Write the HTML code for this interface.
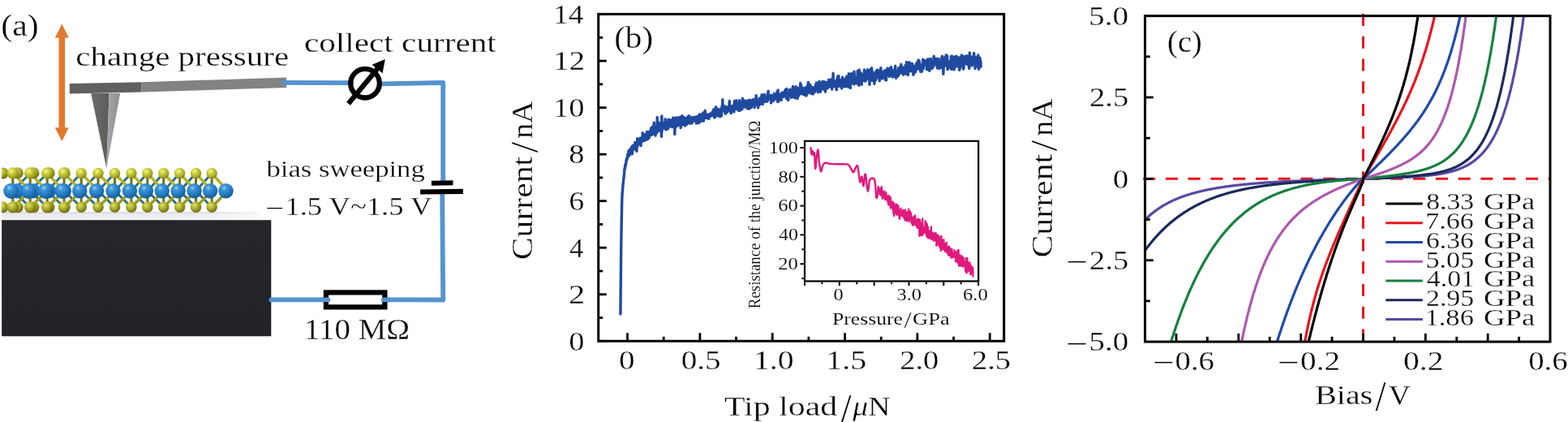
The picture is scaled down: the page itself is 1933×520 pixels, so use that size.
<!DOCTYPE html>
<html><head><meta charset="utf-8"><title>Figure</title>
<style>
html,body{margin:0;padding:0;background:#fff;overflow:hidden;}
svg{display:block;font-family:"Liberation Serif", "DejaVu Serif", serif;}
text{stroke:#fff;stroke-width:0.3px;}
</style></head>
<body>
<svg width="1933" height="520" viewBox="0 0 1933 520">
<rect width="1933" height="520" fill="#fff"/>
<defs>
<radialGradient id="gy" cx="0.38" cy="0.32" r="0.75">
 <stop offset="0" stop-color="#f4f59a"/><stop offset="0.35" stop-color="#cfd03c"/><stop offset="0.8" stop-color="#9a9a1e"/><stop offset="1" stop-color="#6e6e12"/></radialGradient>
<radialGradient id="gy2" cx="0.38" cy="0.32" r="0.75">
 <stop offset="0" stop-color="#dede6a"/><stop offset="0.4" stop-color="#b4b52e"/><stop offset="1" stop-color="#5e5e10"/></radialGradient>
<radialGradient id="gb" cx="0.38" cy="0.3" r="0.75">
 <stop offset="0" stop-color="#a0d0f4"/><stop offset="0.22" stop-color="#3f98d8"/><stop offset="0.65" stop-color="#2176bd"/><stop offset="1" stop-color="#125890"/></radialGradient>
<linearGradient id="gnd" x1="0" y1="0" x2="0" y2="1">
 <stop offset="0" stop-color="#d4d6dc"/><stop offset="0.3" stop-color="#eaebee"/><stop offset="1" stop-color="#f2f2f3"/></linearGradient>
<linearGradient id="gndh" x1="0" y1="0" x2="1" y2="0">
 <stop offset="0" stop-color="#fff" stop-opacity="0"/><stop offset="0.75" stop-color="#fff" stop-opacity="0.1"/><stop offset="1" stop-color="#fff" stop-opacity="0.8"/></linearGradient>
<linearGradient id="blk" x1="0" y1="0" x2="0" y2="1">
 <stop offset="0" stop-color="#25262a"/><stop offset="1" stop-color="#222326"/></linearGradient>
<linearGradient id="tipL" x1="0" y1="0" x2="1" y2="0">
 <stop offset="0" stop-color="#6c6c6c"/><stop offset="1" stop-color="#5a5d58"/></linearGradient>
<linearGradient id="tipR" x1="0" y1="0" x2="1" y2="0">
 <stop offset="0" stop-color="#a9a9a9"/><stop offset="1" stop-color="#8c8c8c"/></linearGradient>
</defs>
<text x="1.26" y="43.80" font-size="38.1" textLength="46.48" lengthAdjust="spacingAndGlyphs" fill="#000" >(a)</text>
<rect x="72.5" y="44" width="7.6" height="116" fill="#e3782f"/>
<polygon points="76.3,29.6 84.8,46.6 67.8,46.6" fill="#e3782f"/>
<polygon points="76.3,174 84.7,157.2 67.8,157.2" fill="#e3782f"/>
<polygon points="0,261 317,261 331,271.5 0,271.5" fill="url(#gnd)"/>
<polygon points="0,261 317,261 331,271.5 0,271.5" fill="url(#gndh)"/>
<rect x="2.1" y="271.2" width="332.2" height="143.1" fill="url(#blk)"/>
<g><line x1="37.2" y1="213.5" x2="15.8" y2="235.3" stroke="#236f84" stroke-width="2.8"/><line x1="37.2" y1="255.3" x2="15.8" y2="235.3" stroke="#236f84" stroke-width="2.8"/><line x1="58.2" y1="213.5" x2="37.2" y2="235.3" stroke="#236f84" stroke-width="2.8"/><line x1="58.2" y1="255.3" x2="37.2" y2="235.3" stroke="#236f84" stroke-width="2.8"/><line x1="79.0" y1="213.5" x2="58.2" y2="235.3" stroke="#236f84" stroke-width="2.8"/><line x1="79.0" y1="255.3" x2="58.2" y2="235.3" stroke="#236f84" stroke-width="2.8"/><line x1="100.2" y1="213.5" x2="79.0" y2="235.3" stroke="#236f84" stroke-width="2.8"/><line x1="100.2" y1="255.3" x2="79.0" y2="235.3" stroke="#236f84" stroke-width="2.8"/><line x1="121.0" y1="213.5" x2="100.2" y2="235.3" stroke="#236f84" stroke-width="2.8"/><line x1="121.0" y1="255.3" x2="100.2" y2="235.3" stroke="#236f84" stroke-width="2.8"/><line x1="141.5" y1="213.5" x2="121.0" y2="235.3" stroke="#236f84" stroke-width="2.8"/><line x1="141.5" y1="255.3" x2="121.0" y2="235.3" stroke="#236f84" stroke-width="2.8"/><line x1="161.9" y1="213.5" x2="141.5" y2="235.3" stroke="#236f84" stroke-width="2.8"/><line x1="161.9" y1="255.3" x2="141.5" y2="235.3" stroke="#236f84" stroke-width="2.8"/><line x1="181.8" y1="213.5" x2="161.9" y2="235.3" stroke="#236f84" stroke-width="2.8"/><line x1="181.8" y1="255.3" x2="161.9" y2="235.3" stroke="#236f84" stroke-width="2.8"/><line x1="201.7" y1="213.5" x2="181.8" y2="235.3" stroke="#236f84" stroke-width="2.8"/><line x1="201.7" y1="255.3" x2="181.8" y2="235.3" stroke="#236f84" stroke-width="2.8"/><line x1="221.6" y1="213.5" x2="201.7" y2="235.3" stroke="#236f84" stroke-width="2.8"/><line x1="221.6" y1="255.3" x2="201.7" y2="235.3" stroke="#236f84" stroke-width="2.8"/><line x1="241.5" y1="213.5" x2="221.6" y2="235.3" stroke="#236f84" stroke-width="2.8"/><line x1="241.5" y1="255.3" x2="221.6" y2="235.3" stroke="#236f84" stroke-width="2.8"/><line x1="261.1" y1="213.5" x2="241.5" y2="235.3" stroke="#236f84" stroke-width="2.8"/><line x1="261.1" y1="255.3" x2="241.5" y2="235.3" stroke="#236f84" stroke-width="2.8"/><line x1="15.8" y1="213.5" x2="37.2" y2="235.3" stroke="#b3b42c" stroke-width="3.6"/><line x1="15.8" y1="255.3" x2="37.2" y2="235.3" stroke="#9c9d22" stroke-width="3.6"/><line x1="15.8" y1="213.5" x2="15.8" y2="255.3" stroke="#6f7016" stroke-width="3"/><line x1="37.2" y1="213.5" x2="58.2" y2="235.3" stroke="#b3b42c" stroke-width="3.6"/><line x1="37.2" y1="255.3" x2="58.2" y2="235.3" stroke="#9c9d22" stroke-width="3.6"/><line x1="37.2" y1="213.5" x2="37.2" y2="255.3" stroke="#6f7016" stroke-width="3"/><line x1="58.2" y1="213.5" x2="79.0" y2="235.3" stroke="#b3b42c" stroke-width="3.6"/><line x1="58.2" y1="255.3" x2="79.0" y2="235.3" stroke="#9c9d22" stroke-width="3.6"/><line x1="58.2" y1="213.5" x2="58.2" y2="255.3" stroke="#6f7016" stroke-width="3"/><line x1="79.0" y1="213.5" x2="100.2" y2="235.3" stroke="#b3b42c" stroke-width="3.6"/><line x1="79.0" y1="255.3" x2="100.2" y2="235.3" stroke="#9c9d22" stroke-width="3.6"/><line x1="79.0" y1="213.5" x2="79.0" y2="255.3" stroke="#6f7016" stroke-width="3"/><line x1="100.2" y1="213.5" x2="121.0" y2="235.3" stroke="#b3b42c" stroke-width="3.6"/><line x1="100.2" y1="255.3" x2="121.0" y2="235.3" stroke="#9c9d22" stroke-width="3.6"/><line x1="100.2" y1="213.5" x2="100.2" y2="255.3" stroke="#6f7016" stroke-width="3"/><line x1="121.0" y1="213.5" x2="141.5" y2="235.3" stroke="#b3b42c" stroke-width="3.6"/><line x1="121.0" y1="255.3" x2="141.5" y2="235.3" stroke="#9c9d22" stroke-width="3.6"/><line x1="121.0" y1="213.5" x2="121.0" y2="255.3" stroke="#6f7016" stroke-width="3"/><line x1="141.5" y1="213.5" x2="161.9" y2="235.3" stroke="#b3b42c" stroke-width="3.6"/><line x1="141.5" y1="255.3" x2="161.9" y2="235.3" stroke="#9c9d22" stroke-width="3.6"/><line x1="141.5" y1="213.5" x2="141.5" y2="255.3" stroke="#6f7016" stroke-width="3"/><line x1="161.9" y1="213.5" x2="181.8" y2="235.3" stroke="#b3b42c" stroke-width="3.6"/><line x1="161.9" y1="255.3" x2="181.8" y2="235.3" stroke="#9c9d22" stroke-width="3.6"/><line x1="161.9" y1="213.5" x2="161.9" y2="255.3" stroke="#6f7016" stroke-width="3"/><line x1="181.8" y1="213.5" x2="201.7" y2="235.3" stroke="#b3b42c" stroke-width="3.6"/><line x1="181.8" y1="255.3" x2="201.7" y2="235.3" stroke="#9c9d22" stroke-width="3.6"/><line x1="181.8" y1="213.5" x2="181.8" y2="255.3" stroke="#6f7016" stroke-width="3"/><line x1="201.7" y1="213.5" x2="221.6" y2="235.3" stroke="#b3b42c" stroke-width="3.6"/><line x1="201.7" y1="255.3" x2="221.6" y2="235.3" stroke="#9c9d22" stroke-width="3.6"/><line x1="201.7" y1="213.5" x2="201.7" y2="255.3" stroke="#6f7016" stroke-width="3"/><line x1="221.6" y1="213.5" x2="241.5" y2="235.3" stroke="#b3b42c" stroke-width="3.6"/><line x1="221.6" y1="255.3" x2="241.5" y2="235.3" stroke="#9c9d22" stroke-width="3.6"/><line x1="221.6" y1="213.5" x2="221.6" y2="255.3" stroke="#6f7016" stroke-width="3"/><line x1="241.5" y1="213.5" x2="261.1" y2="235.3" stroke="#b3b42c" stroke-width="3.6"/><line x1="241.5" y1="255.3" x2="261.1" y2="235.3" stroke="#9c9d22" stroke-width="3.6"/><line x1="241.5" y1="213.5" x2="241.5" y2="255.3" stroke="#6f7016" stroke-width="3"/><line x1="261.1" y1="213.5" x2="280.5" y2="235.3" stroke="#b3b42c" stroke-width="3.6"/><line x1="261.1" y1="255.3" x2="280.5" y2="235.3" stroke="#9c9d22" stroke-width="3.6"/><line x1="261.1" y1="213.5" x2="261.1" y2="255.3" stroke="#6f7016" stroke-width="3"/><circle cx="3.5" cy="213.5" r="6.9" fill="url(#gy2)"/><circle cx="3.5" cy="255.3" r="6.9" fill="url(#gy2)"/><circle cx="21.8" cy="213.2" r="6.9" fill="url(#gy2)"/><circle cx="21.8" cy="255.3" r="6.9" fill="url(#gy2)"/><circle cx="20.8" cy="235.3" r="9.2" fill="url(#gb)"/><circle cx="41.5" cy="213.2" r="6.9" fill="url(#gy2)"/><circle cx="41.5" cy="255.3" r="6.9" fill="url(#gy2)"/><circle cx="40.5" cy="235.3" r="9.2" fill="url(#gb)"/><circle cx="60.7" cy="213.2" r="6.9" fill="url(#gy2)"/><circle cx="60.7" cy="255.3" r="6.9" fill="url(#gy2)"/><circle cx="59.7" cy="235.3" r="9.2" fill="url(#gb)"/><circle cx="79.8" cy="213.2" r="6.9" fill="url(#gy2)"/><circle cx="79.8" cy="255.3" r="6.9" fill="url(#gy2)"/><circle cx="78.8" cy="235.3" r="9.2" fill="url(#gb)"/><circle cx="15.8" cy="213.5" r="7.2" fill="url(#gy)"/><circle cx="15.8" cy="255.3" r="7.2" fill="url(#gy2)"/><circle cx="37.2" cy="213.5" r="7.2" fill="url(#gy)"/><circle cx="37.2" cy="255.3" r="7.2" fill="url(#gy2)"/><circle cx="58.2" cy="213.5" r="7.2" fill="url(#gy)"/><circle cx="58.2" cy="255.3" r="7.2" fill="url(#gy2)"/><circle cx="79.0" cy="213.5" r="7.2" fill="url(#gy)"/><circle cx="79.0" cy="255.3" r="7.2" fill="url(#gy2)"/><circle cx="100.2" cy="213.5" r="6.7" fill="url(#gy)"/><circle cx="100.2" cy="255.3" r="6.7" fill="url(#gy2)"/><circle cx="121.0" cy="213.5" r="6.7" fill="url(#gy)"/><circle cx="121.0" cy="255.3" r="6.7" fill="url(#gy2)"/><circle cx="141.5" cy="213.5" r="6.7" fill="url(#gy)"/><circle cx="141.5" cy="255.3" r="6.7" fill="url(#gy2)"/><circle cx="161.9" cy="213.5" r="6.7" fill="url(#gy)"/><circle cx="161.9" cy="255.3" r="6.7" fill="url(#gy2)"/><circle cx="181.8" cy="213.5" r="6.7" fill="url(#gy)"/><circle cx="181.8" cy="255.3" r="6.7" fill="url(#gy2)"/><circle cx="201.7" cy="213.5" r="6.7" fill="url(#gy)"/><circle cx="201.7" cy="255.3" r="6.7" fill="url(#gy2)"/><circle cx="221.6" cy="213.5" r="6.7" fill="url(#gy)"/><circle cx="221.6" cy="255.3" r="6.7" fill="url(#gy2)"/><circle cx="241.5" cy="213.5" r="6.7" fill="url(#gy)"/><circle cx="241.5" cy="255.3" r="6.7" fill="url(#gy2)"/><circle cx="261.1" cy="213.5" r="6.7" fill="url(#gy)"/><circle cx="261.1" cy="255.3" r="6.7" fill="url(#gy2)"/><circle cx="13.8" cy="235.3" r="9.6" fill="url(#gb)"/><circle cx="35.2" cy="235.3" r="9.6" fill="url(#gb)"/><circle cx="56.2" cy="235.3" r="9.6" fill="url(#gb)"/><circle cx="77.0" cy="235.3" r="9.6" fill="url(#gb)"/><circle cx="98.2" cy="235.3" r="9.2" fill="url(#gb)"/><circle cx="119.0" cy="235.3" r="9.2" fill="url(#gb)"/><circle cx="139.5" cy="235.3" r="9.2" fill="url(#gb)"/><circle cx="159.9" cy="235.3" r="9.2" fill="url(#gb)"/><circle cx="179.8" cy="235.3" r="9.2" fill="url(#gb)"/><circle cx="199.7" cy="235.3" r="9.2" fill="url(#gb)"/><circle cx="219.6" cy="235.3" r="9.2" fill="url(#gb)"/><circle cx="239.5" cy="235.3" r="9.2" fill="url(#gb)"/><circle cx="259.1" cy="235.3" r="9.2" fill="url(#gb)"/><circle cx="278.5" cy="235.3" r="9.2" fill="url(#gb)"/></g>
<rect x="0" y="200" width="2" height="70" fill="#fff"/>
<polygon points="112.2,115 134.5,115 131.3,207.5" fill="url(#tipL)"/>
<polygon points="134.5,115 148.1,115 131.3,207.5" fill="url(#tipR)"/>
<polygon points="85.8,103.1 174.2,101.3 174.2,113.6 85.8,115.4" fill="#5f6060"/>
<polygon points="174.2,101.3 353.1,95.4 353.1,107.9 174.2,113.6" fill="#838383"/>
<polyline points="350.0,101.8 433.0,102.2" fill="none" stroke="#5593cf" stroke-width="5.8" stroke-linejoin="round" stroke-linecap="round" stroke-linecap="butt"/>
<polyline points="468.0,103.4 546.2,101.9 546.2,223.0" fill="none" stroke="#5593cf" stroke-width="5.8" stroke-linejoin="round" stroke-linecap="round" stroke-linecap="butt" stroke-linejoin="miter"/>
<polyline points="545.2,236.0 546.2,369.5 473.0,369.4" fill="none" stroke="#5593cf" stroke-width="5.8" stroke-linejoin="round" stroke-linecap="round" stroke-linecap="butt" stroke-linejoin="miter"/>
<polyline points="404.0,369.3 334.3,369.4" fill="none" stroke="#5593cf" stroke-width="5.8" stroke-linejoin="round" stroke-linecap="round" stroke-linecap="butt"/>
<rect x="401.9" y="360.4" width="72.5" height="18" fill="#fff" stroke="#000" stroke-width="6.2"/>
<polyline points="396.0,369.3 404.5,369.3" fill="none" stroke="#5593cf" stroke-width="5.8" stroke-linejoin="round" stroke-linecap="round" stroke-linecap="butt"/>
<polyline points="472.8,369.3 480.0,369.3" fill="none" stroke="#5593cf" stroke-width="5.8" stroke-linejoin="round" stroke-linecap="round" stroke-linecap="butt"/>
<circle cx="450" cy="102.7" r="17.8" fill="none" stroke="#000" stroke-width="6.3"/>
<line x1="429.50" y1="127.80" x2="465.50" y2="84.50" stroke="#000" stroke-width="6.2" />
<polygon points="474.8,72.9 458.6,79.8 471.6,90.2" fill="#000"/>
<polygon points="531.9,222.8 558.5,222.2 558.5,228.2 531.9,228.8" fill="#000"/>
<polygon points="518.1,233.4 571,232.7 571,239 518.1,239.5" fill="#000"/>
<text x="93.34" y="81.00" font-size="33.5" textLength="262.78" lengthAdjust="spacingAndGlyphs" fill="#000" >change pressure</text>
<text x="374.93" y="63.90" font-size="33.6" textLength="236.91" lengthAdjust="spacingAndGlyphs" fill="#000" >collect current</text>
<text x="328.50" y="218.00" font-size="29.3" textLength="195.26" lengthAdjust="spacingAndGlyphs" fill="#000" >bias sweeping</text>
<text x="327.13" y="266.80" font-size="31" textLength="23.39" lengthAdjust="spacingAndGlyphs" fill="#000" >−</text>
<text x="351.41" y="264.60" font-size="31" textLength="181.00" lengthAdjust="spacingAndGlyphs" fill="#000" >1.5 V~1.5 V</text>
<text x="375.12" y="418.20" font-size="35.3" textLength="129.97" lengthAdjust="spacingAndGlyphs" fill="#000" >110 MΩ</text>
<polyline points="764.9,386.9 765.1,365.1 765.3,344.1 765.5,325.8 765.7,307.4 765.9,292.8 766.1,280.8 766.3,268.5 766.5,259.1 766.7,250.3 766.9,242.6 767.1,239.3 767.3,236.5 767.5,233.9 767.8,231.0 768.0,227.4 768.2,225.8 768.4,224.2 768.6,222.5 768.8,221.1 769.0,219.1 769.2,216.5 769.4,214.3 769.6,212.2 769.8,209.1 770.0,207.7 770.2,208.5 770.4,207.8 770.6,204.4 770.8,203.0 771.0,204.1 771.2,204.3 771.4,202.9 771.6,202.7 771.8,199.0 772.0,198.2 772.2,199.2 772.4,195.8 772.6,195.9 772.8,196.7 773.0,194.9 773.2,193.8 773.4,195.3 773.6,194.7 773.8,190.1 774.0,192.5 774.2,193.0 774.4,189.8 774.6,192.1 774.8,188.5 775.0,185.6 775.2,191.0 775.4,192.0 775.6,188.4 775.8,188.5 776.0,188.0 776.2,187.4 776.4,187.1 776.6,183.9 776.8,186.2 777.0,188.2 777.2,187.6 777.4,187.5 777.6,188.7 777.9,189.9 778.1,187.6 778.3,184.3 778.5,181.2 778.7,185.6 778.9,189.5 779.1,185.0 779.3,187.4 779.5,189.6 779.7,185.2 779.9,181.1 780.1,179.1 780.3,182.4 780.5,184.5 780.7,184.1 780.9,179.5 781.1,179.6 781.3,183.6 781.5,181.5 781.7,180.8 781.9,181.9 782.1,184.0 782.3,183.3 782.5,181.4 782.7,178.3 782.9,175.4 783.1,178.0 783.3,177.7 783.5,178.2 783.7,177.0 783.9,175.9 784.1,176.8 784.3,179.7 784.5,180.0 784.7,180.8 784.9,186.4 785.1,182.8 785.3,179.8 785.5,178.4 785.7,170.6 785.9,172.8 786.1,179.5 786.3,176.8 786.5,173.9 786.7,174.6 786.9,176.1 787.1,173.7 787.3,171.7 787.5,175.7 787.8,177.0 788.0,174.2 788.2,176.3 788.4,175.6 788.6,174.9 788.8,172.9 789.0,170.1 789.2,172.1 789.4,173.8 789.6,174.0 789.8,177.3 790.0,179.6 790.2,173.7 790.4,176.0 790.6,174.7 790.8,173.6 791.0,173.7 791.2,171.3 791.4,171.1 791.6,168.6 791.8,174.1 792.0,171.2 792.2,163.8 792.4,166.9 792.6,170.9 792.8,171.0 793.0,172.5 793.2,169.3 793.4,168.1 793.6,170.8 793.8,171.2 794.0,172.5 794.2,173.5 794.4,168.8 794.6,165.9 794.8,166.4 795.0,165.9 795.2,169.8 795.4,170.4 795.6,170.0 795.8,169.0 796.0,168.4 796.2,169.0 796.4,171.3 796.6,172.4 796.8,164.8 797.0,164.4 797.2,170.8 797.4,168.2 797.7,162.1 797.9,166.3 798.1,170.0 798.3,167.9 798.5,171.5 798.7,168.1 798.9,163.7 799.1,165.1 799.3,166.7 799.5,165.6 799.7,165.0 799.9,166.2 800.1,167.5 800.3,169.9 800.5,163.8 800.7,161.9 800.9,164.3 801.1,163.0 801.3,164.6 801.5,165.6 801.7,162.8 801.9,162.1 802.1,163.9 802.3,162.9 802.5,159.5 802.7,157.7 802.9,159.5 803.1,162.4 803.3,166.5 803.5,162.6 803.7,156.8 803.9,159.3 804.1,160.1 804.3,157.7 804.5,156.8 804.7,156.3 804.9,159.3 805.1,157.7 805.3,159.5 805.5,160.9 805.7,156.5 805.9,156.3 806.1,152.7 806.3,151.1 806.5,158.3 806.7,165.8 806.9,160.9 807.1,159.1 807.3,160.9 807.5,156.3 807.8,160.1 808.0,167.1 808.2,162.4 808.4,157.1 808.6,158.2 808.8,158.2 809.0,159.6 809.2,163.3 809.4,161.6 809.6,160.2 809.8,163.7 810.0,160.1 810.2,144.5 810.4,156.3 810.6,158.5 810.8,161.1 811.0,161.0 811.2,161.5 811.4,158.5 811.6,158.2 811.8,157.8 812.0,155.0 812.2,150.9 812.4,155.0 812.6,157.7 812.8,154.5 813.0,156.6 813.2,159.9 813.4,160.9 813.6,155.5 813.8,154.5 814.0,156.1 814.2,156.5 814.4,153.8 814.6,153.1 814.8,161.2 815.0,162.8 815.2,162.1 815.4,168.3 815.6,164.7 815.8,142.9 816.0,152.1 816.2,158.1 816.4,160.4 816.6,154.8 816.8,152.0 817.0,154.6 817.2,155.1 817.4,155.0 817.7,152.9 817.9,151.6 818.1,153.0 818.3,156.8 818.5,156.0 818.7,155.1 818.9,153.7 819.1,155.0 819.3,158.0 819.5,154.9 819.7,157.7 819.9,153.4 820.1,146.6 820.3,151.9 820.5,153.5 820.7,151.4 820.9,159.6 821.1,159.8 821.3,153.6 821.5,153.9 821.7,156.4 821.9,157.2 822.1,154.9 822.3,151.3 822.5,150.0 822.7,152.9 822.9,149.9 823.1,151.2 823.3,155.8 823.5,158.9 823.7,154.1 823.9,147.2 824.1,148.8 824.3,149.4 824.5,151.4 824.7,152.4 824.9,153.2 825.1,154.2 825.3,153.4 825.5,149.2 825.7,147.9 825.9,151.7 826.1,154.4 826.3,155.7 826.5,150.4 826.7,147.6 826.9,151.3 827.1,153.3 827.3,156.1 827.5,155.4 827.8,150.5 828.0,151.2 828.2,153.9 828.4,153.4 828.6,152.5 828.8,155.8 829.0,156.6 829.2,154.8 829.4,152.0 829.6,151.8 829.8,145.0 830.0,146.9 830.2,149.0 830.4,154.0 830.6,152.8 830.8,151.3 831.0,154.1 831.2,152.9 831.4,145.7 831.6,147.4 831.8,165.4 832.0,154.4 832.2,153.1 832.4,153.6 832.6,156.9 832.8,150.9 833.0,150.3 833.2,150.8 833.4,145.0 833.6,146.9 833.8,149.1 834.0,145.1 834.2,146.8 834.4,152.7 834.6,155.4 834.8,153.9 835.0,147.2 835.2,145.0 835.4,150.6 835.6,154.8 835.8,153.7 836.0,151.0 836.2,150.2 836.4,150.4 836.6,149.2 836.8,150.3 837.0,151.0 837.2,149.8 837.4,149.9 837.7,149.1 837.9,144.6 838.1,144.3 838.3,148.5 838.5,153.7 838.7,152.9 838.9,145.8 839.1,157.5 839.3,151.0 839.5,146.1 839.7,148.4 839.9,153.9 840.1,154.4 840.3,152.0 840.5,149.6 840.7,142.8 840.9,143.8 841.1,150.7 841.3,153.8 841.5,152.1 841.7,149.8 841.9,152.3 842.1,151.5 842.3,151.5 842.5,149.2 842.7,144.1 842.9,144.2 843.1,147.6 843.3,148.9 843.5,148.0 843.7,150.0 843.9,150.5 844.1,152.5 844.3,154.9 844.5,150.2 844.7,147.3 844.9,148.6 845.1,145.9 845.3,150.2 845.5,154.1 845.7,149.8 845.9,147.2 846.1,148.3 846.3,146.9 846.5,145.5 846.7,150.5 846.9,153.0 847.1,148.5 847.3,145.3 847.5,151.3 847.8,149.3 848.0,143.7 848.2,143.7 848.4,145.8 848.6,149.4 848.8,151.0 849.0,144.7 849.2,142.6 849.4,144.6 849.6,145.6 849.8,148.7 850.0,150.9 850.2,152.1 850.4,146.2 850.6,148.1 850.8,147.8 851.0,144.3 851.2,148.9 851.4,150.7 851.6,149.4 851.8,148.4 852.0,148.5 852.2,150.1 852.4,149.6 852.6,150.0 852.8,152.1 853.0,149.9 853.2,145.2 853.4,148.3 853.6,150.2 853.8,148.2 854.0,150.3 854.2,147.0 854.4,146.0 854.6,144.6 854.8,145.1 855.0,147.5 855.2,146.2 855.4,148.6 855.6,146.8 855.8,145.5 856.0,145.5 856.2,145.2 856.4,148.7 856.6,148.8 856.8,146.4 857.0,144.1 857.2,146.1 857.4,148.1 857.7,149.8 857.9,148.3 858.1,146.9 858.3,152.0 858.5,149.8 858.7,143.7 858.9,146.7 859.1,151.3 859.3,149.6 859.5,149.6 859.7,147.2 859.9,146.5 860.1,148.8 860.3,145.8 860.5,145.9 860.7,146.1 860.9,146.5 861.1,149.9 861.3,151.6 861.5,145.1 861.7,141.9 861.9,145.2 862.1,144.6 862.3,144.7 862.5,144.5 862.7,140.8 862.9,143.0 863.1,150.0 863.3,149.9 863.5,149.4 863.7,145.7 863.9,141.2 864.1,144.7 864.3,149.2 864.5,147.9 864.7,142.1 864.9,147.1 865.1,148.8 865.3,145.1 865.5,144.0 865.7,144.0 865.9,146.6 866.1,147.5 866.3,148.8 866.5,142.8 866.7,139.0 866.9,142.6 867.1,146.1 867.3,149.1 867.5,148.1 867.8,144.1 868.0,143.4 868.2,143.5 868.4,145.6 868.6,145.5 868.8,143.2 869.0,140.3 869.2,136.3 869.4,139.2 869.6,144.6 869.8,144.4 870.0,144.0 870.2,145.3 870.4,144.1 870.6,144.7 870.8,143.2 871.0,141.2 871.2,141.9 871.4,142.0 871.6,144.0 871.8,145.5 872.0,144.4 872.2,143.5 872.4,142.5 872.6,141.3 872.8,144.5 873.0,144.3 873.2,144.2 873.4,145.6 873.6,143.3 873.8,146.3 874.0,145.5 874.2,140.8 874.4,141.2 874.6,142.4 874.8,142.7 875.0,143.8 875.2,143.5 875.4,142.6 875.6,141.8 875.8,143.1 876.0,142.7 876.2,139.9 876.4,140.6 876.6,141.7 876.8,140.2 877.0,142.7 877.2,142.8 877.4,138.8 877.7,139.1 877.9,138.7 878.1,140.6 878.3,141.9 878.5,139.2 878.7,137.7 878.9,138.5 879.1,142.5 879.3,141.7 879.5,136.1 879.7,135.0 879.9,136.9 880.1,142.2 880.3,140.7 880.5,137.7 880.7,144.9 880.9,143.7 881.1,141.5 881.3,144.9 881.5,143.1 881.7,137.6 881.9,137.0 882.1,139.0 882.3,134.5 882.5,131.7 882.7,135.5 882.9,139.3 883.1,141.7 883.3,142.6 883.5,139.0 883.7,136.6 883.9,137.2 884.1,135.9 884.3,137.7 884.5,139.8 884.7,136.6 884.9,135.2 885.1,134.4 885.3,134.7 885.5,137.6 885.7,137.6 885.9,139.0 886.1,143.1 886.3,139.8 886.5,136.4 886.7,136.9 886.9,140.3 887.1,141.6 887.3,139.2 887.6,140.2 887.8,143.7 888.0,142.5 888.2,135.8 888.4,134.2 888.6,137.3 888.8,138.1 889.0,135.1 889.2,140.9 889.4,142.7 889.6,135.6 889.8,133.9 890.0,131.4 890.2,130.3 890.4,133.2 890.6,134.9 890.8,122.8 891.0,135.6 891.2,129.9 891.4,134.1 891.6,129.8 891.8,132.0 892.0,136.2 892.2,135.4 892.4,132.4 892.6,132.8 892.8,132.5 893.0,134.4 893.2,137.8 893.4,136.2 893.6,134.0 893.8,131.3 894.0,136.1 894.2,140.2 894.4,136.3 894.6,135.6 894.8,139.5 895.0,135.9 895.2,131.5 895.4,132.6 895.6,134.6 895.8,133.4 896.0,132.9 896.2,132.6 896.4,134.0 896.6,138.1 896.8,135.7 897.0,135.3 897.2,134.2 897.4,132.1 897.7,135.4 897.9,135.8 898.1,134.5 898.3,132.6 898.5,133.2 898.7,136.0 898.9,132.0 899.1,126.2 899.3,124.5 899.5,129.1 899.7,132.8 899.9,129.6 900.1,130.3 900.3,135.6 900.5,135.1 900.7,138.4 900.9,133.9 901.1,138.4 901.3,139.6 901.5,134.6 901.7,133.1 901.9,134.8 902.1,132.7 902.3,131.0 902.5,132.1 902.7,132.3 902.9,133.5 903.1,135.3 903.3,135.5 903.5,132.2 903.7,130.1 903.9,134.0 904.1,134.7 904.3,133.5 904.5,131.2 904.7,134.1 904.9,137.8 905.1,135.1 905.3,127.4 905.5,124.5 905.7,130.1 905.9,130.6 906.1,125.9 906.3,127.9 906.5,133.0 906.7,129.9 906.9,134.2 907.1,129.1 907.3,131.2 907.6,128.4 907.8,123.6 908.0,126.5 908.2,128.7 908.4,134.2 908.6,134.2 908.8,130.2 909.0,130.6 909.2,128.7 909.4,130.3 909.6,135.4 909.8,133.8 910.0,131.7 910.2,133.2 910.4,132.8 910.6,132.8 910.8,136.4 911.0,133.0 911.2,127.4 911.4,127.6 911.6,123.8 911.8,126.1 912.0,134.2 912.2,136.2 912.4,134.8 912.6,133.9 912.8,131.1 913.0,134.3 913.2,133.7 913.4,132.6 913.6,132.6 913.8,129.6 914.0,130.8 914.2,130.7 914.4,131.1 914.6,132.3 914.8,134.7 915.0,133.4 915.2,125.7 915.4,121.3 915.6,122.4 915.8,125.1 916.0,129.4 916.2,127.7 916.4,126.3 916.6,129.5 916.8,130.0 917.0,129.6 917.2,129.9 917.4,130.2 917.7,131.6 917.9,132.1 918.1,124.8 918.3,124.1 918.5,129.5 918.7,128.1 918.9,126.0 919.1,129.6 919.3,131.5 919.5,127.0 919.7,125.9 919.9,127.6 920.1,124.8 920.3,126.5 920.5,129.6 920.7,129.2 920.9,126.1 921.1,129.2 921.3,133.8 921.5,130.7 921.7,127.7 921.9,125.2 922.1,123.6 922.3,128.3 922.5,129.6 922.7,126.8 922.9,129.8 923.1,128.0 923.3,128.5 923.5,134.1 923.7,126.5 923.9,131.6 924.1,132.1 924.3,128.0 924.5,125.8 924.7,123.1 924.9,124.2 925.1,131.0 925.3,132.2 925.5,130.8 925.7,131.7 925.9,128.7 926.1,127.4 926.3,132.6 926.5,129.7 926.7,125.5 926.9,126.2 927.1,125.7 927.3,125.0 927.6,125.1 927.8,123.8 928.0,122.9 928.2,124.7 928.4,124.6 928.6,128.6 928.8,129.9 929.0,127.2 929.2,126.3 929.4,128.7 929.6,125.5 929.8,122.2 930.0,128.4 930.2,132.4 930.4,130.3 930.6,126.7 930.8,127.6 931.0,127.1 931.2,126.9 931.4,125.9 931.6,126.0 931.8,127.2 932.0,123.4 932.2,117.6 932.4,122.0 932.6,128.6 932.8,128.2 933.0,125.4 933.2,126.0 933.4,128.8 933.6,126.3 933.8,127.3 934.0,129.3 934.2,128.1 934.4,130.6 934.6,132.7 934.8,128.9 935.0,125.4 935.2,124.8 935.4,129.0 935.6,129.6 935.8,123.8 936.0,121.5 936.2,123.4 936.4,126.6 936.6,124.9 936.8,124.2 937.0,128.1 937.2,128.6 937.4,122.7 937.7,120.4 937.9,121.0 938.1,122.5 938.3,123.0 938.5,123.2 938.7,125.6 938.9,118.7 939.1,116.6 939.3,123.1 939.5,125.0 939.7,123.1 939.9,120.2 940.1,121.9 940.3,128.4 940.5,127.9 940.7,124.0 940.9,123.1 941.1,120.1 941.3,119.6 941.5,120.7 941.7,123.8 941.9,123.6 942.1,116.5 942.3,116.6 942.5,120.7 942.7,122.0 942.9,118.5 943.1,120.9 943.3,125.1 943.5,121.9 943.7,120.0 943.9,121.9 944.1,122.8 944.3,122.4 944.5,122.8 944.7,122.4 944.9,125.2 945.1,124.9 945.3,120.3 945.5,122.4 945.7,124.8 945.9,121.2 946.1,123.0 946.3,115.2 946.5,123.9 946.7,121.7 946.9,114.2 947.1,112.1 947.3,117.7 947.6,120.5 947.8,119.7 948.0,121.1 948.2,117.9 948.4,121.0 948.6,122.1 948.8,119.2 949.0,118.3 949.2,117.7 949.4,122.3 949.6,122.1 949.8,118.9 950.0,119.4 950.2,119.9 950.4,121.1 950.6,126.9 950.8,123.7 951.0,117.3 951.2,118.9 951.4,120.3 951.6,118.2 951.8,119.4 952.0,123.2 952.2,122.6 952.4,118.3 952.6,120.9 952.8,120.9 953.0,119.1 953.2,124.2 953.4,119.9 953.6,117.6 953.8,123.3 954.0,123.9 954.2,118.8 954.4,115.3 954.6,118.3 954.8,120.0 955.0,117.4 955.2,119.7 955.4,120.4 955.6,119.0 955.8,121.0 956.0,121.9 956.2,120.5 956.4,119.3 956.6,120.7 956.8,121.7 957.0,117.9 957.2,116.4 957.5,116.8 957.7,114.6 957.9,115.2 958.1,112.7 958.3,115.9 958.5,119.1 958.7,125.4 958.9,115.5 959.1,110.9 959.3,119.5 959.5,125.4 959.7,119.5 959.9,115.5 960.1,115.3 960.3,117.1 960.5,117.7 960.7,116.1 960.9,117.2 961.1,116.3 961.3,121.2 961.5,122.1 961.7,119.2 961.9,118.5 962.1,116.6 962.3,120.7 962.5,119.3 962.7,119.3 962.9,122.2 963.1,123.6 963.3,121.6 963.5,116.8 963.7,114.4 963.9,115.8 964.1,115.7 964.3,115.3 964.5,117.8 964.7,116.5 964.9,113.9 965.1,115.9 965.3,118.8 965.5,118.4 965.7,117.6 965.9,119.2 966.1,117.0 966.3,115.8 966.5,117.1 966.7,118.0 966.9,118.2 967.1,115.4 967.3,117.1 967.6,113.3 967.8,111.5 968.0,112.0 968.2,110.6 968.4,116.1 968.6,119.1 968.8,116.6 969.0,115.5 969.2,116.4 969.4,117.1 969.6,121.3 969.8,113.3 970.0,109.5 970.2,120.6 970.4,117.1 970.6,119.6 970.8,118.4 971.0,116.1 971.2,118.8 971.4,123.4 971.6,122.5 971.8,123.1 972.0,122.8 972.2,114.5 972.4,114.6 972.6,116.7 972.8,117.4 973.0,118.2 973.2,115.7 973.4,116.5 973.6,114.4 973.8,110.2 974.0,111.0 974.2,114.7 974.4,117.3 974.6,116.2 974.8,114.5 975.0,113.9 975.2,113.4 975.4,111.3 975.6,115.7 975.8,120.3 976.0,113.7 976.2,113.8 976.4,117.5 976.6,117.3 976.8,118.6 977.0,117.7 977.2,108.9 977.5,106.5 977.7,114.6 977.9,119.2 978.1,117.5 978.3,113.1 978.5,114.0 978.7,117.9 978.9,113.9 979.1,110.3 979.3,113.1 979.5,117.7 979.7,120.3 979.9,119.3 980.1,120.8 980.3,117.4 980.5,113.7 980.7,114.3 980.9,108.5 981.1,106.8 981.3,113.8 981.5,114.4 981.7,109.0 981.9,112.7 982.1,117.5 982.3,116.0 982.5,117.5 982.7,113.8 982.9,115.6 983.1,121.5 983.3,108.3 983.5,114.4 983.7,113.4 983.9,112.2 984.1,113.0 984.3,111.0 984.5,115.4 984.7,118.0 984.9,114.6 985.1,114.3 985.3,112.1 985.5,114.4 985.7,116.4 985.9,112.4 986.1,110.0 986.3,113.4 986.5,109.4 986.7,102.5 986.9,110.5 987.1,115.1 987.3,105.9 987.6,104.7 987.8,110.0 988.0,112.2 988.2,114.0 988.4,113.9 988.6,113.9 988.8,111.6 989.0,111.2 989.2,113.9 989.4,115.8 989.6,114.8 989.8,114.0 990.0,114.3 990.2,109.8 990.4,108.4 990.6,109.6 990.8,109.6 991.0,116.9 991.2,111.7 991.4,112.5 991.6,110.4 991.8,112.1 992.0,110.7 992.2,108.1 992.4,112.9 992.6,114.1 992.8,113.9 993.0,112.3 993.2,112.4 993.4,110.0 993.6,110.1 993.8,118.0 994.0,117.9 994.2,117.2 994.4,115.6 994.6,108.3 994.8,106.7 995.0,112.2 995.2,115.5 995.4,108.2 995.6,105.6 995.8,109.7 996.0,107.9 996.2,102.2 996.4,101.5 996.6,106.9 996.8,109.1 997.0,107.9 997.2,110.1 997.5,114.0 997.7,112.4 997.9,112.1 998.1,112.3 998.3,109.8 998.5,104.1 998.7,106.3 998.9,112.0 999.1,110.4 999.3,109.0 999.5,106.1 999.7,108.3 999.9,112.6 1000.1,115.2 1000.3,115.4 1000.5,110.3 1000.7,108.0 1000.9,111.6 1001.1,112.5 1001.3,110.0 1001.5,107.9 1001.7,109.3 1001.9,111.0 1002.1,113.9 1002.3,115.9 1002.5,107.8 1002.7,110.2 1002.9,114.8 1003.1,109.0 1003.3,109.1 1003.5,111.5 1003.7,110.7 1003.9,108.7 1004.1,108.7 1004.3,113.1 1004.5,113.2 1004.7,110.8 1004.9,111.7 1005.1,109.1 1005.3,106.2 1005.5,104.6 1005.7,107.2 1005.9,107.1 1006.1,103.1 1006.3,102.6 1006.5,102.0 1006.7,105.0 1006.9,108.7 1007.1,106.3 1007.3,109.1 1007.6,110.5 1007.8,108.5 1008.0,109.8 1008.2,112.6 1008.4,113.8 1008.6,109.7 1008.8,105.4 1009.0,103.0 1009.2,105.3 1009.4,108.0 1009.6,109.7 1009.8,100.1 1010.0,106.9 1010.2,106.3 1010.4,101.6 1010.6,103.0 1010.8,110.7 1011.0,112.6 1011.2,112.5 1011.4,113.2 1011.6,106.6 1011.8,103.2 1012.0,109.9 1012.2,108.8 1012.4,102.2 1012.6,104.5 1012.8,109.1 1013.0,109.0 1013.2,106.7 1013.4,104.3 1013.6,102.1 1013.8,100.7 1014.0,100.7 1014.2,100.3 1014.4,101.5 1014.6,108.3 1014.8,110.1 1015.0,105.7 1015.2,106.3 1015.4,104.8 1015.6,104.7 1015.8,109.0 1016.0,104.7 1016.2,100.8 1016.4,103.7 1016.6,103.1 1016.8,101.0 1017.0,102.4 1017.2,110.7 1017.5,113.1 1017.7,108.3 1017.9,108.9 1018.1,107.3 1018.3,102.1 1018.5,103.7 1018.7,109.2 1018.9,103.2 1019.1,101.5 1019.3,109.2 1019.5,107.5 1019.7,103.5 1019.9,105.7 1020.1,104.8 1020.3,104.3 1020.5,108.3 1020.7,106.7 1020.9,102.6 1021.1,104.5 1021.3,105.5 1021.5,104.2 1021.7,98.2 1021.9,99.6 1022.1,103.0 1022.3,101.4 1022.5,104.9 1022.7,103.0 1022.9,100.5 1023.1,99.2 1023.3,100.5 1023.5,104.9 1023.7,107.0 1023.9,104.3 1024.1,101.5 1024.3,99.4 1024.5,99.7 1024.7,100.5 1024.9,97.8 1025.1,99.9 1025.3,107.0 1025.5,100.9 1025.7,110.1 1025.9,103.4 1026.1,101.9 1026.3,102.7 1026.5,99.3 1026.7,98.1 1026.9,97.0 1027.1,90.2 1027.4,104.2 1027.6,103.7 1027.8,102.7 1028.0,104.2 1028.2,104.6 1028.4,99.4 1028.6,103.4 1028.8,106.6 1029.0,104.6 1029.2,104.8 1029.4,100.5 1029.6,101.1 1029.8,101.2 1030.0,104.8 1030.2,104.0 1030.4,101.6 1030.6,102.7 1030.8,100.8 1031.0,108.4 1031.2,110.7 1031.4,103.8 1031.6,98.2 1031.8,98.0 1032.0,101.1 1032.2,105.2 1032.4,102.3 1032.6,94.5 1032.8,97.8 1033.0,102.7 1033.2,106.6 1033.4,103.9 1033.6,93.4 1033.8,93.8 1034.0,97.2 1034.2,97.6 1034.4,103.0 1034.6,101.0 1034.8,101.6 1035.0,105.3 1035.2,101.6 1035.4,98.9 1035.6,98.5 1035.8,99.6 1036.0,102.5 1036.2,106.5 1036.4,104.4 1036.6,103.0 1036.8,106.3 1037.0,107.6 1037.2,105.5 1037.5,106.9 1037.7,108.9 1037.9,108.4 1038.1,104.6 1038.3,99.6 1038.5,95.2 1038.7,99.7 1038.9,106.2 1039.1,100.3 1039.3,99.1 1039.5,102.1 1039.7,97.4 1039.9,97.4 1040.1,104.3 1040.3,106.6 1040.5,103.0 1040.7,99.0 1040.9,103.1 1041.1,106.2 1041.3,101.5 1041.5,97.6 1041.7,100.5 1041.9,100.3 1042.1,97.3 1042.3,103.1 1042.5,105.2 1042.7,99.8 1042.9,100.4 1043.1,106.6 1043.3,105.9 1043.5,98.8 1043.7,94.2 1043.9,101.3 1044.1,98.7 1044.3,96.1 1044.5,100.1 1044.7,94.3 1044.9,94.2 1045.1,96.8 1045.3,102.0 1045.5,100.8 1045.7,99.6 1045.9,107.3 1046.1,98.6 1046.3,90.6 1046.5,93.0 1046.7,97.0 1046.9,97.8 1047.1,91.6 1047.4,91.3 1047.6,95.3 1047.8,102.0 1048.0,102.3 1048.2,104.8 1048.4,108.5 1048.6,102.8 1048.8,101.0 1049.0,101.6 1049.2,99.4 1049.4,94.1 1049.6,90.6 1049.8,95.4 1050.0,95.6 1050.2,97.4 1050.4,101.2 1050.6,96.9 1050.8,99.1 1051.0,102.1 1051.2,90.6 1051.4,101.2 1051.6,93.8 1051.8,95.9 1052.0,99.4 1052.2,99.7 1052.4,103.1 1052.6,103.9 1052.8,97.4 1053.0,88.3 1053.2,90.7 1053.4,98.4 1053.6,97.8 1053.8,96.8 1054.0,96.5 1054.2,94.9 1054.4,96.1 1054.6,95.3 1054.8,97.4 1055.0,99.9 1055.2,102.7 1055.4,102.8 1055.6,102.0 1055.8,101.2 1056.0,100.0 1056.2,99.4 1056.4,95.8 1056.6,99.6 1056.8,102.7 1057.0,101.5 1057.2,87.4 1057.5,90.8 1057.7,90.5 1057.9,95.6 1058.1,94.0 1058.3,96.9 1058.5,96.8 1058.7,94.6 1058.9,105.4 1059.1,97.0 1059.3,85.9 1059.5,95.2 1059.7,98.7 1059.9,96.6 1060.1,96.7 1060.3,99.9 1060.5,101.8 1060.7,96.9 1060.9,94.5 1061.1,92.6 1061.3,93.0 1061.5,90.0 1061.7,92.0 1061.9,97.2 1062.1,100.2 1062.3,104.1 1062.5,95.8 1062.7,94.9 1062.9,96.9 1063.1,94.6 1063.3,98.6 1063.5,99.3 1063.7,97.9 1063.9,98.2 1064.1,95.0 1064.3,92.0 1064.5,95.4 1064.7,99.3 1064.9,97.1 1065.1,95.0 1065.3,93.0 1065.5,85.9 1065.7,86.4 1065.9,93.2 1066.1,95.8 1066.3,97.8 1066.5,99.7 1066.7,100.0 1066.9,98.7 1067.1,97.1 1067.4,94.2 1067.6,94.1 1067.8,96.4 1068.0,98.5 1068.2,93.7 1068.4,89.3 1068.6,88.8 1068.8,88.1 1069.0,88.8 1069.2,91.4 1069.4,93.4 1069.6,85.7 1069.8,90.7 1070.0,94.6 1070.2,87.0 1070.4,88.9 1070.6,91.3 1070.8,89.0 1071.0,92.7 1071.2,94.9 1071.4,95.4 1071.6,98.2 1071.8,97.5 1072.0,104.2 1072.2,94.0 1072.4,92.4 1072.6,96.5 1072.8,92.4 1073.0,85.5 1073.2,88.8 1073.4,92.8 1073.6,94.9 1073.8,92.5 1074.0,91.1 1074.2,97.0 1074.4,96.1 1074.6,83.8 1074.8,90.7 1075.0,95.7 1075.2,99.4 1075.4,92.7 1075.6,90.0 1075.8,92.8 1076.0,96.0 1076.2,88.9 1076.4,89.8 1076.6,94.8 1076.8,93.9 1077.0,93.9 1077.2,90.1 1077.5,91.3 1077.7,93.0 1077.9,103.3 1078.1,94.4 1078.3,91.3 1078.5,100.0 1078.7,99.7 1078.9,95.6 1079.1,96.7 1079.3,89.7 1079.5,91.4 1079.7,98.4 1079.9,91.5 1080.1,88.2 1080.3,87.9 1080.5,87.3 1080.7,93.8 1080.9,94.9 1081.1,89.1 1081.3,86.3 1081.5,89.6 1081.7,92.0 1081.9,92.3 1082.1,93.9 1082.3,88.3 1082.5,86.7 1082.7,95.0 1082.9,96.3 1083.1,91.2 1083.3,88.1 1083.5,90.4 1083.7,93.9 1083.9,93.4 1084.1,96.1 1084.3,99.7 1084.5,92.9 1084.7,90.7 1084.9,91.8 1085.1,87.1 1085.3,86.3 1085.5,89.5 1085.7,85.4 1085.9,83.6 1086.1,90.4 1086.3,90.2 1086.5,88.0 1086.7,92.4 1086.9,93.2 1087.1,91.3 1087.4,96.9 1087.6,96.8 1087.8,92.2 1088.0,92.9 1088.2,96.6 1088.4,96.3 1088.6,91.8 1088.8,90.5 1089.0,93.5 1089.2,92.0 1089.4,92.2 1089.6,94.5 1089.8,87.5 1090.0,88.8 1090.2,93.8 1090.4,88.8 1090.6,88.5 1090.8,92.2 1091.0,90.5 1091.2,86.7 1091.4,93.4 1091.6,98.5 1091.8,95.2 1092.0,95.9 1092.2,95.4 1092.4,94.7 1092.6,98.8 1092.8,91.5 1093.0,92.0 1093.2,88.4 1093.4,90.7 1093.6,91.4 1093.8,84.8 1094.0,84.2 1094.2,90.5 1094.4,91.5 1094.6,92.3 1094.8,91.3 1095.0,86.3 1095.2,89.3 1095.4,92.2 1095.6,86.8 1095.8,87.6 1096.0,90.1 1096.2,91.5 1096.4,94.3 1096.6,92.8 1096.8,84.6 1097.0,84.2 1097.2,91.6 1097.5,91.9 1097.7,90.9 1097.9,87.5 1098.1,86.5 1098.3,82.7 1098.5,82.6 1098.7,84.2 1098.9,84.0 1099.1,86.2 1099.3,90.9 1099.5,92.8 1099.7,89.0 1099.9,89.3 1100.1,95.0 1100.3,91.9 1100.5,87.0 1100.7,90.5 1100.9,90.1 1101.1,89.5 1101.3,87.7 1101.5,90.5 1101.7,94.1 1101.9,89.8 1102.1,86.8 1102.3,88.6 1102.5,90.5 1102.7,91.7 1102.9,90.3 1103.1,84.7 1103.3,87.4 1103.5,86.4 1103.7,81.1 1103.9,86.5 1104.1,86.7 1104.3,89.4 1104.5,96.3 1104.7,95.8 1104.9,92.1 1105.1,89.4 1105.3,89.6 1105.5,88.4 1105.7,92.9 1105.9,91.7 1106.1,89.7 1106.3,92.9 1106.5,90.0 1106.7,91.4 1106.9,94.0 1107.1,93.5 1107.4,89.7 1107.6,85.2 1107.8,83.6 1108.0,88.0 1108.2,91.7 1108.4,91.4 1108.6,87.9 1108.8,91.0 1109.0,88.8 1109.2,84.4 1109.4,90.0 1109.6,87.7 1109.8,82.6 1110.0,82.5 1110.2,82.4 1110.4,82.9 1110.6,82.4 1110.8,79.3 1111.0,82.9 1111.2,82.3 1111.4,81.6 1111.6,85.3 1111.8,88.3 1112.0,89.3 1112.2,84.5 1112.4,87.3 1112.6,87.6 1112.8,82.9 1113.0,83.9 1113.2,91.1 1113.4,92.1 1113.6,84.0 1113.8,85.8 1114.0,87.4 1114.2,91.9 1114.4,90.2 1114.6,85.3 1114.8,84.7 1115.0,88.0 1115.2,88.5 1115.4,83.9 1115.6,83.5 1115.8,85.4 1116.0,89.4 1116.2,80.4 1116.4,81.0 1116.6,89.3 1116.8,87.7 1117.0,88.5 1117.3,84.3 1117.5,76.5 1117.7,81.8 1117.9,91.6 1118.1,86.2 1118.3,78.1 1118.5,79.1 1118.7,78.9 1118.9,83.6 1119.1,87.4 1119.3,88.8 1119.5,92.3 1119.7,85.5 1119.9,83.4 1120.1,79.6 1120.3,77.5 1120.5,85.7 1120.7,83.6 1120.9,76.6 1121.1,77.5 1121.3,86.0 1121.5,86.3 1121.7,78.9 1121.9,81.3 1122.1,87.4 1122.3,83.1 1122.5,80.4 1122.7,86.4 1122.9,87.9 1123.1,86.8 1123.3,84.8 1123.5,82.3 1123.7,79.8 1123.9,78.1 1124.1,85.8 1124.3,86.6 1124.5,79.5 1124.7,79.4 1124.9,78.9 1125.1,81.8 1125.3,87.4 1125.5,83.1 1125.7,83.4 1125.9,92.2 1126.1,86.2 1126.3,82.0 1126.5,85.8 1126.7,87.7 1126.9,90.6 1127.1,89.9 1127.4,87.1 1127.6,82.6 1127.8,88.2 1128.0,87.0 1128.2,83.8 1128.4,89.0 1128.6,83.6 1128.8,80.6 1129.0,87.0 1129.2,81.4 1129.4,79.4 1129.6,84.0 1129.8,80.9 1130.0,77.5 1130.2,79.3 1130.4,80.4 1130.6,81.2 1130.8,80.9 1131.0,80.9 1131.2,85.1 1131.4,77.4 1131.6,75.4 1131.8,80.5 1132.0,74.9 1132.2,74.1 1132.4,82.9 1132.6,81.8 1132.8,82.8 1133.0,81.7 1133.2,74.7 1133.4,79.6 1133.6,84.9 1133.8,82.6 1134.0,80.7 1134.2,84.0 1134.4,82.4 1134.6,85.4 1134.8,88.3 1135.0,83.5 1135.2,83.0 1135.4,80.9 1135.6,83.6 1135.8,82.8 1136.0,79.7 1136.2,83.2 1136.4,86.7 1136.6,88.2 1136.8,83.1 1137.0,82.5 1137.3,83.3 1137.5,77.4 1137.7,74.6 1137.9,73.1 1138.1,76.9 1138.3,84.6 1138.5,80.8 1138.7,76.7 1138.9,76.3 1139.1,77.2 1139.3,77.0 1139.5,74.5 1139.7,75.9 1139.9,76.8 1140.1,77.7 1140.3,78.5 1140.5,79.0 1140.7,76.8 1140.9,78.9 1141.1,76.7 1141.3,75.5 1141.5,77.6 1141.7,77.6 1141.9,81.2 1142.1,74.9 1142.3,75.1 1142.5,84.7 1142.7,85.9 1142.9,83.1 1143.1,74.7 1143.3,73.1 1143.5,76.6 1143.7,80.2 1143.9,81.8 1144.1,76.9 1144.3,72.7 1144.5,76.6 1144.7,80.1 1144.9,77.2 1145.1,81.9 1145.3,82.8 1145.5,80.6 1145.7,87.3 1145.9,84.8 1146.1,76.3 1146.3,79.4 1146.5,84.9 1146.7,79.2 1146.9,74.5 1147.1,75.8 1147.4,72.4 1147.6,76.9 1147.8,78.7 1148.0,77.8 1148.2,80.4 1148.4,79.9 1148.6,79.7 1148.8,84.6 1149.0,75.7 1149.2,79.4 1149.4,80.6 1149.6,79.1 1149.8,80.9 1150.0,83.4 1150.2,80.9 1150.4,81.0 1150.6,81.2 1150.8,81.3 1151.0,75.0 1151.2,69.3 1151.4,73.9 1151.6,77.9 1151.8,72.7 1152.0,71.6 1152.2,78.3 1152.4,78.3 1152.6,77.2 1152.8,73.9 1153.0,74.8 1153.2,72.7 1153.4,75.3 1153.6,79.4 1153.8,79.7 1154.0,76.4 1154.2,74.4 1154.4,79.9 1154.6,76.2 1154.8,72.3 1155.0,78.3 1155.2,83.0 1155.4,83.8 1155.6,82.3 1155.8,78.5 1156.0,79.9 1156.2,81.6 1156.4,81.7 1156.6,81.8 1156.8,79.1 1157.0,72.4 1157.3,79.7 1157.5,84.5 1157.7,80.0 1157.9,78.1 1158.1,79.7 1158.3,81.6 1158.5,81.8 1158.7,79.3 1158.9,75.9 1159.1,78.4 1159.3,77.6 1159.5,77.8 1159.7,83.5 1159.9,81.0 1160.1,75.5 1160.3,77.7 1160.5,75.6 1160.7,71.5 1160.9,77.6 1161.1,83.6 1161.3,75.7 1161.5,69.1 1161.7,75.9 1161.9,83.6 1162.1,83.3 1162.3,81.2 1162.5,84.0 1162.7,82.4 1162.9,91.3 1163.1,85.2 1163.3,78.6 1163.5,77.0 1163.7,79.9 1163.9,76.0 1164.1,73.4 1164.3,76.2 1164.5,78.5 1164.7,79.9 1164.9,74.8 1165.1,70.4 1165.3,78.9 1165.5,80.8 1165.7,75.3 1165.9,73.9 1166.1,70.5 1166.3,67.8 1166.5,74.9 1166.7,79.2 1166.9,81.4 1167.1,80.4 1167.4,76.1 1167.6,68.8 1167.8,68.9 1168.0,83.3 1168.2,85.5 1168.4,78.9 1168.6,80.7 1168.8,83.6 1169.0,80.9 1169.2,77.3 1169.4,76.7 1169.6,80.4 1169.8,77.5 1170.0,76.4 1170.2,80.3 1170.4,82.8 1170.6,83.6 1170.8,77.5 1171.0,80.0 1171.2,82.2 1171.4,75.2 1171.6,76.1 1171.8,77.5 1172.0,79.7 1172.2,76.5 1172.4,69.8 1172.6,73.0 1172.8,81.6 1173.0,85.4 1173.2,77.2 1173.4,68.9 1173.6,71.0 1173.8,72.3 1174.0,75.0 1174.2,79.3 1174.4,77.5 1174.6,75.7 1174.8,80.2 1175.0,78.7 1175.2,70.1 1175.4,76.4 1175.6,84.4 1175.8,79.9 1176.0,77.8 1176.2,85.9 1176.4,81.5 1176.6,73.9 1176.8,77.8 1177.0,71.9 1177.3,70.0 1177.5,78.6 1177.7,78.7 1177.9,79.6 1178.1,82.2 1178.3,77.9 1178.5,77.2 1178.7,79.7 1178.9,73.0 1179.1,69.1 1179.3,71.7 1179.5,72.7 1179.7,73.6 1179.9,70.8 1180.1,72.3 1180.3,71.1 1180.5,73.9 1180.7,80.2 1180.9,81.5 1181.1,81.8 1181.3,76.0 1181.5,70.6 1181.7,74.2 1181.9,78.5 1182.1,77.6 1182.3,79.8 1182.5,82.3 1182.7,86.4 1182.9,81.5 1183.1,81.4 1183.3,76.1 1183.5,78.4 1183.7,81.5 1183.9,83.7 1184.1,75.0 1184.3,74.8 1184.5,75.7 1184.7,69.9 1184.9,75.7 1185.1,81.0 1185.3,76.7 1185.5,68.0 1185.7,73.9 1185.9,80.1 1186.1,74.0 1186.3,72.1 1186.5,69.2 1186.7,71.9 1186.9,76.4 1187.2,78.4 1187.4,73.7 1187.6,72.1 1187.8,85.1 1188.0,83.3 1188.2,77.0 1188.4,70.8 1188.6,71.4 1188.8,77.2 1189.0,74.4 1189.2,69.5 1189.4,71.5 1189.6,73.2 1189.8,71.4 1190.0,75.4 1190.2,76.8 1190.4,75.8 1190.6,78.8 1190.8,75.2 1191.0,76.6 1191.2,76.7 1191.4,69.6 1191.6,73.4 1191.8,78.6 1192.0,68.6 1192.2,75.2 1192.4,72.3 1192.6,72.8 1192.8,72.1 1193.0,74.6 1193.2,76.9 1193.4,80.0 1193.6,78.4 1193.8,73.1 1194.0,76.7 1194.2,73.6 1194.4,70.3 1194.6,82.4 1194.8,84.4 1195.0,80.2 1195.2,77.1 1195.4,65.0 1195.6,69.9 1195.8,77.2 1196.0,76.4 1196.2,75.6 1196.4,72.8 1196.6,70.0 1196.8,74.9 1197.0,74.1 1197.3,73.9 1197.5,77.9 1197.7,71.5 1197.9,70.1 1198.1,76.5 1198.3,80.9 1198.5,79.4 1198.7,77.4 1198.9,72.5 1199.1,76.3 1199.3,78.3 1199.5,72.5 1199.7,72.2 1199.9,72.7 1200.1,69.7 1200.3,69.7 1200.5,71.7 1200.7,65.4 1200.9,68.6 1201.1,76.1 1201.3,77.7 1201.5,72.6 1201.7,77.4 1201.9,79.6 1202.1,84.5 1202.3,82.7 1202.5,79.0 1202.7,76.3 1202.9,78.8 1203.1,75.9 1203.3,70.5 1203.5,75.7 1203.7,78.7 1203.9,80.3 1204.1,81.6 1204.3,80.9 1204.5,77.4 1204.7,76.2 1204.9,80.6 1205.1,80.9 1205.3,79.3 1205.5,78.0 1205.7,69.5 1205.9,68.0 1206.1,74.7 1206.3,81.7 1206.5,85.0 1206.7,85.2 1206.9,78.6 1207.2,75.8 1207.4,77.8 1207.6,77.4 1207.8,77.3 1208.0,71.1 1208.2,73.4 1208.4,78.8 1208.6,79.2 1208.8,75.4 1209.0,76.1 1209.2,82.3" fill="none" stroke="#1f4aa0" stroke-width="3.4" stroke-linejoin="round" stroke-linecap="round" />
<rect x="992.0" y="173.8" width="214.2" height="172.7" fill="#fff" stroke="#000" stroke-width="2.2"/>
<polyline points="999.5,182.3 999.7,184.8 999.9,186.9 1000.1,188.5 1000.3,189.6 1000.5,190.1 1000.8,189.8 1001.0,188.9 1001.2,187.6 1001.4,186.4 1001.6,185.9 1001.8,186.3 1002.0,187.5 1002.2,189.0 1002.4,190.3 1002.6,191.1 1002.8,191.1 1003.0,190.5 1003.3,189.6 1003.5,188.7 1003.7,188.1 1003.9,188.2 1004.1,190.2 1004.3,193.8 1004.5,198.1 1004.7,202.5 1004.9,206.0 1005.1,208.0 1005.3,207.9 1005.5,206.8 1005.8,204.9 1006.0,202.6 1006.2,200.0 1006.4,197.4 1006.6,195.0 1006.8,193.0 1007.0,191.5 1007.2,190.0 1007.4,188.5 1007.6,187.2 1007.8,186.0 1008.0,185.1 1008.3,184.5 1008.5,184.5 1008.7,185.4 1008.9,187.2 1009.1,189.6 1009.3,192.4 1009.5,195.3 1009.7,198.0 1009.9,200.3 1010.1,201.9 1010.3,203.3 1010.6,204.6 1010.8,205.9 1011.0,207.2 1011.2,208.3 1011.4,209.3 1011.6,210.2 1011.8,210.8 1012.0,211.2 1012.2,211.3 1012.4,211.1 1012.6,210.6 1012.8,209.9 1013.1,209.0 1013.3,208.0 1013.5,206.9 1013.7,206.0 1013.9,205.1 1014.1,204.4 1014.3,203.9 1014.5,203.6 1014.7,203.2 1014.9,202.9 1015.1,202.6 1015.3,202.3 1015.6,202.1 1015.8,201.8 1016.0,201.6 1016.2,201.4 1016.4,201.2 1016.6,201.0 1016.8,200.9 1017.0,200.8 1017.2,200.7 1017.4,200.7 1017.6,200.7 1017.8,200.7 1018.1,200.7 1018.3,200.7 1018.5,200.8 1018.7,200.8 1018.9,200.8 1019.1,200.9 1019.3,200.9 1019.5,201.0 1019.7,201.0 1019.9,201.1 1020.1,201.1 1020.4,201.2 1020.6,201.3 1020.8,201.3 1021.0,201.4 1021.2,201.4 1021.4,201.5 1021.6,201.6 1021.8,201.6 1022.0,201.7 1022.2,201.7 1022.4,201.8 1022.6,201.8 1022.9,201.9 1023.1,201.9 1023.3,201.9 1023.5,202.0 1023.7,202.0 1023.9,202.0 1024.1,202.0 1024.3,202.0 1024.5,202.0 1024.7,202.0 1024.9,202.0 1025.1,202.0 1025.4,202.1 1025.6,202.1 1025.8,202.1 1026.0,202.1 1026.2,202.1 1026.4,202.1 1026.6,202.1 1026.8,202.1 1027.0,202.1 1027.2,202.1 1027.4,202.1 1027.7,202.1 1027.9,202.1 1028.1,202.1 1028.3,202.1 1028.5,202.1 1028.7,202.1 1028.9,202.1 1029.1,202.1 1029.3,202.1 1029.5,202.1 1029.7,202.1 1029.9,202.2 1030.2,202.2 1030.4,202.2 1030.6,202.2 1030.8,202.2 1031.0,202.2 1031.2,202.2 1031.4,202.2 1031.6,202.2 1031.8,202.2 1032.0,202.2 1032.2,202.2 1032.4,202.2 1032.7,202.2 1032.9,202.2 1033.1,202.2 1033.3,202.2 1033.5,202.2 1033.7,202.2 1033.9,202.2 1034.1,202.2 1034.3,202.2 1034.5,202.2 1034.7,202.2 1034.9,202.2 1035.2,202.3 1035.4,202.3 1035.6,202.3 1035.8,202.3 1036.0,202.3 1036.2,202.3 1036.4,202.3 1036.6,202.3 1036.8,202.3 1037.0,202.3 1037.2,202.3 1037.5,202.3 1037.7,202.3 1037.9,202.3 1038.1,202.3 1038.3,202.3 1038.5,202.3 1038.7,202.3 1038.9,202.3 1039.1,202.3 1039.3,202.3 1039.5,202.3 1039.7,202.3 1040.0,202.3 1040.2,202.3 1040.4,202.3 1040.6,202.3 1040.8,202.3 1041.0,202.3 1041.2,202.4 1041.4,202.4 1041.6,202.4 1041.8,202.4 1042.0,202.4 1042.2,202.4 1042.5,202.4 1042.7,202.4 1042.9,202.4 1043.1,202.4 1043.3,202.4 1043.5,202.4 1043.7,202.4 1043.9,202.4 1044.1,202.5 1044.3,202.5 1044.5,202.5 1044.7,202.5 1045.0,202.5 1045.2,202.5 1045.4,202.6 1045.6,202.7 1045.8,202.9 1046.0,203.0 1046.2,203.3 1046.4,203.5 1046.6,203.8 1046.8,204.1 1047.0,204.4 1047.3,204.7 1047.5,205.1 1047.7,205.4 1047.9,205.8 1048.1,206.1 1048.3,206.5 1048.5,206.8 1048.7,207.2 1048.9,207.5 1049.1,207.8 1049.3,208.2 1049.5,208.5 1049.8,208.9 1050.0,209.3 1050.2,209.7 1050.4,210.1 1050.6,210.6 1050.8,211.0 1051.0,211.3 1051.2,211.7 1051.4,211.9 1051.6,212.1 1051.8,212.3 1052.0,212.3 1052.3,212.2 1052.5,212.0 1052.7,211.6 1052.9,211.2 1053.1,210.7 1053.3,210.2 1053.5,209.6 1053.7,209.1 1053.9,208.5 1054.1,208.0 1054.3,207.5 1054.5,207.1 1054.8,206.7 1055.0,206.3 1055.2,205.9 1055.4,205.5 1055.6,205.1 1055.8,204.7 1056.0,204.4 1056.2,204.2 1056.4,204.0 1056.6,203.9 1056.8,204.0 1057.1,204.4 1057.3,205.1 1057.5,206.1 1057.7,207.2 1057.9,208.5 1058.1,209.8 1058.3,211.2 1058.5,212.6 1058.7,213.9 1058.9,215.2 1059.1,216.9 1059.3,218.8 1059.6,220.6 1059.8,222.3 1060.0,223.7 1060.2,224.5 1060.4,224.6 1060.6,224.2 1060.8,223.6 1061.0,222.7 1061.2,221.7 1061.4,220.7 1061.6,219.7 1061.8,218.8 1062.1,218.1 1062.3,217.7 1062.5,217.6 1062.7,218.2 1062.9,219.2 1063.1,220.6 1063.3,222.3 1063.5,224.0 1063.7,225.7 1063.9,227.2 1064.1,228.4 1064.4,229.1 1064.6,229.3 1064.8,228.6 1065.0,227.4 1065.2,225.6 1065.4,223.5 1065.6,221.3 1065.8,219.1 1066.0,217.2 1066.2,215.6 1066.4,214.7 1066.6,214.4 1066.9,214.7 1067.1,215.5 1067.3,216.5 1067.5,217.9 1067.7,219.5 1067.9,221.3 1068.1,223.2 1068.3,225.1 1068.5,227.1 1068.7,228.9 1068.9,230.7 1069.1,232.3 1069.4,233.6 1069.6,234.6 1069.8,235.3 1070.0,235.6 1070.2,235.3 1070.4,234.4 1070.6,233.0 1070.8,231.3 1071.0,229.4 1071.2,227.5 1071.4,225.6 1071.6,224.0 1071.9,222.7 1072.1,222.0 1072.3,221.6 1072.5,221.3 1072.7,221.1 1072.9,220.8 1073.1,220.6 1073.3,220.4 1073.5,220.2 1073.7,220.0 1073.9,219.9 1074.2,219.8 1074.4,219.7 1074.6,219.7 1074.8,219.7 1075.0,219.7 1075.2,219.7 1075.4,219.7 1075.6,219.7 1075.8,219.7 1076.0,219.7 1076.2,219.7 1076.4,219.7 1076.7,219.7 1076.9,219.7 1077.1,219.8 1077.3,220.0 1077.5,220.3 1077.7,220.7 1077.9,221.2 1078.1,221.8 1078.3,222.4 1078.5,223.0 1078.7,224.2 1078.9,226.2 1079.2,228.7 1079.4,231.6 1079.6,234.6 1079.8,237.5 1080.0,240.1 1080.2,242.2 1080.4,243.5 1080.6,244.0 1080.8,243.9 1081.0,243.5 1081.2,243.0 1081.4,242.1 1081.7,241.0 1081.9,239.6 1082.1,237.8 1082.3,235.7 1082.5,233.2 1082.7,230.3" fill="none" stroke="#e0197d" stroke-width="2.4" stroke-linejoin="round" stroke-linecap="round" />
<polyline points="1082.7,232.1 1082.9,235.7 1083.0,235.6 1083.2,231.2 1083.4,232.0 1083.5,231.6 1083.7,234.7 1083.9,233.2 1084.0,235.6 1084.2,234.3 1084.4,238.2 1084.5,239.7 1084.7,236.2 1084.9,234.2 1085.0,233.7 1085.2,236.2 1085.4,237.4 1085.5,234.7 1085.7,235.1 1085.9,237.6 1086.0,240.6 1086.2,231.8 1086.4,237.4 1086.5,234.6 1086.7,231.1 1086.9,230.0 1087.0,235.7 1087.2,233.8 1087.4,233.1 1087.5,237.8 1087.7,244.9 1087.9,237.3 1088.1,236.0 1088.2,239.6 1088.4,240.8 1088.6,237.9 1088.7,240.7 1088.9,242.4 1089.1,238.8 1089.2,237.1 1089.4,240.9 1089.6,240.7 1089.7,243.6 1089.9,242.7 1090.1,238.5 1090.2,238.1 1090.4,235.5 1090.6,241.5 1090.7,243.0 1090.9,239.1 1091.1,246.1 1091.2,244.5 1091.4,237.7 1091.6,243.5 1091.7,245.5 1091.9,238.3 1092.1,244.7 1092.2,244.9 1092.4,237.3 1092.6,244.4 1092.7,242.6 1092.9,246.2 1093.1,242.4 1093.2,244.0 1093.4,245.3 1093.6,241.4 1093.7,246.6 1093.9,244.4 1094.1,246.6 1094.2,243.3 1094.4,249.0 1094.6,247.5 1094.7,245.0 1094.9,248.0 1095.1,250.4 1095.2,252.4 1095.4,240.9 1095.6,249.6 1095.7,248.4 1095.9,246.6 1096.1,243.6 1096.2,251.7 1096.4,243.0 1096.6,249.7 1096.7,252.5 1096.9,242.3 1097.1,252.9 1097.2,243.8 1097.4,249.7 1097.6,254.6 1097.8,256.7 1097.9,243.1 1098.1,247.8 1098.3,252.7 1098.4,256.3 1098.6,252.2 1098.8,248.2 1098.9,252.3 1099.1,251.4 1099.3,251.0 1099.4,249.3 1099.6,253.8 1099.8,253.7 1099.9,252.5 1100.1,252.2 1100.3,248.5 1100.4,251.8 1100.6,258.5 1100.8,253.4 1100.9,248.9 1101.1,259.8 1101.3,257.0 1101.4,263.2 1101.6,255.7 1101.8,254.0 1101.9,250.5 1102.1,261.3 1102.3,266.3 1102.4,253.7 1102.6,254.6 1102.8,259.6 1102.9,254.5 1103.1,256.9 1103.3,256.8 1103.4,259.2 1103.6,262.9 1103.8,259.0 1103.9,262.6 1104.1,257.6 1104.3,260.5 1104.4,251.2 1104.6,253.9 1104.8,262.5 1104.9,257.3 1105.1,261.9 1105.3,261.8 1105.4,264.9 1105.6,263.0 1105.8,263.9 1105.9,259.6 1106.1,252.3 1106.3,263.8 1106.4,258.5 1106.6,256.1 1106.8,258.4 1106.9,260.2 1107.1,261.6 1107.3,259.4 1107.5,253.5 1107.6,256.3 1107.8,261.9 1108.0,265.2 1108.1,263.4 1108.3,258.8 1108.5,258.6 1108.6,269.1 1108.8,259.4 1109.0,268.6 1109.1,269.8 1109.3,258.6 1109.5,263.3 1109.6,263.7 1109.8,264.1 1110.0,264.2 1110.1,262.9 1110.3,262.9 1110.5,256.6 1110.6,261.8 1110.8,259.6 1111.0,263.1 1111.1,260.9 1111.3,265.1 1111.5,266.0 1111.6,264.1 1111.8,264.2 1112.0,263.4 1112.1,261.5 1112.3,262.6 1112.5,261.4 1112.6,264.9 1112.8,263.6 1113.0,265.8 1113.1,258.6 1113.3,267.1 1113.5,260.9 1113.6,261.1 1113.8,263.2 1114.0,261.9 1114.1,265.2 1114.3,262.0 1114.5,260.1 1114.6,261.0 1114.8,269.4 1115.0,264.6 1115.1,260.0 1115.3,264.6 1115.5,258.7 1115.6,271.6 1115.8,258.9 1116.0,266.7 1116.1,267.0 1116.3,259.4 1116.5,266.2 1116.6,269.0 1116.8,267.0 1117.0,266.3 1117.2,269.0 1117.3,266.0 1117.5,266.8 1117.7,272.0 1117.8,268.0 1118.0,262.1 1118.2,268.8 1118.3,263.9 1118.5,261.7 1118.7,267.4 1118.8,272.5 1119.0,269.8 1119.2,264.2 1119.3,268.9 1119.5,264.6 1119.7,265.9 1119.8,266.8 1120.0,257.6 1120.2,267.3 1120.3,262.7 1120.5,264.1 1120.7,261.1 1120.8,261.1 1121.0,263.3 1121.2,270.2 1121.3,273.5 1121.5,267.1 1121.7,271.4 1121.8,266.3 1122.0,260.0 1122.2,268.0 1122.3,269.2 1122.5,266.0 1122.7,269.0 1122.8,270.2 1123.0,264.8 1123.2,262.6 1123.3,267.6 1123.5,267.7 1123.7,267.3 1123.8,272.6 1124.0,275.6 1124.2,267.5 1124.3,272.0 1124.5,273.0 1124.7,272.3 1124.8,273.7 1125.0,268.4 1125.2,272.9 1125.3,277.9 1125.5,273.4 1125.7,273.2 1125.8,272.9 1126.0,275.6 1126.2,272.3 1126.3,268.9 1126.5,277.1 1126.7,266.5 1126.9,273.4 1127.0,271.5 1127.2,267.1 1127.4,276.6 1127.5,273.4 1127.7,267.7 1127.9,274.7 1128.0,270.8 1128.2,265.3 1128.4,270.1 1128.5,273.9 1128.7,275.5 1128.9,273.8 1129.0,273.5 1129.2,275.3 1129.4,272.8 1129.5,278.3 1129.7,274.5 1129.9,275.2 1130.0,276.3 1130.2,270.3 1130.4,271.8 1130.5,280.6 1130.7,276.1 1130.9,273.9 1131.0,276.4 1131.2,273.4 1131.4,276.5 1131.5,273.0 1131.7,276.7 1131.9,269.7 1132.0,281.1 1132.2,274.1 1132.4,270.1 1132.5,275.5 1132.7,275.1 1132.9,277.2 1133.0,272.3 1133.2,278.4 1133.4,291.0 1133.5,272.2 1133.7,278.6 1133.9,276.2 1134.0,278.3 1134.2,270.7 1134.4,273.4 1134.5,279.8 1134.7,278.0 1134.9,284.6 1135.0,275.7 1135.2,279.2 1135.4,289.9 1135.5,275.8 1135.7,275.4 1135.9,278.9 1136.0,279.0 1136.2,282.6 1136.4,280.0 1136.6,276.7 1136.7,280.6 1136.9,290.1 1137.1,285.0 1137.2,269.4 1137.4,279.8 1137.6,277.1 1137.7,283.0 1137.9,280.0 1138.1,288.3 1138.2,284.6 1138.4,284.6 1138.6,282.0 1138.7,281.2 1138.9,282.9 1139.1,286.7 1139.2,283.9 1139.4,280.6 1139.6,287.0 1139.7,283.0 1139.9,282.1 1140.1,279.4 1140.2,280.4 1140.4,280.3 1140.6,272.1 1140.7,287.0 1140.9,285.4 1141.1,282.5 1141.2,287.5 1141.4,285.3 1141.6,285.1 1141.7,274.2 1141.9,283.0 1142.1,286.1 1142.2,290.4 1142.4,291.5 1142.6,290.0 1142.7,280.0 1142.9,276.1 1143.1,287.0 1143.2,285.0 1143.4,288.8 1143.6,284.7 1143.7,286.2 1143.9,279.6 1144.1,293.6 1144.2,284.0 1144.4,287.2 1144.6,287.7 1144.7,285.6 1144.9,287.4 1145.1,286.3 1145.2,289.4 1145.4,288.5 1145.6,284.6 1145.7,284.5 1145.9,293.7 1146.1,286.7 1146.3,291.0 1146.4,288.8 1146.6,285.2 1146.8,284.6 1146.9,288.2 1147.1,288.8 1147.3,290.3 1147.4,283.1 1147.6,285.9 1147.8,287.9 1147.9,294.7 1148.1,279.4 1148.3,290.4 1148.4,286.7 1148.6,290.6 1148.8,287.2 1148.9,290.6 1149.1,295.4 1149.3,290.8 1149.4,291.3 1149.6,291.2 1149.8,286.9 1149.9,292.1 1150.1,289.3 1150.3,287.1 1150.4,290.3 1150.6,289.7 1150.8,293.7 1150.9,290.8 1151.1,289.0 1151.3,297.0 1151.4,295.3 1151.6,296.6 1151.8,294.1 1151.9,291.5 1152.1,290.5 1152.3,291.2 1152.4,296.1 1152.6,287.5 1152.8,287.0 1152.9,292.8 1153.1,287.6 1153.3,293.9 1153.4,288.7 1153.6,288.7 1153.8,294.2 1153.9,293.6 1154.1,287.6 1154.3,297.2 1154.4,302.9 1154.6,288.8 1154.8,301.9 1154.9,292.3 1155.1,293.2 1155.3,294.6 1155.4,289.8 1155.6,300.7 1155.8,297.7 1156.0,293.0 1156.1,290.7 1156.3,290.4 1156.5,295.1 1156.6,300.3 1156.8,290.1 1157.0,295.2 1157.1,297.7 1157.3,301.4 1157.5,302.7 1157.6,295.8 1157.8,294.9 1158.0,299.7 1158.1,296.7 1158.3,297.1 1158.5,302.7 1158.6,305.2 1158.8,299.8 1159.0,298.2 1159.1,301.4 1159.3,291.9 1159.5,299.4 1159.6,295.5 1159.8,309.2 1160.0,302.8 1160.1,300.7 1160.3,303.7 1160.5,290.6 1160.6,303.4 1160.8,307.2 1161.0,298.1 1161.1,303.8 1161.3,304.1 1161.5,295.4 1161.6,305.3 1161.8,307.1 1162.0,302.9 1162.1,301.9 1162.3,305.4 1162.5,296.4 1162.6,303.0 1162.8,306.9 1163.0,298.1 1163.1,307.0 1163.3,301.7 1163.5,295.3 1163.6,303.2 1163.8,300.0 1164.0,305.2 1164.1,299.5 1164.3,308.4 1164.5,301.6 1164.6,306.0 1164.8,302.5 1165.0,303.7 1165.1,309.8 1165.3,306.2 1165.5,303.9 1165.7,300.7 1165.8,310.4 1166.0,308.9 1166.2,304.9 1166.3,307.3 1166.5,302.4 1166.7,302.7 1166.8,298.5 1167.0,308.4 1167.2,308.3 1167.3,304.4 1167.5,310.4 1167.7,310.7 1167.8,308.5 1168.0,312.1 1168.2,307.0 1168.3,307.9 1168.5,310.4 1168.7,308.5 1168.8,311.9 1169.0,303.9 1169.2,314.6 1169.3,306.0 1169.5,308.6 1169.7,303.9 1169.8,311.9 1170.0,314.6 1170.2,314.0 1170.3,313.2 1170.5,303.9 1170.7,307.0 1170.8,308.4 1171.0,306.7 1171.2,314.9 1171.3,311.4 1171.5,310.7 1171.7,312.8 1171.8,307.3 1172.0,307.5 1172.2,307.8 1172.3,317.6 1172.5,312.9 1172.7,313.9 1172.8,316.0 1173.0,306.5 1173.2,309.8 1173.3,312.7 1173.5,306.9 1173.7,310.3 1173.8,316.5 1174.0,317.0 1174.2,317.0 1174.3,313.1 1174.5,312.2 1174.7,317.4 1174.8,311.8 1175.0,314.7 1175.2,312.9 1175.4,312.2 1175.5,311.4 1175.7,313.9 1175.9,316.4 1176.0,316.0 1176.2,314.9 1176.4,316.6 1176.5,308.2 1176.7,311.2 1176.9,315.4 1177.0,311.2 1177.2,309.7 1177.4,310.4 1177.5,311.6 1177.7,314.7 1177.9,311.5 1178.0,316.6 1178.2,322.5 1178.4,315.3 1178.5,321.1 1178.7,317.3 1178.9,311.8 1179.0,315.4 1179.2,312.6 1179.4,319.7 1179.5,312.2 1179.7,322.1 1179.9,319.3 1180.0,309.1 1180.2,320.4 1180.4,323.6 1180.5,314.4 1180.7,321.6 1180.9,310.7 1181.0,318.9 1181.2,311.4 1181.4,320.1 1181.5,311.2 1181.7,308.0 1181.9,320.1 1182.0,327.7 1182.2,316.4 1182.4,322.2 1182.5,319.5 1182.7,317.9 1182.9,321.7 1183.0,325.9 1183.2,314.6 1183.4,321.9 1183.5,321.2 1183.7,314.3 1183.9,326.4 1184.0,327.9 1184.2,316.5 1184.4,327.3 1184.5,320.8 1184.7,320.0 1184.9,326.8 1185.1,321.8 1185.2,322.3 1185.4,327.2 1185.6,326.4 1185.7,325.0 1185.9,316.0 1186.1,315.4 1186.2,326.3 1186.4,318.2 1186.6,322.6 1186.7,317.9 1186.9,321.6 1187.1,317.4 1187.2,329.1 1187.4,318.7 1187.6,322.5 1187.7,322.4 1187.9,328.1 1188.1,317.8 1188.2,323.5 1188.4,322.9 1188.6,326.1 1188.7,326.0 1188.9,322.4 1189.1,325.4 1189.2,327.8 1189.4,326.6 1189.6,324.5 1189.7,322.5 1189.9,325.2 1190.1,326.9 1190.2,334.6 1190.4,323.8 1190.6,327.2 1190.7,331.9 1190.9,318.0 1191.1,319.5 1191.2,321.9 1191.4,326.3 1191.6,336.6 1191.7,328.6 1191.9,332.1 1192.1,326.5 1192.2,317.8 1192.4,318.5 1192.6,332.0 1192.7,328.8 1192.9,323.1 1193.1,332.9 1193.2,322.4 1193.4,333.3 1193.6,334.7 1193.7,326.0 1193.9,324.8 1194.1,332.8 1194.2,325.2 1194.4,333.2 1194.6,325.1 1194.8,333.3 1194.9,330.6 1195.1,328.7 1195.3,327.0 1195.4,331.7 1195.6,323.3 1195.8,330.0 1195.9,329.6 1196.1,334.1 1196.3,326.5 1196.4,338.3 1196.6,330.2 1196.8,326.9 1196.9,336.9 1197.1,338.0 1197.3,330.6 1197.4,327.8 1197.6,331.4 1197.8,328.5 1197.9,330.0 1198.1,337.5 1198.3,332.8 1198.4,331.8 1198.6,332.5 1198.8,330.9 1198.9,334.5 1199.1,334.6 1199.3,329.6 1199.4,331.4 1199.6,340.7" fill="none" stroke="#e0197d" stroke-width="2.2" stroke-linejoin="round" stroke-linecap="round" />
<line x1="990.90" y1="343.10" x2="988.30" y2="343.10" stroke="#000" stroke-width="2.0" />
<line x1="990.90" y1="325.20" x2="986.40" y2="325.20" stroke="#000" stroke-width="2.0" />
<line x1="990.90" y1="307.30" x2="988.30" y2="307.30" stroke="#000" stroke-width="2.0" />
<line x1="990.90" y1="289.40" x2="986.40" y2="289.40" stroke="#000" stroke-width="2.0" />
<line x1="990.90" y1="271.50" x2="988.30" y2="271.50" stroke="#000" stroke-width="2.0" />
<line x1="990.90" y1="253.60" x2="986.40" y2="253.60" stroke="#000" stroke-width="2.0" />
<line x1="990.90" y1="235.70" x2="988.30" y2="235.70" stroke="#000" stroke-width="2.0" />
<line x1="990.90" y1="217.80" x2="986.40" y2="217.80" stroke="#000" stroke-width="2.0" />
<line x1="990.90" y1="199.90" x2="988.30" y2="199.90" stroke="#000" stroke-width="2.0" />
<line x1="990.90" y1="182.00" x2="986.40" y2="182.00" stroke="#000" stroke-width="2.0" />
<line x1="991.96" y1="347.60" x2="991.96" y2="352.10" stroke="#000" stroke-width="2.0" />
<line x1="1013.38" y1="347.60" x2="1013.38" y2="350.20" stroke="#000" stroke-width="2.0" />
<line x1="1034.80" y1="347.60" x2="1034.80" y2="352.10" stroke="#000" stroke-width="2.0" />
<line x1="1056.22" y1="347.60" x2="1056.22" y2="350.20" stroke="#000" stroke-width="2.0" />
<line x1="1077.64" y1="347.60" x2="1077.64" y2="352.10" stroke="#000" stroke-width="2.0" />
<line x1="1099.06" y1="347.60" x2="1099.06" y2="350.20" stroke="#000" stroke-width="2.0" />
<line x1="1120.48" y1="347.60" x2="1120.48" y2="352.10" stroke="#000" stroke-width="2.0" />
<line x1="1141.90" y1="347.60" x2="1141.90" y2="350.20" stroke="#000" stroke-width="2.0" />
<line x1="1163.32" y1="347.60" x2="1163.32" y2="352.10" stroke="#000" stroke-width="2.0" />
<line x1="1184.74" y1="347.60" x2="1184.74" y2="350.20" stroke="#000" stroke-width="2.0" />
<line x1="1206.16" y1="347.60" x2="1206.16" y2="352.10" stroke="#000" stroke-width="2.0" />
<text x="947.68" y="188.81" font-size="20.8" textLength="36.24" lengthAdjust="spacingAndGlyphs" fill="#000"  style="stroke-width:0.15px">100</text>
<text x="959.47" y="224.61" font-size="20.8" textLength="24.46" lengthAdjust="spacingAndGlyphs" fill="#000"  style="stroke-width:0.15px">80</text>
<text x="959.34" y="260.41" font-size="20.8" textLength="24.59" lengthAdjust="spacingAndGlyphs" fill="#000"  style="stroke-width:0.15px">60</text>
<text x="959.93" y="296.21" font-size="20.8" textLength="23.98" lengthAdjust="spacingAndGlyphs" fill="#000"  style="stroke-width:0.15px">40</text>
<text x="959.32" y="332.01" font-size="20.8" textLength="24.62" lengthAdjust="spacingAndGlyphs" fill="#000"  style="stroke-width:0.15px">20</text>
<text x="1027.57" y="369.60" font-size="20.8" textLength="12.15" lengthAdjust="spacingAndGlyphs" fill="#000"  style="stroke-width:0.15px">0</text>
<text x="1105.53" y="369.60" font-size="20.8" textLength="30.60" lengthAdjust="spacingAndGlyphs" fill="#000"  style="stroke-width:0.15px">3.0</text>
<text x="1186.93" y="369.60" font-size="20.8" textLength="31.01" lengthAdjust="spacingAndGlyphs" fill="#000"  style="stroke-width:0.15px">6.0</text>
<text x="1025.96" y="399.80" font-size="20.5" textLength="87.03" lengthAdjust="spacingAndGlyphs" fill="#000"  style="stroke-width:0.15px">Pressure</text>
<text x="1114.40" y="403.91" font-size="29.3" textLength="9.20" lengthAdjust="spacingAndGlyphs" fill="#000" >/</text>
<text x="1124.91" y="399.80" font-size="20.5" textLength="45.86" lengthAdjust="spacingAndGlyphs" fill="#000"  style="stroke-width:0.15px">GPa</text>
<text transform="translate(936.50,379.60) rotate(-90)" style="stroke-width:0.15px" x="-0.54" y="0" font-size="22" textLength="231.32" lengthAdjust="spacingAndGlyphs" fill="#000">Resistance of the junction/MΩ</text>
<rect x="737.7" y="17.4" width="500.0" height="402.9" fill="none" stroke="#000" stroke-width="3.0"/>
<line x1="773.50" y1="420.30" x2="773.50" y2="410.30" stroke="#000" stroke-width="2.8" />
<line x1="818.17" y1="420.30" x2="818.17" y2="414.80" stroke="#000" stroke-width="2.8" />
<line x1="862.85" y1="420.30" x2="862.85" y2="410.30" stroke="#000" stroke-width="2.8" />
<line x1="907.52" y1="420.30" x2="907.52" y2="414.80" stroke="#000" stroke-width="2.8" />
<line x1="952.20" y1="420.30" x2="952.20" y2="410.30" stroke="#000" stroke-width="2.8" />
<line x1="996.88" y1="420.30" x2="996.88" y2="414.80" stroke="#000" stroke-width="2.8" />
<line x1="1041.55" y1="420.30" x2="1041.55" y2="410.30" stroke="#000" stroke-width="2.8" />
<line x1="1086.22" y1="420.30" x2="1086.22" y2="414.80" stroke="#000" stroke-width="2.8" />
<line x1="1130.90" y1="420.30" x2="1130.90" y2="410.30" stroke="#000" stroke-width="2.8" />
<line x1="1175.58" y1="420.30" x2="1175.58" y2="414.80" stroke="#000" stroke-width="2.8" />
<line x1="1220.25" y1="420.30" x2="1220.25" y2="410.30" stroke="#000" stroke-width="2.8" />
<line x1="737.70" y1="420.30" x2="747.70" y2="420.30" stroke="#000" stroke-width="2.8" />
<line x1="737.70" y1="391.53" x2="743.20" y2="391.53" stroke="#000" stroke-width="2.8" />
<line x1="737.70" y1="362.76" x2="747.70" y2="362.76" stroke="#000" stroke-width="2.8" />
<line x1="737.70" y1="333.99" x2="743.20" y2="333.99" stroke="#000" stroke-width="2.8" />
<line x1="737.70" y1="305.22" x2="747.70" y2="305.22" stroke="#000" stroke-width="2.8" />
<line x1="737.70" y1="276.45" x2="743.20" y2="276.45" stroke="#000" stroke-width="2.8" />
<line x1="737.70" y1="247.68" x2="747.70" y2="247.68" stroke="#000" stroke-width="2.8" />
<line x1="737.70" y1="218.91" x2="743.20" y2="218.91" stroke="#000" stroke-width="2.8" />
<line x1="737.70" y1="190.14" x2="747.70" y2="190.14" stroke="#000" stroke-width="2.8" />
<line x1="737.70" y1="161.37" x2="743.20" y2="161.37" stroke="#000" stroke-width="2.8" />
<line x1="737.70" y1="132.60" x2="747.70" y2="132.60" stroke="#000" stroke-width="2.8" />
<line x1="737.70" y1="103.83" x2="743.20" y2="103.83" stroke="#000" stroke-width="2.8" />
<line x1="737.70" y1="75.06" x2="747.70" y2="75.06" stroke="#000" stroke-width="2.8" />
<line x1="737.70" y1="46.29" x2="743.20" y2="46.29" stroke="#000" stroke-width="2.8" />
<line x1="737.70" y1="17.52" x2="747.70" y2="17.52" stroke="#000" stroke-width="2.8" />
<text x="701.34" y="431.60" font-size="34.5" textLength="19.11" lengthAdjust="spacingAndGlyphs" fill="#000" >0</text>
<text x="701.02" y="374.06" font-size="34.5" textLength="20.21" lengthAdjust="spacingAndGlyphs" fill="#000" >2</text>
<text x="702.12" y="316.52" font-size="34.5" textLength="17.43" lengthAdjust="spacingAndGlyphs" fill="#000" >4</text>
<text x="701.17" y="258.98" font-size="34.5" textLength="18.96" lengthAdjust="spacingAndGlyphs" fill="#000" >6</text>
<text x="701.34" y="201.44" font-size="34.5" textLength="19.11" lengthAdjust="spacingAndGlyphs" fill="#000" >8</text>
<text x="682.02" y="143.90" font-size="34.5" textLength="38.44" lengthAdjust="spacingAndGlyphs" fill="#000" >10</text>
<text x="681.95" y="86.36" font-size="34.5" textLength="39.21" lengthAdjust="spacingAndGlyphs" fill="#000" >12</text>
<text x="682.11" y="28.82" font-size="34.5" textLength="37.48" lengthAdjust="spacingAndGlyphs" fill="#000" >14</text>
<text x="763.02" y="455.30" font-size="34.5" textLength="19.47" lengthAdjust="spacingAndGlyphs" fill="#000" >0</text>
<text x="839.71" y="455.30" font-size="34.5" textLength="48.92" lengthAdjust="spacingAndGlyphs" fill="#000" >0.5</text>
<text x="928.91" y="455.30" font-size="34.5" textLength="49.60" lengthAdjust="spacingAndGlyphs" fill="#000" >1.0</text>
<text x="1018.19" y="455.30" font-size="34.5" textLength="49.98" lengthAdjust="spacingAndGlyphs" fill="#000" >1.5</text>
<text x="1109.21" y="455.30" font-size="34.5" textLength="48.05" lengthAdjust="spacingAndGlyphs" fill="#000" >2.0</text>
<text x="1198.01" y="455.30" font-size="34.5" textLength="48.09" lengthAdjust="spacingAndGlyphs" fill="#000" >2.5</text>
<text x="892.95" y="511.90" font-size="34" textLength="139.25" lengthAdjust="spacingAndGlyphs" fill="#000" >Tip load</text>
<text x="1036.50" y="520.02" font-size="49.63" textLength="13.10" lengthAdjust="spacingAndGlyphs" fill="#000" >/</text>
<text x="1051.33" y="511.9" font-size="34" textLength="46.11" lengthAdjust="spacingAndGlyphs" fill="#000"><tspan font-style="italic">μ</tspan>N</text>
<text transform="translate(655.50,318.50) rotate(-90)" x="-1.71" y="0" font-size="36" textLength="127.35" lengthAdjust="spacingAndGlyphs" fill="#000">Current</text>
<text transform="translate(663.02,188.30) rotate(-90)" x="0.00" y="0" font-size="48.88" textLength="13.50" lengthAdjust="spacingAndGlyphs" fill="#000">/</text>
<text transform="translate(655.50,170.00) rotate(-90)" x="-0.87" y="0" font-size="36" textLength="46.35" lengthAdjust="spacingAndGlyphs" fill="#000">nA</text>
<text x="757.19" y="59.20" font-size="36.9" textLength="47.91" lengthAdjust="spacingAndGlyphs" fill="#000" >(b)</text>
<clipPath id="cclip"><rect x="1411.6" y="19.6" width="499.4" height="401.5"/></clipPath>
<line x1="1409.20" y1="220.35" x2="1911.00" y2="220.35" stroke="#e8141c" stroke-width="3.0" stroke-dasharray="15 12.75"/>
<line x1="1680.50" y1="17.00" x2="1680.50" y2="421.10" stroke="#e8141c" stroke-width="3.0" stroke-dasharray="15 12.75"/>
<g clip-path="url(#cclip)"><polyline points="1392.4,296.1 1392.8,295.4 1393.2,294.8 1393.5,294.2 1393.9,293.6 1394.3,292.9 1394.7,292.3 1395.1,291.7 1395.5,291.1 1395.9,290.4 1396.4,289.7 1396.9,289.0 1397.4,288.3 1397.9,287.6 1398.3,286.9 1398.8,286.2 1399.3,285.5 1399.8,284.9 1400.3,284.2 1400.7,283.6 1401.2,282.9 1401.7,282.3 1402.2,281.7 1402.7,281.1 1403.1,280.4 1403.6,279.8 1404.1,279.3 1404.6,278.7 1405.1,278.1 1405.5,277.5 1406.0,277.0 1406.5,276.4 1407.0,275.9 1407.5,275.3 1408.0,274.8 1408.4,274.2 1408.9,273.7 1409.5,273.1 1410.1,272.5 1410.6,271.9 1411.2,271.3 1411.8,270.7 1412.4,270.1 1412.9,269.6 1413.5,269.0 1414.1,268.5 1414.7,267.9 1415.3,267.4 1415.8,266.8 1416.4,266.3 1417.0,265.8 1417.6,265.3 1418.1,264.8 1418.7,264.3 1419.3,263.8 1419.9,263.3 1420.4,262.9 1421.0,262.4 1421.6,261.9 1422.2,261.5 1422.7,261.0 1423.3,260.6 1423.9,260.2 1424.5,259.7 1425.1,259.3 1425.6,258.9 1426.2,258.5 1426.9,258.0 1427.5,257.5 1428.2,257.1 1428.9,256.6 1429.6,256.2 1430.2,255.7 1430.9,255.3 1431.6,254.9 1432.3,254.5 1432.9,254.0 1433.6,253.6 1434.3,253.2 1434.9,252.8 1435.6,252.4 1436.3,252.1 1437.0,251.7 1437.6,251.3 1438.3,250.9 1439.0,250.6 1439.7,250.2 1440.3,249.9 1441.0,249.5 1441.7,249.2 1442.3,248.8 1443.0,248.5 1443.7,248.2 1444.4,247.9 1445.0,247.5 1445.7,247.2 1446.4,246.9 1447.1,246.6 1447.7,246.3 1448.4,246.0 1449.1,245.7 1449.7,245.4 1450.4,245.2 1451.1,244.9 1451.8,244.6 1452.4,244.3 1453.1,244.1 1453.8,243.8 1454.4,243.5 1455.1,243.3 1455.8,243.0 1456.5,242.8 1457.1,242.5 1457.8,242.3 1458.5,242.0 1459.2,241.8 1459.8,241.6 1460.5,241.3 1461.2,241.1 1461.8,240.9 1462.5,240.6 1463.2,240.4 1464.0,240.2 1464.7,239.9 1465.5,239.7 1466.3,239.5 1467.0,239.2 1467.8,239.0 1468.6,238.8 1469.3,238.5 1470.1,238.3 1470.9,238.1 1471.6,237.9 1472.4,237.7 1473.2,237.5 1474.0,237.3 1474.7,237.1 1475.5,236.9 1476.3,236.7 1477.0,236.5 1477.8,236.3 1478.6,236.1 1479.3,235.9 1480.1,235.7 1480.9,235.5 1481.6,235.4 1482.4,235.2 1483.2,235.0 1483.9,234.8 1484.7,234.7 1485.5,234.5 1486.2,234.3 1487.0,234.2 1487.8,234.0 1488.6,233.8 1489.3,233.7 1490.1,233.5 1490.9,233.4 1491.6,233.2 1492.4,233.1 1493.2,232.9 1493.9,232.8 1494.7,232.7 1495.5,232.5 1496.2,232.4 1497.0,232.2 1497.8,232.1 1498.5,232.0 1499.3,231.8 1500.1,231.7 1500.8,231.6 1501.6,231.4 1502.4,231.3 1503.2,231.2 1503.9,231.1 1504.7,231.0 1505.5,230.8 1506.2,230.7 1507.0,230.6 1507.8,230.5 1508.5,230.4 1509.3,230.3 1510.1,230.1 1510.8,230.0 1511.6,229.9 1512.4,229.8 1513.1,229.7 1513.9,229.6 1514.7,229.5 1515.5,229.4 1516.2,229.3 1517.0,229.2 1517.8,229.1 1518.5,229.0 1519.3,228.9 1520.1,228.8 1520.8,228.7 1521.6,228.6 1522.4,228.5 1523.1,228.4 1523.9,228.4 1524.7,228.3 1525.4,228.2 1526.2,228.1 1527.0,228.0 1527.7,227.9 1528.5,227.8 1529.3,227.8 1530.1,227.7 1530.8,227.6 1531.6,227.5 1532.4,227.4 1533.1,227.4 1533.9,227.3 1534.7,227.2 1535.4,227.1 1536.2,227.1 1537.0,227.0 1537.7,226.9 1538.5,226.8 1539.3,226.8 1540.0,226.7 1540.8,226.6 1541.6,226.6 1542.4,226.5 1543.1,226.4 1543.9,226.4 1544.7,226.3 1545.4,226.2 1546.2,226.2 1547.0,226.1 1547.7,226.0 1548.5,226.0 1549.3,225.9 1550.0,225.8 1550.8,225.8 1551.6,225.7 1552.3,225.7 1553.1,225.6 1553.9,225.5 1554.6,225.5 1555.4,225.4 1556.2,225.4 1557.0,225.3 1557.7,225.3 1558.5,225.2 1559.3,225.2 1560.0,225.1 1560.8,225.0 1561.6,225.0 1562.3,224.9 1563.1,224.9 1563.9,224.8 1564.6,224.8 1565.4,224.7 1566.2,224.7 1566.9,224.6 1567.7,224.6 1568.5,224.5 1569.3,224.5 1570.0,224.4 1570.8,224.4 1571.6,224.4 1572.3,224.3 1573.1,224.3 1573.9,224.2 1574.6,224.2 1575.4,224.1 1576.2,224.1 1576.9,224.0 1577.7,224.0 1578.5,224.0 1579.2,223.9 1580.0,223.9 1580.8,223.8 1581.5,223.8 1582.3,223.8 1583.1,223.7 1583.9,223.7 1584.6,223.6 1585.4,223.6 1586.2,223.6 1586.9,223.5 1587.7,223.5 1588.5,223.4 1589.2,223.4 1590.0,223.4 1590.8,223.3 1591.5,223.3 1592.3,223.3 1593.1,223.2 1593.8,223.2 1594.6,223.2 1595.4,223.1 1596.2,223.1 1596.9,223.1 1597.7,223.0 1598.5,223.0 1599.2,223.0 1600.0,222.9 1600.8,222.9 1601.5,222.9 1602.3,222.8 1603.1,222.8 1603.8,222.8 1604.6,222.7 1605.4,222.7 1606.1,222.7 1606.9,222.6 1607.7,222.6 1608.4,222.6 1609.2,222.5 1610.0,222.5 1610.8,222.5 1611.5,222.5 1612.3,222.4 1613.1,222.4 1613.8,222.4 1614.6,222.3 1615.4,222.3 1616.1,222.3 1616.9,222.3 1617.7,222.2 1618.4,222.2 1619.2,222.2 1620.0,222.1 1620.7,222.1 1621.5,222.1 1622.3,222.1 1623.1,222.0 1623.8,222.0 1624.6,222.0 1625.4,222.0 1626.1,221.9 1626.9,221.9 1627.7,221.9 1628.4,221.9 1629.2,221.8 1630.0,221.8 1630.7,221.8 1631.5,221.8 1632.3,221.7 1633.0,221.7 1633.8,221.7 1634.6,221.7 1635.3,221.6 1636.1,221.6 1636.9,221.6 1637.7,221.6 1638.4,221.5 1639.2,221.5 1640.0,221.5 1640.7,221.5 1641.5,221.5 1642.3,221.4 1643.0,221.4 1643.8,221.4 1644.6,221.4 1645.3,221.3 1646.1,221.3 1646.9,221.3 1647.6,221.3 1648.4,221.2 1649.2,221.2 1649.9,221.2 1650.7,221.2 1651.5,221.2 1652.3,221.1 1653.0,221.1 1653.8,221.1 1654.6,221.1 1655.3,221.0 1656.1,221.0 1656.9,221.0 1657.6,221.0 1658.4,221.0 1659.2,220.9 1659.9,220.9 1660.7,220.9 1661.5,220.9 1662.2,220.9 1663.0,220.8 1663.8,220.8 1664.6,220.8 1665.3,220.8 1666.1,220.7 1666.9,220.7 1667.6,220.7 1668.4,220.7 1669.2,220.7 1669.9,220.6 1670.7,220.6 1671.5,220.6 1672.2,220.6 1673.0,220.6 1673.8,220.5 1674.5,220.5 1675.3,220.5 1676.1,220.5 1676.8,220.5 1677.6,220.4 1678.4,220.4 1679.2,220.4 1679.9,220.4 1680.7,220.3 1681.5,220.3 1682.2,220.3 1683.0,220.3 1683.8,220.3 1684.5,220.2 1685.3,220.2 1686.1,220.2 1686.8,220.2 1687.6,220.1 1688.4,220.1 1689.1,220.1 1689.9,220.1 1690.7,220.0 1691.5,220.0 1692.2,220.0 1693.0,220.0 1693.8,220.0 1694.5,219.9 1695.3,219.9 1696.1,219.9 1696.8,219.9 1697.6,219.8 1698.4,219.8 1699.1,219.8 1699.9,219.8 1700.7,219.7 1701.4,219.7 1702.2,219.7 1703.0,219.7 1703.7,219.6 1704.5,219.6 1705.3,219.6 1706.1,219.5 1706.8,219.5 1707.6,219.5 1708.4,219.5 1709.1,219.4 1709.9,219.4 1710.7,219.4 1711.4,219.4 1712.2,219.3 1713.0,219.3 1713.7,219.3 1714.5,219.2 1715.3,219.2 1716.0,219.2 1716.8,219.1 1717.6,219.1 1718.4,219.1 1719.1,219.1 1719.9,219.0 1720.7,219.0 1721.4,219.0 1722.2,218.9 1723.0,218.9 1723.7,218.9 1724.5,218.8 1725.3,218.8 1726.0,218.7 1726.8,218.7 1727.6,218.7 1728.3,218.6 1729.1,218.6 1729.9,218.6 1730.6,218.5 1731.4,218.5 1732.2,218.4 1733.0,218.4 1733.7,218.4 1734.5,218.3 1735.3,218.3 1736.0,218.2 1736.8,218.2 1737.6,218.1 1738.3,218.1 1739.1,218.1 1739.9,218.0 1740.6,218.0 1741.4,217.9 1742.2,217.9 1742.9,217.8 1743.7,217.8 1744.5,217.7 1745.3,217.6 1746.0,217.6 1746.8,217.5 1747.6,217.5 1748.3,217.4 1749.1,217.4 1749.9,217.3 1750.6,217.2 1751.4,217.2 1752.2,217.1 1752.9,217.1 1753.7,217.0 1754.5,216.9 1755.2,216.8 1756.0,216.8 1756.8,216.7 1757.5,216.6 1758.3,216.6 1759.1,216.5 1759.9,216.4 1760.6,216.3 1761.4,216.2 1762.2,216.1 1762.9,216.1 1763.7,216.0 1764.5,215.9 1765.2,215.8 1766.0,215.7 1766.8,215.6 1767.5,215.5 1768.3,215.4 1769.1,215.3 1769.8,215.2 1770.6,215.1 1771.4,214.9 1772.2,214.8 1772.9,214.7 1773.7,214.6 1774.5,214.5 1775.2,214.3 1776.0,214.2 1776.8,214.1 1777.5,213.9 1778.3,213.8 1779.1,213.6 1779.8,213.5 1780.6,213.3 1781.4,213.2 1782.1,213.0 1782.9,212.9 1783.7,212.7 1784.4,212.5 1785.2,212.3 1786.0,212.2 1786.8,212.0 1787.5,211.8 1788.3,211.6 1789.1,211.4 1789.8,211.2 1790.6,210.9 1791.4,210.7 1792.1,210.5 1792.9,210.3 1793.7,210.0 1794.4,209.8 1795.1,209.6 1795.8,209.3 1796.5,209.1 1797.1,208.9 1797.8,208.6 1798.5,208.4 1799.1,208.1 1799.8,207.8 1800.5,207.6 1801.2,207.3 1801.8,207.0 1802.5,206.7 1803.2,206.4 1803.9,206.1 1804.5,205.8 1805.2,205.5 1805.9,205.2 1806.5,204.8 1807.2,204.5 1807.9,204.2 1808.6,203.8 1809.2,203.4 1809.9,203.0 1810.6,202.7 1811.3,202.3 1811.9,201.9 1812.6,201.4 1813.3,201.0 1813.9,200.6 1814.6,200.1 1815.3,199.7 1816.0,199.2 1816.5,198.8 1817.1,198.4 1817.7,197.9 1818.3,197.5 1818.8,197.0 1819.4,196.6 1820.0,196.1 1820.6,195.6 1821.1,195.1 1821.7,194.6 1822.3,194.1 1822.9,193.6 1823.5,193.1 1824.0,192.5 1824.6,192.0 1825.2,191.4 1825.8,190.8 1826.3,190.2 1826.9,189.6 1827.5,189.0 1828.0,188.4 1828.4,187.9 1828.9,187.4 1829.4,186.8 1829.9,186.2 1830.4,185.7 1830.8,185.1 1831.3,184.5 1831.8,183.9 1832.3,183.2 1832.8,182.6 1833.3,182.0 1833.7,181.3 1834.2,180.6 1834.7,180.0 1835.2,179.3 1835.7,178.6 1836.1,177.8 1836.6,177.1 1837.0,176.5 1837.4,175.9 1837.8,175.3 1838.2,174.7 1838.5,174.0 1838.9,173.4 1839.3,172.8 1839.7,172.1 1840.1,171.4 1840.5,170.8 1840.8,170.1 1841.2,169.4 1841.6,168.7 1842.0,167.9 1842.4,167.2 1842.8,166.5 1843.1,165.7 1843.5,165.0 1843.9,164.2 1844.3,163.4 1844.7,162.6 1845.1,161.8 1845.5,161.0 1845.8,160.2 1846.2,159.3 1846.6,158.5 1846.9,157.8 1847.2,157.1 1847.5,156.5 1847.8,155.8 1848.0,155.1 1848.3,154.4 1848.6,153.8 1848.9,153.1 1849.2,152.3 1849.5,151.6 1849.8,150.9 1850.1,150.2 1850.4,149.4 1850.6,148.7 1850.9,147.9 1851.2,147.2 1851.5,146.4 1851.8,145.6 1852.1,144.8 1852.4,144.0 1852.7,143.2 1852.9,142.4 1853.2,141.6 1853.5,140.7 1853.8,139.9 1854.1,139.0 1854.4,138.2 1854.7,137.3 1855.0,136.4 1855.3,135.5 1855.5,134.6 1855.8,133.7 1856.1,132.8 1856.4,131.9 1856.7,130.9 1857.0,130.0 1857.3,129.0 1857.6,128.0 1857.8,127.0 1858.1,126.0 1858.4,125.0 1858.7,124.0 1858.9,123.3 1859.1,122.6 1859.3,121.9 1859.5,121.2 1859.7,120.5 1859.9,119.8 1860.1,119.1 1860.2,118.4 1860.4,117.7 1860.6,116.9 1860.8,116.2 1861.0,115.5 1861.2,114.7 1861.4,114.0 1861.6,113.2 1861.8,112.4 1862.0,111.7 1862.2,110.9 1862.4,110.1 1862.6,109.3 1862.7,108.5 1862.9,107.7 1863.1,106.9 1863.3,106.1 1863.5,105.3 1863.7,104.5 1863.9,103.7 1864.1,102.8 1864.3,102.0 1864.5,101.1 1864.7,100.3 1864.9,99.4 1865.0,98.6 1865.2,97.7 1865.4,96.8 1865.6,95.9 1865.8,95.0 1866.0,94.1 1866.2,93.2 1866.4,92.3 1866.6,91.4 1866.8,90.5 1867.0,89.6 1867.2,88.6 1867.4,87.7 1867.5,86.7 1867.7,85.8 1867.9,84.8 1868.1,83.8 1868.3,82.8 1868.5,81.9 1868.7,80.9 1868.9,79.9 1869.1,78.9 1869.3,77.8 1869.5,76.8 1869.7,75.8 1869.9,74.7 1870.0,73.7 1870.2,72.6 1870.4,71.6 1870.6,70.5 1870.8,69.4 1871.0,68.4 1871.2,67.3 1871.4,66.2 1871.6,65.1 1871.8,63.9 1872.0,62.8 1872.2,61.7 1872.4,60.5 1872.5,59.4 1872.7,58.2 1872.9,57.1 1873.1,55.9 1873.3,54.7 1873.5,53.5 1873.7,52.3 1873.9,51.1 1874.1,49.9 1874.3,48.6 1874.5,47.4 1874.7,46.1 1874.8,44.9 1875.0,43.6 1875.2,42.3 1875.4,41.1 1875.6,39.8 1875.8,38.5 1876.0,37.2 1876.2,35.8 1876.4,34.5 1876.6,33.2 1876.8,31.8 1877.0,30.4 1877.2,29.1 1877.3,27.7 1877.5,26.3 1877.7,24.9 1877.8,24.2 1877.9,23.5 1878.0,22.8 1878.1,22.1 1878.2,21.3 1878.3,20.6 1878.4,19.9 1878.5,19.2 1878.6,18.4 1878.7,17.7 1878.8,17.0 1878.9,16.3 1879.0,15.5 1879.1,14.8 1879.2,14.0 1879.3,13.3 1879.4,12.5 1879.5,11.8 1879.6,11.0 1879.7,10.3 1879.7,9.5 1879.8,8.8 1879.9,8.0 1880.0,7.2 1880.1,6.5 1880.2,5.7 1880.3,4.9 1880.4,4.1 1880.5,3.4 1880.6,2.6 1880.7,1.8 1880.8,1.0 1880.9,0.2 1881.0,-0.6 1881.1,-1.4 1881.2,-2.2 1881.3,-3.0 1881.4,-3.8 1881.5,-4.6 1881.5,-4.6" fill="none" stroke="#5a47a3" stroke-width="3.2" stroke-linejoin="round"/><polyline points="1392.4,338.7 1392.8,338.0 1393.2,337.3 1393.5,336.6 1393.9,335.9 1394.3,335.3 1394.7,334.6 1395.1,333.9 1395.5,333.3 1395.8,332.6 1396.2,331.9 1396.6,331.3 1397.0,330.6 1397.4,330.0 1397.8,329.4 1398.2,328.7 1398.5,328.1 1398.9,327.5 1399.3,326.8 1399.7,326.2 1400.1,325.6 1400.5,325.0 1400.8,324.4 1401.2,323.7 1401.6,323.1 1402.0,322.5 1402.4,321.9 1402.8,321.3 1403.2,320.6 1403.7,319.9 1404.2,319.1 1404.7,318.4 1405.2,317.7 1405.6,317.0 1406.1,316.3 1406.6,315.6 1407.1,314.9 1407.6,314.2 1408.0,313.5 1408.5,312.8 1409.0,312.1 1409.5,311.4 1410.0,310.8 1410.4,310.1 1410.9,309.4 1411.4,308.8 1411.9,308.1 1412.4,307.5 1412.9,306.9 1413.3,306.2 1413.8,305.6 1414.3,305.0 1414.8,304.3 1415.3,303.7 1415.7,303.1 1416.2,302.5 1416.7,301.9 1417.2,301.3 1417.7,300.7 1418.1,300.1 1418.6,299.5 1419.1,298.9 1419.6,298.3 1420.1,297.7 1420.5,297.2 1421.0,296.6 1421.5,296.0 1422.0,295.5 1422.5,294.9 1422.9,294.4 1423.4,293.8 1423.9,293.3 1424.4,292.7 1424.9,292.2 1425.3,291.7 1425.8,291.1 1426.3,290.6 1426.8,290.1 1427.4,289.5 1427.9,288.8 1428.5,288.2 1429.1,287.6 1429.7,287.0 1430.2,286.4 1430.8,285.8 1431.4,285.3 1432.0,284.7 1432.5,284.1 1433.1,283.5 1433.7,283.0 1434.3,282.4 1434.9,281.9 1435.4,281.3 1436.0,280.8 1436.6,280.2 1437.2,279.7 1437.7,279.1 1438.3,278.6 1438.9,278.1 1439.5,277.6 1440.0,277.1 1440.6,276.6 1441.2,276.1 1441.8,275.6 1442.3,275.1 1442.9,274.6 1443.5,274.1 1444.1,273.6 1444.6,273.1 1445.2,272.6 1445.8,272.2 1446.4,271.7 1447.0,271.2 1447.5,270.8 1448.1,270.3 1448.7,269.9 1449.3,269.4 1449.8,269.0 1450.4,268.6 1451.0,268.1 1451.6,267.7 1452.1,267.3 1452.7,266.8 1453.3,266.4 1453.9,266.0 1454.4,265.6 1455.1,265.1 1455.8,264.6 1456.5,264.2 1457.1,263.7 1457.8,263.3 1458.5,262.8 1459.2,262.4 1459.8,261.9 1460.5,261.5 1461.2,261.0 1461.8,260.6 1462.5,260.2 1463.2,259.8 1463.9,259.4 1464.5,258.9 1465.2,258.5 1465.9,258.1 1466.6,257.7 1467.2,257.3 1467.9,256.9 1468.6,256.6 1469.2,256.2 1469.9,255.8 1470.6,255.4 1471.3,255.0 1471.9,254.7 1472.6,254.3 1473.3,254.0 1474.0,253.6 1474.6,253.3 1475.3,252.9 1476.0,252.6 1476.6,252.2 1477.3,251.9 1478.0,251.5 1478.7,251.2 1479.3,250.9 1480.0,250.6 1480.7,250.2 1481.3,249.9 1482.0,249.6 1482.7,249.3 1483.4,249.0 1484.0,248.7 1484.7,248.4 1485.4,248.1 1486.1,247.8 1486.7,247.5 1487.4,247.2 1488.1,246.9 1488.7,246.6 1489.4,246.4 1490.1,246.1 1490.8,245.8 1491.4,245.5 1492.1,245.3 1492.8,245.0 1493.5,244.7 1494.1,244.5 1494.8,244.2 1495.5,244.0 1496.1,243.7 1496.8,243.5 1497.5,243.2 1498.2,243.0 1498.8,242.7 1499.5,242.5 1500.2,242.3 1500.8,242.0 1501.5,241.8 1502.2,241.6 1502.9,241.3 1503.5,241.1 1504.2,240.9 1504.9,240.7 1505.7,240.4 1506.4,240.2 1507.2,239.9 1508.0,239.7 1508.7,239.5 1509.5,239.2 1510.3,239.0 1511.0,238.8 1511.8,238.6 1512.6,238.3 1513.3,238.1 1514.1,237.9 1514.9,237.7 1515.6,237.5 1516.4,237.3 1517.2,237.1 1518.0,236.9 1518.7,236.6 1519.5,236.4 1520.3,236.3 1521.0,236.1 1521.8,235.9 1522.6,235.7 1523.3,235.5 1524.1,235.3 1524.9,235.1 1525.6,234.9 1526.4,234.8 1527.2,234.6 1527.9,234.4 1528.7,234.2 1529.5,234.1 1530.2,233.9 1531.0,233.7 1531.8,233.6 1532.6,233.4 1533.3,233.2 1534.1,233.1 1534.9,232.9 1535.6,232.8 1536.4,232.6 1537.2,232.5 1537.9,232.3 1538.7,232.2 1539.5,232.0 1540.2,231.9 1541.0,231.7 1541.8,231.6 1542.5,231.5 1543.3,231.3 1544.1,231.2 1544.8,231.1 1545.6,230.9 1546.4,230.8 1547.2,230.7 1547.9,230.5 1548.7,230.4 1549.5,230.3 1550.2,230.2 1551.0,230.0 1551.8,229.9 1552.5,229.8 1553.3,229.7 1554.1,229.6 1554.8,229.4 1555.6,229.3 1556.4,229.2 1557.1,229.1 1557.9,229.0 1558.7,228.9 1559.5,228.8 1560.2,228.7 1561.0,228.6 1561.8,228.5 1562.5,228.4 1563.3,228.3 1564.1,228.2 1564.8,228.1 1565.6,228.0 1566.4,227.9 1567.1,227.8 1567.9,227.7 1568.7,227.6 1569.4,227.5 1570.2,227.4 1571.0,227.3 1571.7,227.2 1572.5,227.1 1573.3,227.1 1574.1,227.0 1574.8,226.9 1575.6,226.8 1576.4,226.7 1577.1,226.6 1577.9,226.6 1578.7,226.5 1579.4,226.4 1580.2,226.3 1581.0,226.2 1581.7,226.2 1582.5,226.1 1583.3,226.0 1584.0,225.9 1584.8,225.9 1585.6,225.8 1586.4,225.7 1587.1,225.6 1587.9,225.6 1588.7,225.5 1589.4,225.4 1590.2,225.4 1591.0,225.3 1591.7,225.2 1592.5,225.2 1593.3,225.1 1594.0,225.0 1594.8,225.0 1595.6,224.9 1596.3,224.8 1597.1,224.8 1597.9,224.7 1598.6,224.7 1599.4,224.6 1600.2,224.5 1601.0,224.5 1601.7,224.4 1602.5,224.4 1603.3,224.3 1604.0,224.2 1604.8,224.2 1605.6,224.1 1606.3,224.1 1607.1,224.0 1607.9,224.0 1608.6,223.9 1609.4,223.9 1610.2,223.8 1610.9,223.8 1611.7,223.7 1612.5,223.6 1613.3,223.6 1614.0,223.5 1614.8,223.5 1615.6,223.4 1616.3,223.4 1617.1,223.4 1617.9,223.3 1618.6,223.3 1619.4,223.2 1620.2,223.2 1620.9,223.1 1621.7,223.1 1622.5,223.0 1623.2,223.0 1624.0,222.9 1624.8,222.9 1625.5,222.8 1626.3,222.8 1627.1,222.8 1627.9,222.7 1628.6,222.7 1629.4,222.6 1630.2,222.6 1630.9,222.5 1631.7,222.5 1632.5,222.5 1633.2,222.4 1634.0,222.4 1634.8,222.3 1635.5,222.3 1636.3,222.3 1637.1,222.2 1637.8,222.2 1638.6,222.1 1639.4,222.1 1640.2,222.1 1640.9,222.0 1641.7,222.0 1642.5,222.0 1643.2,221.9 1644.0,221.9 1644.8,221.8 1645.5,221.8 1646.3,221.8 1647.1,221.7 1647.8,221.7 1648.6,221.7 1649.4,221.6 1650.1,221.6 1650.9,221.6 1651.7,221.5 1652.4,221.5 1653.2,221.5 1654.0,221.4 1654.8,221.4 1655.5,221.4 1656.3,221.3 1657.1,221.3 1657.8,221.3 1658.6,221.2 1659.4,221.2 1660.1,221.2 1660.9,221.1 1661.7,221.1 1662.4,221.1 1663.2,221.0 1664.0,221.0 1664.7,221.0 1665.5,220.9 1666.3,220.9 1667.1,220.9 1667.8,220.9 1668.6,220.8 1669.4,220.8 1670.1,220.8 1670.9,220.7 1671.7,220.7 1672.4,220.7 1673.2,220.6 1674.0,220.6 1674.7,220.6 1675.5,220.6 1676.3,220.5 1677.0,220.5 1677.8,220.5 1678.6,220.4 1679.3,220.4 1680.1,220.4 1680.9,220.3 1681.7,220.3 1682.4,220.3 1683.2,220.2 1684.0,220.2 1684.7,220.2 1685.5,220.1 1686.3,220.1 1687.0,220.1 1687.8,220.0 1688.6,220.0 1689.3,219.9 1690.1,219.9 1690.9,219.9 1691.6,219.8 1692.4,219.8 1693.2,219.8 1693.9,219.7 1694.7,219.7 1695.5,219.7 1696.3,219.6 1697.0,219.6 1697.8,219.6 1698.6,219.5 1699.3,219.5 1700.1,219.4 1700.9,219.4 1701.6,219.4 1702.4,219.3 1703.2,219.3 1703.9,219.2 1704.7,219.2 1705.5,219.2 1706.2,219.1 1707.0,219.1 1707.8,219.1 1708.6,219.0 1709.3,219.0 1710.1,218.9 1710.9,218.9 1711.6,218.8 1712.4,218.8 1713.2,218.8 1713.9,218.7 1714.7,218.7 1715.5,218.6 1716.2,218.6 1717.0,218.6 1717.8,218.5 1718.5,218.5 1719.3,218.4 1720.1,218.4 1720.8,218.3 1721.6,218.3 1722.4,218.2 1723.2,218.2 1723.9,218.1 1724.7,218.1 1725.5,218.0 1726.2,218.0 1727.0,217.9 1727.8,217.9 1728.5,217.8 1729.3,217.8 1730.1,217.7 1730.8,217.7 1731.6,217.6 1732.4,217.6 1733.1,217.5 1733.9,217.5 1734.7,217.4 1735.5,217.4 1736.2,217.3 1737.0,217.2 1737.8,217.2 1738.5,217.1 1739.3,217.0 1740.1,217.0 1740.8,216.9 1741.6,216.9 1742.4,216.8 1743.1,216.7 1743.9,216.7 1744.7,216.6 1745.4,216.5 1746.2,216.4 1747.0,216.4 1747.7,216.3 1748.5,216.2 1749.3,216.1 1750.1,216.0 1750.8,216.0 1751.6,215.9 1752.4,215.8 1753.1,215.7 1753.9,215.6 1754.7,215.5 1755.4,215.4 1756.2,215.3 1757.0,215.2 1757.7,215.1 1758.5,215.0 1759.3,214.9 1760.0,214.8 1760.8,214.7 1761.6,214.6 1762.4,214.5 1763.1,214.4 1763.9,214.3 1764.7,214.1 1765.4,214.0 1766.2,213.9 1767.0,213.8 1767.7,213.6 1768.5,213.5 1769.3,213.4 1770.0,213.2 1770.8,213.1 1771.6,212.9 1772.3,212.7 1773.1,212.6 1773.9,212.4 1774.6,212.3 1775.4,212.1 1776.2,211.9 1777.0,211.7 1777.7,211.5 1778.5,211.3 1779.3,211.1 1780.0,210.9 1780.8,210.7 1781.6,210.5 1782.3,210.3 1783.1,210.1 1783.9,209.8 1784.6,209.6 1785.4,209.3 1786.1,209.1 1786.8,208.9 1787.4,208.7 1788.1,208.4 1788.8,208.2 1789.4,207.9 1790.1,207.7 1790.8,207.4 1791.5,207.1 1792.1,206.8 1792.8,206.6 1793.5,206.3 1794.2,206.0 1794.8,205.7 1795.5,205.3 1796.2,205.0 1796.8,204.7 1797.5,204.3 1798.2,204.0 1798.9,203.6 1799.5,203.3 1800.2,202.9 1800.9,202.5 1801.5,202.1 1802.2,201.7 1802.9,201.2 1803.6,200.8 1804.2,200.4 1804.9,199.9 1805.6,199.4 1806.2,199.0 1806.7,198.6 1807.3,198.2 1807.9,197.7 1808.5,197.3 1809.0,196.8 1809.6,196.4 1810.2,195.9 1810.8,195.4 1811.3,194.9 1811.9,194.4 1812.5,193.8 1813.1,193.3 1813.7,192.7 1814.2,192.2 1814.8,191.6 1815.4,191.0 1816.0,190.4 1816.5,189.8 1817.0,189.2 1817.5,188.7 1818.0,188.2 1818.5,187.6 1818.9,187.0 1819.4,186.4 1819.9,185.9 1820.4,185.3 1820.9,184.6 1821.3,184.0 1821.8,183.4 1822.3,182.7 1822.8,182.0 1823.3,181.4 1823.7,180.7 1824.2,180.0 1824.7,179.2 1825.2,178.5 1825.6,177.9 1825.9,177.3 1826.3,176.7 1826.7,176.1 1827.1,175.4 1827.5,174.8 1827.9,174.1 1828.3,173.5 1828.6,172.8 1829.0,172.1 1829.4,171.4 1829.8,170.7 1830.2,170.0 1830.6,169.2 1830.9,168.5 1831.3,167.8 1831.7,167.0 1832.1,166.2 1832.5,165.4 1832.9,164.6 1833.3,163.8 1833.6,163.0 1834.0,162.1 1834.4,161.3 1834.7,160.6 1835.0,160.0 1835.3,159.3 1835.6,158.6 1835.8,157.9 1836.1,157.3 1836.4,156.6 1836.7,155.9 1837.0,155.1 1837.3,154.4 1837.6,153.7 1837.9,153.0 1838.2,152.2 1838.4,151.4 1838.7,150.7 1839.0,149.9 1839.3,149.1 1839.6,148.3 1839.9,147.5 1840.2,146.7 1840.5,145.9 1840.7,145.1 1841.0,144.2 1841.3,143.4 1841.6,142.5 1841.9,141.6 1842.2,140.8 1842.5,139.9 1842.8,139.0 1843.0,138.1 1843.3,137.1 1843.6,136.2 1843.9,135.3 1844.2,134.3 1844.5,133.3 1844.8,132.3 1845.1,131.4 1845.4,130.4 1845.6,129.3 1845.8,128.7 1846.0,128.0 1846.2,127.3 1846.4,126.6 1846.6,125.9 1846.8,125.2 1847.0,124.4 1847.2,123.7 1847.4,123.0 1847.6,122.3 1847.8,121.5 1847.9,120.8 1848.1,120.0 1848.3,119.3 1848.5,118.5 1848.7,117.7 1848.9,117.0 1849.1,116.2 1849.3,115.4 1849.5,114.6 1849.7,113.8 1849.9,113.0 1850.1,112.2 1850.3,111.4 1850.4,110.5 1850.6,109.7 1850.8,108.9 1851.0,108.0 1851.2,107.2 1851.4,106.3 1851.6,105.5 1851.8,104.6 1852.0,103.7 1852.2,102.8 1852.4,101.9 1852.6,101.0 1852.8,100.1 1852.9,99.2 1853.1,98.3 1853.3,97.4 1853.5,96.4 1853.7,95.5 1853.9,94.5 1854.1,93.6 1854.3,92.6 1854.5,91.6 1854.7,90.7 1854.9,89.7 1855.1,88.7 1855.3,87.7 1855.4,86.7 1855.6,85.7 1855.8,84.6 1856.0,83.6 1856.2,82.5 1856.4,81.5 1856.6,80.4 1856.8,79.4 1857.0,78.3 1857.2,77.2 1857.4,76.1 1857.6,75.0 1857.7,73.9 1857.9,72.8 1858.1,71.6 1858.3,70.5 1858.5,69.4 1858.7,68.2 1858.9,67.0 1859.1,65.9 1859.3,64.7 1859.5,63.5 1859.7,62.3 1859.9,61.1 1860.1,59.9 1860.2,58.6 1860.4,57.4 1860.6,56.1 1860.8,54.9 1861.0,53.6 1861.2,52.3 1861.4,51.0 1861.6,49.7 1861.8,48.4 1862.0,47.1 1862.2,45.8 1862.4,44.4 1862.6,43.1 1862.7,41.7 1862.9,40.3 1863.1,39.0 1863.3,37.6 1863.4,36.9 1863.5,36.2 1863.6,35.5 1863.7,34.7 1863.8,34.0 1863.9,33.3 1864.0,32.6 1864.1,31.9 1864.2,31.2 1864.3,30.4 1864.4,29.7 1864.5,29.0 1864.6,28.2 1864.7,27.5 1864.8,26.7 1864.9,26.0 1865.0,25.3 1865.0,24.5 1865.1,23.8 1865.2,23.0 1865.3,22.2 1865.4,21.5 1865.5,20.7 1865.6,19.9 1865.7,19.2 1865.8,18.4 1865.9,17.6 1866.0,16.8 1866.1,16.1 1866.2,15.3 1866.3,14.5 1866.4,13.7 1866.5,12.9 1866.6,12.1 1866.7,11.3 1866.8,10.5 1866.9,9.7 1867.0,8.9 1867.1,8.1 1867.2,7.2 1867.3,6.4 1867.4,5.6 1867.5,4.8 1867.5,3.9 1867.6,3.1 1867.7,2.3 1867.8,1.4 1867.9,0.6 1868.0,-0.3 1868.1,-1.1 1868.2,-2.0 1868.3,-2.8 1868.4,-3.7 1868.5,-4.6 1868.5,-4.6" fill="none" stroke="#1b2a5c" stroke-width="3.2" stroke-linejoin="round"/><polyline points="1436.5,445.2 1436.8,444.2 1437.1,443.2 1437.3,442.2 1437.6,441.2 1437.9,440.2 1438.2,439.2 1438.5,438.2 1438.8,437.2 1439.1,436.2 1439.4,435.2 1439.7,434.3 1439.9,433.3 1440.2,432.3 1440.5,431.4 1440.8,430.4 1441.1,429.4 1441.4,428.5 1441.7,427.5 1442.0,426.6 1442.2,425.7 1442.5,424.7 1442.8,423.8 1443.1,422.8 1443.4,421.9 1443.7,421.0 1444.0,420.1 1444.3,419.2 1444.6,418.3 1444.8,417.3 1445.1,416.4 1445.4,415.5 1445.7,414.6 1446.0,413.8 1446.3,412.9 1446.6,412.0 1446.9,411.1 1447.1,410.2 1447.4,409.3 1447.7,408.5 1448.0,407.6 1448.3,406.7 1448.6,405.9 1448.9,405.0 1449.2,404.2 1449.5,403.3 1449.7,402.5 1450.0,401.6 1450.3,400.8 1450.6,400.0 1450.9,399.1 1451.2,398.3 1451.5,397.5 1451.8,396.7 1452.0,395.8 1452.3,395.0 1452.6,394.2 1452.9,393.4 1453.2,392.6 1453.5,391.8 1453.8,391.0 1454.1,390.2 1454.4,389.4 1454.6,388.6 1454.9,387.8 1455.2,387.1 1455.5,386.3 1455.8,385.5 1456.1,384.7 1456.4,384.0 1456.7,383.2 1456.9,382.4 1457.2,381.7 1457.5,380.9 1457.8,380.2 1458.1,379.4 1458.4,378.7 1458.7,377.9 1459.0,377.2 1459.3,376.5 1459.5,375.7 1459.8,375.0 1460.1,374.3 1460.4,373.6 1460.7,372.8 1461.0,372.1 1461.3,371.4 1461.6,370.7 1461.8,370.0 1462.1,369.3 1462.4,368.6 1462.7,367.9 1463.0,367.2 1463.3,366.5 1463.6,365.8 1463.9,365.1 1464.2,364.4 1464.4,363.7 1464.7,363.0 1465.0,362.4 1465.3,361.7 1465.6,361.0 1465.9,360.4 1466.2,359.7 1466.5,359.0 1466.7,358.4 1467.0,357.7 1467.3,357.1 1467.6,356.4 1467.9,355.8 1468.2,355.1 1468.6,354.3 1469.0,353.4 1469.3,352.6 1469.7,351.7 1470.1,350.9 1470.5,350.0 1470.9,349.2 1471.3,348.4 1471.6,347.6 1472.0,346.8 1472.4,346.0 1472.8,345.2 1473.2,344.4 1473.6,343.6 1474.0,342.8 1474.3,342.0 1474.7,341.2 1475.1,340.4 1475.5,339.6 1475.9,338.9 1476.3,338.1 1476.6,337.4 1477.0,336.6 1477.4,335.8 1477.8,335.1 1478.2,334.4 1478.6,333.6 1478.9,332.9 1479.3,332.2 1479.7,331.4 1480.1,330.7 1480.5,330.0 1480.9,329.3 1481.3,328.6 1481.6,327.9 1482.0,327.2 1482.4,326.5 1482.8,325.8 1483.2,325.1 1483.6,324.4 1483.9,323.7 1484.3,323.0 1484.7,322.4 1485.1,321.7 1485.5,321.0 1485.9,320.4 1486.2,319.7 1486.6,319.1 1487.0,318.4 1487.4,317.8 1487.8,317.1 1488.2,316.5 1488.6,315.9 1488.9,315.2 1489.3,314.6 1489.7,314.0 1490.1,313.4 1490.5,312.7 1490.9,312.1 1491.2,311.5 1491.6,310.9 1492.0,310.3 1492.4,309.7 1492.8,309.1 1493.3,308.4 1493.7,307.6 1494.2,306.9 1494.7,306.2 1495.2,305.5 1495.7,304.8 1496.1,304.1 1496.6,303.4 1497.1,302.7 1497.6,302.0 1498.1,301.3 1498.5,300.6 1499.0,299.9 1499.5,299.3 1500.0,298.6 1500.5,297.9 1500.9,297.3 1501.4,296.6 1501.9,296.0 1502.4,295.3 1502.9,294.7 1503.3,294.1 1503.8,293.4 1504.3,292.8 1504.8,292.2 1505.3,291.6 1505.7,291.0 1506.2,290.4 1506.7,289.8 1507.2,289.2 1507.7,288.6 1508.2,288.0 1508.6,287.4 1509.1,286.8 1509.6,286.3 1510.1,285.7 1510.6,285.1 1511.0,284.6 1511.5,284.0 1512.0,283.5 1512.5,282.9 1513.0,282.4 1513.4,281.8 1513.9,281.3 1514.4,280.8 1514.9,280.2 1515.4,279.7 1515.8,279.2 1516.4,278.6 1517.0,278.0 1517.6,277.4 1518.1,276.8 1518.7,276.2 1519.3,275.6 1519.9,275.0 1520.4,274.4 1521.0,273.8 1521.6,273.3 1522.2,272.7 1522.8,272.2 1523.3,271.6 1523.9,271.1 1524.5,270.5 1525.1,270.0 1525.6,269.4 1526.2,268.9 1526.8,268.4 1527.4,267.9 1527.9,267.4 1528.5,266.9 1529.1,266.4 1529.7,265.9 1530.2,265.4 1530.8,264.9 1531.4,264.4 1532.0,263.9 1532.6,263.4 1533.1,263.0 1533.7,262.5 1534.3,262.0 1534.9,261.6 1535.4,261.1 1536.0,260.7 1536.6,260.2 1537.2,259.8 1537.7,259.3 1538.3,258.9 1538.9,258.5 1539.5,258.1 1540.0,257.6 1540.6,257.2 1541.2,256.8 1541.9,256.3 1542.5,255.9 1543.2,255.4 1543.9,254.9 1544.6,254.5 1545.2,254.0 1545.9,253.6 1546.6,253.1 1547.3,252.7 1547.9,252.3 1548.6,251.8 1549.3,251.4 1549.9,251.0 1550.6,250.6 1551.3,250.2 1552.0,249.8 1552.6,249.4 1553.3,249.0 1554.0,248.6 1554.6,248.2 1555.3,247.8 1556.0,247.5 1556.7,247.1 1557.3,246.7 1558.0,246.4 1558.7,246.0 1559.4,245.7 1560.0,245.3 1560.7,245.0 1561.4,244.6 1562.0,244.3 1562.7,243.9 1563.4,243.6 1564.1,243.3 1564.7,243.0 1565.4,242.6 1566.1,242.3 1566.8,242.0 1567.4,241.7 1568.1,241.4 1568.8,241.1 1569.4,240.8 1570.1,240.5 1570.8,240.2 1571.5,239.9 1572.1,239.7 1572.8,239.4 1573.5,239.1 1574.2,238.8 1574.8,238.6 1575.5,238.3 1576.2,238.0 1576.8,237.8 1577.5,237.5 1578.2,237.3 1578.9,237.0 1579.5,236.8 1580.2,236.5 1580.9,236.3 1581.5,236.0 1582.2,235.8 1582.9,235.6 1583.6,235.3 1584.2,235.1 1584.9,234.9 1585.6,234.7 1586.3,234.4 1587.0,234.2 1587.8,233.9 1588.6,233.7 1589.3,233.5 1590.1,233.2 1590.9,233.0 1591.6,232.8 1592.4,232.5 1593.2,232.3 1593.9,232.1 1594.7,231.9 1595.5,231.7 1596.2,231.5 1597.0,231.3 1597.8,231.1 1598.6,230.9 1599.3,230.7 1600.1,230.5 1600.9,230.3 1601.6,230.1 1602.4,229.9 1603.2,229.7 1603.9,229.5 1604.7,229.4 1605.5,229.2 1606.2,229.0 1607.0,228.8 1607.8,228.7 1608.5,228.5 1609.3,228.3 1610.1,228.2 1610.8,228.0 1611.6,227.9 1612.4,227.7 1613.2,227.6 1613.9,227.4 1614.7,227.3 1615.5,227.1 1616.2,227.0 1617.0,226.9 1617.8,226.7 1618.5,226.6 1619.3,226.4 1620.1,226.3 1620.8,226.2 1621.6,226.1 1622.4,225.9 1623.1,225.8 1623.9,225.7 1624.7,225.6 1625.5,225.4 1626.2,225.3 1627.0,225.2 1627.8,225.1 1628.5,225.0 1629.3,224.9 1630.1,224.8 1630.8,224.7 1631.6,224.6 1632.4,224.5 1633.1,224.4 1633.9,224.3 1634.7,224.2 1635.4,224.1 1636.2,224.0 1637.0,223.9 1637.7,223.8 1638.5,223.7 1639.3,223.6 1640.1,223.5 1640.8,223.4 1641.6,223.4 1642.4,223.3 1643.1,223.2 1643.9,223.1 1644.7,223.0 1645.4,223.0 1646.2,222.9 1647.0,222.8 1647.7,222.7 1648.5,222.7 1649.3,222.6 1650.0,222.5 1650.8,222.4 1651.6,222.4 1652.4,222.3 1653.1,222.2 1653.9,222.2 1654.7,222.1 1655.4,222.1 1656.2,222.0 1657.0,221.9 1657.7,221.9 1658.5,221.8 1659.3,221.8 1660.0,221.7 1660.8,221.6 1661.6,221.6 1662.3,221.5 1663.1,221.5 1663.9,221.4 1664.6,221.4 1665.4,221.3 1666.2,221.3 1667.0,221.2 1667.7,221.2 1668.5,221.1 1669.3,221.1 1670.0,221.0 1670.8,221.0 1671.6,220.9 1672.3,220.9 1673.1,220.9 1673.9,220.8 1674.6,220.8 1675.4,220.7 1676.2,220.7 1676.9,220.6 1677.7,220.6 1678.5,220.5 1679.3,220.5 1680.0,220.4 1680.8,220.3 1681.6,220.2 1682.3,220.2 1683.1,220.1 1683.9,220.0 1684.6,219.9 1685.4,219.8 1686.2,219.8 1686.9,219.7 1687.7,219.6 1688.5,219.5 1689.2,219.5 1690.0,219.4 1690.8,219.3 1691.5,219.2 1692.3,219.1 1693.1,219.1 1693.9,219.0 1694.6,218.9 1695.4,218.8 1696.2,218.7 1696.9,218.6 1697.7,218.6 1698.5,218.5 1699.2,218.4 1700.0,218.3 1700.8,218.2 1701.5,218.1 1702.3,218.1 1703.1,218.0 1703.8,217.9 1704.6,217.8 1705.4,217.7 1706.2,217.6 1706.9,217.5 1707.7,217.4 1708.5,217.3 1709.2,217.3 1710.0,217.2 1710.8,217.1 1711.5,217.0 1712.3,216.9 1713.1,216.8 1713.8,216.7 1714.6,216.6 1715.4,216.5 1716.1,216.4 1716.9,216.3 1717.7,216.2 1718.4,216.1 1719.2,216.0 1720.0,215.9 1720.8,215.8 1721.5,215.7 1722.3,215.6 1723.1,215.5 1723.8,215.4 1724.6,215.3 1725.4,215.1 1726.1,215.0 1726.9,214.9 1727.7,214.8 1728.4,214.7 1729.2,214.6 1730.0,214.4 1730.7,214.3 1731.5,214.2 1732.3,214.1 1733.1,213.9 1733.8,213.8 1734.6,213.7 1735.4,213.5 1736.1,213.4 1736.9,213.3 1737.7,213.1 1738.4,213.0 1739.2,212.8 1740.0,212.7 1740.7,212.5 1741.5,212.4 1742.3,212.2 1743.0,212.1 1743.8,211.9 1744.6,211.7 1745.3,211.6 1746.1,211.4 1746.9,211.2 1747.7,211.0 1748.4,210.9 1749.2,210.7 1750.0,210.5 1750.7,210.3 1751.5,210.1 1752.3,209.9 1753.0,209.7 1753.8,209.5 1754.6,209.3 1755.3,209.0 1756.1,208.8 1756.9,208.6 1757.6,208.3 1758.4,208.1 1759.2,207.8 1759.9,207.6 1760.5,207.4 1761.2,207.2 1761.9,206.9 1762.5,206.7 1763.2,206.4 1763.9,206.2 1764.6,205.9 1765.2,205.7 1765.9,205.4 1766.6,205.1 1767.3,204.8 1767.9,204.6 1768.6,204.3 1769.3,204.0 1769.9,203.7 1770.6,203.3 1771.3,203.0 1772.0,202.7 1772.6,202.4 1773.3,202.0 1774.0,201.7 1774.6,201.3 1775.3,200.9 1776.0,200.6 1776.7,200.2 1777.3,199.8 1778.0,199.4 1778.7,199.0 1779.4,198.5 1780.0,198.1 1780.7,197.7 1781.4,197.2 1782.0,196.7 1782.7,196.3 1783.3,195.8 1783.9,195.4 1784.4,195.0 1785.0,194.5 1785.6,194.1 1786.2,193.6 1786.8,193.1 1787.3,192.6 1787.9,192.2 1788.5,191.6 1789.1,191.1 1789.6,190.6 1790.2,190.1 1790.8,189.5 1791.4,188.9 1791.9,188.4 1792.5,187.8 1793.1,187.2 1793.7,186.6 1794.2,186.1 1794.6,185.5 1795.1,185.0 1795.6,184.4 1796.1,183.9 1796.6,183.3 1797.0,182.7 1797.5,182.1 1798.0,181.5 1798.5,180.9 1799.0,180.3 1799.4,179.7 1799.9,179.0 1800.4,178.4 1800.9,177.7 1801.4,177.0 1801.8,176.3 1802.3,175.6 1802.8,174.9 1803.3,174.2 1803.7,173.6 1804.0,173.0 1804.4,172.3 1804.8,171.7 1805.2,171.1 1805.6,170.5 1806.0,169.8 1806.4,169.1 1806.7,168.5 1807.1,167.8 1807.5,167.1 1807.9,166.4 1808.3,165.7 1808.7,165.0 1809.0,164.2 1809.4,163.5 1809.8,162.8 1810.2,162.0 1810.6,161.2 1811.0,160.4 1811.3,159.6 1811.7,158.8 1812.1,158.0 1812.5,157.2 1812.9,156.3 1813.3,155.5 1813.6,154.8 1813.8,154.1 1814.1,153.5 1814.4,152.8 1814.7,152.1 1815.0,151.4 1815.3,150.7 1815.6,150.0 1815.9,149.3 1816.2,148.6 1816.4,147.9 1816.7,147.1 1817.0,146.4 1817.3,145.6 1817.6,144.9 1817.9,144.1 1818.2,143.3 1818.5,142.6 1818.7,141.8 1819.0,141.0 1819.3,140.1 1819.6,139.3 1819.9,138.5 1820.2,137.7 1820.5,136.8 1820.8,135.9 1821.0,135.1 1821.3,134.2 1821.6,133.3 1821.9,132.4 1822.2,131.5 1822.5,130.6 1822.8,129.7 1823.1,128.7 1823.4,127.8 1823.6,126.8 1823.9,125.9 1824.2,124.9 1824.5,123.9 1824.8,122.9 1825.1,121.9 1825.3,121.2 1825.5,120.5 1825.7,119.8 1825.9,119.1 1826.0,118.4 1826.2,117.7 1826.4,117.0 1826.6,116.3 1826.8,115.6 1827.0,114.8 1827.2,114.1 1827.4,113.4 1827.6,112.6 1827.8,111.9 1828.0,111.1 1828.2,110.4 1828.4,109.6 1828.5,108.8 1828.7,108.0 1828.9,107.3 1829.1,106.5 1829.3,105.7 1829.5,104.9 1829.7,104.1 1829.9,103.3 1830.1,102.4 1830.3,101.6 1830.5,100.8 1830.7,99.9 1830.8,99.1 1831.0,98.2 1831.2,97.4 1831.4,96.5 1831.6,95.7 1831.8,94.8 1832.0,93.9 1832.2,93.0 1832.4,92.1 1832.6,91.2 1832.8,90.3 1833.0,89.4 1833.2,88.5 1833.3,87.6 1833.5,86.6 1833.7,85.7 1833.9,84.7 1834.1,83.8 1834.3,82.8 1834.5,81.9 1834.7,80.9 1834.9,79.9 1835.1,78.9 1835.3,77.9 1835.5,76.9 1835.7,75.9 1835.8,74.9 1836.0,73.8 1836.2,72.8 1836.4,71.8 1836.6,70.7 1836.8,69.7 1837.0,68.6 1837.2,67.5 1837.4,66.4 1837.6,65.4 1837.8,64.3 1838.0,63.1 1838.2,62.0 1838.3,60.9 1838.5,59.8 1838.7,58.6 1838.9,57.5 1839.1,56.3 1839.3,55.2 1839.5,54.0 1839.7,52.8 1839.9,51.6 1840.1,50.4 1840.3,49.2 1840.5,48.0 1840.6,46.8 1840.8,45.6 1841.0,44.3 1841.2,43.1 1841.4,41.8 1841.6,40.5 1841.8,39.3 1842.0,38.0 1842.2,36.7 1842.4,35.4 1842.6,34.0 1842.8,32.7 1843.0,31.4 1843.1,30.0 1843.3,28.7 1843.5,27.3 1843.7,25.9 1843.9,24.5 1844.1,23.2 1844.2,22.4 1844.3,21.7 1844.4,21.0 1844.5,20.3 1844.6,19.6 1844.7,18.9 1844.8,18.2 1844.9,17.5 1845.0,16.7 1845.1,16.0 1845.2,15.3 1845.3,14.6 1845.4,13.8 1845.5,13.1 1845.5,12.3 1845.6,11.6 1845.7,10.9 1845.8,10.1 1845.9,9.4 1846.0,8.6 1846.1,7.9 1846.2,7.1 1846.3,6.3 1846.4,5.6 1846.5,4.8 1846.6,4.0 1846.7,3.3 1846.8,2.5 1846.9,1.7 1847.0,0.9 1847.1,0.1 1847.2,-0.6 1847.3,-1.4 1847.4,-2.2 1847.5,-3.0 1847.6,-3.8 1847.7,-4.6 1847.7,-4.6" fill="none" stroke="#17803f" stroke-width="3.2" stroke-linejoin="round"/><polyline points="1526.0,445.4 1526.2,444.3 1526.4,443.3 1526.6,442.2 1526.8,441.2 1527.0,440.1 1527.2,439.1 1527.4,438.0 1527.6,437.0 1527.7,436.0 1527.9,434.9 1528.1,433.9 1528.3,432.9 1528.5,431.9 1528.7,430.9 1528.9,429.9 1529.1,428.9 1529.3,427.9 1529.5,427.0 1529.7,426.0 1529.9,425.0 1530.1,424.1 1530.2,423.1 1530.4,422.1 1530.6,421.2 1530.8,420.3 1531.0,419.3 1531.2,418.4 1531.4,417.5 1531.6,416.5 1531.8,415.6 1532.0,414.7 1532.2,413.8 1532.4,412.9 1532.6,412.0 1532.7,411.1 1532.9,410.2 1533.1,409.3 1533.3,408.4 1533.5,407.6 1533.7,406.7 1533.9,405.8 1534.1,405.0 1534.3,404.1 1534.5,403.3 1534.7,402.4 1534.9,401.6 1535.1,400.7 1535.2,399.9 1535.4,399.1 1535.6,398.3 1535.8,397.4 1536.0,396.6 1536.2,395.8 1536.4,395.0 1536.6,394.2 1536.8,393.4 1537.0,392.6 1537.2,391.8 1537.4,391.0 1537.5,390.2 1537.7,389.5 1537.9,388.7 1538.1,387.9 1538.3,387.2 1538.5,386.4 1538.7,385.6 1538.9,384.9 1539.1,384.1 1539.3,383.4 1539.5,382.7 1539.7,381.9 1539.9,381.2 1540.0,380.5 1540.2,379.7 1540.4,379.0 1540.6,378.3 1540.8,377.6 1541.0,376.9 1541.2,376.1 1541.4,375.4 1541.6,374.7 1541.8,374.0 1542.0,373.4 1542.2,372.7 1542.4,372.0 1542.5,371.3 1542.8,370.3 1543.1,369.3 1543.4,368.3 1543.7,367.3 1544.0,366.3 1544.3,365.3 1544.6,364.3 1544.8,363.4 1545.1,362.4 1545.4,361.5 1545.7,360.5 1546.0,359.6 1546.3,358.7 1546.6,357.8 1546.9,356.8 1547.2,355.9 1547.4,355.0 1547.7,354.1 1548.0,353.3 1548.3,352.4 1548.6,351.5 1548.9,350.6 1549.2,349.8 1549.5,348.9 1549.7,348.1 1550.0,347.3 1550.3,346.4 1550.6,345.6 1550.9,344.8 1551.2,344.0 1551.5,343.2 1551.8,342.3 1552.1,341.6 1552.3,340.8 1552.6,340.0 1552.9,339.2 1553.2,338.4 1553.5,337.7 1553.8,336.9 1554.1,336.1 1554.4,335.4 1554.6,334.7 1554.9,333.9 1555.2,333.2 1555.5,332.5 1555.8,331.7 1556.1,331.0 1556.4,330.3 1556.7,329.6 1557.0,328.9 1557.2,328.2 1557.5,327.5 1557.8,326.8 1558.1,326.1 1558.4,325.5 1558.7,324.8 1559.0,324.1 1559.3,323.5 1559.5,322.8 1559.8,322.2 1560.1,321.5 1560.5,320.7 1560.9,319.8 1561.3,319.0 1561.7,318.1 1562.0,317.3 1562.4,316.5 1562.8,315.7 1563.2,314.9 1563.6,314.1 1564.0,313.3 1564.4,312.5 1564.7,311.8 1565.1,311.0 1565.5,310.2 1565.9,309.5 1566.3,308.8 1566.7,308.0 1567.0,307.3 1567.4,306.6 1567.8,305.9 1568.2,305.2 1568.6,304.5 1569.0,303.8 1569.3,303.1 1569.7,302.4 1570.1,301.7 1570.5,301.0 1570.9,300.4 1571.3,299.7 1571.7,299.1 1572.0,298.4 1572.4,297.8 1572.8,297.1 1573.2,296.5 1573.6,295.9 1574.0,295.3 1574.3,294.7 1574.7,294.1 1575.1,293.5 1575.5,292.9 1576.0,292.1 1576.5,291.4 1576.9,290.7 1577.4,290.0 1577.9,289.3 1578.4,288.6 1578.9,287.9 1579.3,287.2 1579.8,286.5 1580.3,285.8 1580.8,285.2 1581.3,284.5 1581.7,283.9 1582.2,283.2 1582.7,282.6 1583.2,282.0 1583.7,281.4 1584.1,280.7 1584.6,280.1 1585.1,279.5 1585.6,278.9 1586.1,278.4 1586.5,277.8 1587.0,277.2 1587.5,276.6 1588.0,276.1 1588.5,275.5 1588.9,274.9 1589.4,274.4 1589.9,273.9 1590.4,273.3 1590.9,272.8 1591.3,272.3 1591.8,271.7 1592.4,271.1 1593.0,270.5 1593.6,269.9 1594.1,269.3 1594.7,268.7 1595.3,268.1 1595.9,267.5 1596.4,267.0 1597.0,266.4 1597.6,265.9 1598.2,265.3 1598.7,264.8 1599.3,264.2 1599.9,263.7 1600.5,263.2 1601.1,262.6 1601.6,262.1 1602.2,261.6 1602.8,261.1 1603.4,260.6 1603.9,260.1 1604.5,259.6 1605.1,259.1 1605.7,258.7 1606.2,258.2 1606.8,257.7 1607.4,257.2 1608.0,256.8 1608.5,256.3 1609.1,255.9 1609.7,255.4 1610.3,255.0 1610.8,254.5 1611.4,254.1 1612.0,253.7 1612.6,253.3 1613.2,252.8 1613.7,252.4 1614.3,252.0 1615.0,251.5 1615.7,251.1 1616.3,250.6 1617.0,250.1 1617.7,249.7 1618.3,249.2 1619.0,248.8 1619.7,248.3 1620.4,247.9 1621.0,247.5 1621.7,247.0 1622.4,246.6 1623.1,246.2 1623.7,245.8 1624.4,245.4 1625.1,245.0 1625.7,244.5 1626.4,244.1 1627.1,243.7 1627.8,243.4 1628.4,243.0 1629.1,242.6 1629.8,242.2 1630.4,241.8 1631.1,241.4 1631.8,241.1 1632.5,240.7 1633.1,240.3 1633.8,240.0 1634.5,239.6 1635.2,239.3 1635.8,238.9 1636.5,238.6 1637.2,238.2 1637.8,237.9 1638.5,237.5 1639.2,237.2 1639.9,236.8 1640.5,236.5 1641.2,236.2 1641.9,235.9 1642.6,235.5 1643.2,235.2 1643.9,234.9 1644.6,234.6 1645.2,234.3 1645.9,233.9 1646.6,233.6 1647.3,233.3 1647.9,233.0 1648.6,232.7 1649.3,232.4 1649.9,232.1 1650.6,231.8 1651.3,231.5 1652.0,231.2 1652.6,230.9 1653.3,230.6 1654.0,230.3 1654.7,230.1 1655.3,229.8 1656.0,229.5 1656.7,229.2 1657.3,228.9 1658.0,228.6 1658.7,228.4 1659.4,228.1 1660.0,227.8 1660.7,227.6 1661.4,227.3 1662.1,227.0 1662.7,226.8 1663.4,226.5 1664.1,226.2 1664.7,226.0 1665.4,225.7 1666.1,225.4 1666.8,225.2 1667.4,224.9 1668.1,224.7 1668.8,224.4 1669.5,224.2 1670.1,223.9 1670.8,223.7 1671.5,223.4 1672.1,223.2 1672.8,223.0 1673.5,222.7 1674.2,222.5 1674.8,222.2 1675.5,222.0 1676.2,221.8 1676.8,221.5 1677.5,221.3 1678.2,221.1 1678.9,220.9 1679.5,220.7 1680.3,220.4 1681.1,220.2 1681.8,219.9 1682.6,219.7 1683.4,219.5 1684.2,219.2 1684.9,219.0 1685.7,218.7 1686.5,218.5 1687.2,218.3 1688.0,218.0 1688.8,217.8 1689.5,217.5 1690.3,217.3 1691.1,217.0 1691.8,216.8 1692.6,216.5 1693.3,216.3 1693.9,216.1 1694.6,215.9 1695.3,215.7 1696.0,215.4 1696.6,215.2 1697.3,215.0 1698.0,214.8 1698.7,214.5 1699.3,214.3 1700.0,214.1 1700.7,213.8 1701.3,213.6 1702.0,213.4 1702.7,213.1 1703.4,212.9 1704.0,212.7 1704.7,212.4 1705.4,212.2 1706.1,211.9 1706.7,211.7 1707.4,211.5 1708.1,211.2 1708.7,211.0 1709.4,210.7 1710.1,210.5 1710.8,210.2 1711.4,210.0 1712.1,209.7 1712.8,209.4 1713.5,209.2 1714.1,208.9 1714.8,208.6 1715.5,208.4 1716.1,208.1 1716.8,207.8 1717.5,207.6 1718.2,207.3 1718.8,207.0 1719.5,206.7 1720.2,206.4 1720.8,206.1 1721.5,205.8 1722.2,205.6 1722.9,205.3 1723.5,204.9 1724.2,204.6 1724.9,204.3 1725.6,204.0 1726.2,203.7 1726.9,203.4 1727.6,203.1 1728.2,202.7 1728.9,202.4 1729.6,202.1 1730.3,201.7 1730.9,201.4 1731.6,201.0 1732.3,200.7 1733.0,200.3 1733.6,199.9 1734.3,199.6 1735.0,199.2 1735.6,198.8 1736.3,198.4 1737.0,198.0 1737.7,197.6 1738.3,197.2 1739.0,196.8 1739.7,196.4 1740.4,195.9 1741.0,195.5 1741.7,195.0 1742.4,194.6 1743.0,194.1 1743.7,193.7 1744.4,193.2 1745.0,192.8 1745.5,192.3 1746.1,191.9 1746.7,191.5 1747.3,191.0 1747.8,190.6 1748.4,190.1 1749.0,189.7 1749.6,189.2 1750.2,188.7 1750.7,188.2 1751.3,187.7 1751.9,187.2 1752.5,186.7 1753.0,186.1 1753.6,185.6 1754.2,185.1 1754.8,184.5 1755.3,183.9 1755.9,183.3 1756.5,182.8 1757.1,182.2 1757.6,181.5 1758.1,181.0 1758.6,180.5 1759.1,179.9 1759.6,179.4 1760.0,178.8 1760.5,178.3 1761.0,177.7 1761.5,177.1 1762.0,176.5 1762.4,175.9 1762.9,175.3 1763.4,174.7 1763.9,174.0 1764.4,173.4 1764.8,172.7 1765.3,172.1 1765.8,171.4 1766.3,170.7 1766.8,170.0 1767.3,169.3 1767.7,168.5 1768.1,167.9 1768.5,167.3 1768.9,166.7 1769.3,166.1 1769.7,165.5 1770.0,164.8 1770.4,164.2 1770.8,163.5 1771.2,162.9 1771.6,162.2 1772.0,161.5 1772.3,160.8 1772.7,160.1 1773.1,159.4 1773.5,158.6 1773.9,157.9 1774.3,157.2 1774.6,156.4 1775.0,155.6 1775.4,154.8 1775.8,154.0 1776.2,153.2 1776.6,152.4 1777.0,151.6 1777.3,150.7 1777.7,149.9 1778.0,149.2 1778.3,148.5 1778.6,147.9 1778.9,147.2 1779.2,146.5 1779.5,145.8 1779.7,145.1 1780.0,144.4 1780.3,143.7 1780.6,143.0 1780.9,142.2 1781.2,141.5 1781.5,140.7 1781.8,140.0 1782.0,139.2 1782.3,138.4 1782.6,137.6 1782.9,136.8 1783.2,136.0 1783.5,135.2 1783.8,134.4 1784.1,133.5 1784.4,132.7 1784.6,131.8 1784.9,131.0 1785.2,130.1 1785.5,129.2 1785.8,128.3 1786.1,127.4 1786.4,126.5 1786.7,125.5 1786.9,124.6 1787.2,123.6 1787.5,122.7 1787.8,121.7 1788.1,120.7 1788.4,119.7 1788.7,118.7 1788.9,118.0 1789.1,117.3 1789.3,116.6 1789.4,115.9 1789.6,115.2 1789.8,114.5 1790.0,113.8 1790.2,113.1 1790.4,112.3 1790.6,111.6 1790.8,110.9 1791.0,110.1 1791.2,109.4 1791.4,108.6 1791.6,107.9 1791.7,107.1 1791.9,106.3 1792.1,105.5 1792.3,104.7 1792.5,103.9 1792.7,103.1 1792.9,102.3 1793.1,101.5 1793.3,100.7 1793.5,99.9 1793.7,99.0 1793.9,98.2 1794.1,97.3 1794.2,96.5 1794.4,95.6 1794.6,94.7 1794.8,93.8 1795.0,93.0 1795.2,92.1 1795.4,91.2 1795.6,90.3 1795.8,89.3 1796.0,88.4 1796.2,87.5 1796.4,86.6 1796.6,85.6 1796.7,84.7 1796.9,83.7 1797.1,82.7 1797.3,81.7 1797.5,80.8 1797.7,79.8 1797.9,78.8 1798.1,77.7 1798.3,76.7 1798.5,75.7 1798.7,74.7 1798.9,73.6 1799.0,72.6 1799.2,71.5 1799.4,70.4 1799.6,69.3 1799.8,68.3 1800.0,67.2 1800.2,66.0 1800.4,64.9 1800.6,63.8 1800.8,62.7 1801.0,61.5 1801.2,60.4 1801.4,59.2 1801.5,58.0 1801.7,56.8 1801.9,55.6 1802.1,54.4 1802.3,53.2 1802.5,52.0 1802.7,50.8 1802.9,49.5 1803.1,48.3 1803.3,47.0 1803.5,45.7 1803.7,44.4 1803.9,43.1 1804.0,41.8 1804.2,40.5 1804.4,39.2 1804.6,37.8 1804.8,36.5 1805.0,35.1 1805.2,33.7 1805.4,32.3 1805.6,30.9 1805.7,30.2 1805.8,29.5 1805.9,28.8 1806.0,28.1 1806.1,27.4 1806.2,26.6 1806.3,25.9 1806.4,25.2 1806.4,24.5 1806.5,23.7 1806.6,23.0 1806.7,22.2 1806.8,21.5 1806.9,20.8 1807.0,20.0 1807.1,19.3 1807.2,18.5 1807.3,17.7 1807.4,17.0 1807.5,16.2 1807.6,15.4 1807.7,14.7 1807.8,13.9 1807.9,13.1 1808.0,12.3 1808.1,11.6 1808.2,10.8 1808.3,10.0 1808.4,9.2 1808.5,8.4 1808.6,7.6 1808.7,6.8 1808.8,6.0 1808.8,5.2 1808.9,4.3 1809.0,3.5 1809.1,2.7 1809.2,1.9 1809.3,1.1 1809.4,0.2 1809.5,-0.6 1809.6,-1.5 1809.7,-2.3 1809.8,-3.1 1809.9,-4.0 1810.0,-4.8 1810.0,-4.8" fill="none" stroke="#ad58ae" stroke-width="3.2" stroke-linejoin="round"/><polyline points="1567.0,445.5 1567.3,444.5 1567.6,443.5 1567.9,442.5 1568.2,441.5 1568.5,440.5 1568.8,439.5 1569.1,438.5 1569.3,437.6 1569.6,436.6 1569.9,435.6 1570.2,434.7 1570.5,433.7 1570.8,432.7 1571.1,431.8 1571.4,430.8 1571.7,429.9 1571.9,428.9 1572.2,428.0 1572.5,427.1 1572.8,426.1 1573.1,425.2 1573.4,424.3 1573.7,423.3 1574.0,422.4 1574.2,421.5 1574.5,420.6 1574.8,419.7 1575.1,418.7 1575.4,417.8 1575.7,416.9 1576.0,416.0 1576.3,415.1 1576.6,414.2 1576.8,413.4 1577.1,412.5 1577.4,411.6 1577.7,410.7 1578.0,409.8 1578.3,408.9 1578.6,408.1 1578.9,407.2 1579.1,406.3 1579.4,405.5 1579.7,404.6 1580.0,403.7 1580.3,402.9 1580.6,402.0 1580.9,401.2 1581.2,400.3 1581.5,399.5 1581.7,398.6 1582.0,397.8 1582.3,397.0 1582.6,396.1 1582.9,395.3 1583.2,394.5 1583.5,393.6 1583.8,392.8 1584.0,392.0 1584.3,391.2 1584.6,390.4 1584.9,389.6 1585.2,388.7 1585.5,387.9 1585.8,387.1 1586.1,386.3 1586.4,385.5 1586.6,384.7 1586.9,383.9 1587.2,383.2 1587.5,382.4 1587.8,381.6 1588.1,380.8 1588.4,380.0 1588.7,379.2 1588.9,378.5 1589.2,377.7 1589.5,376.9 1589.8,376.2 1590.1,375.4 1590.4,374.6 1590.7,373.9 1591.0,373.1 1591.3,372.3 1591.5,371.6 1591.8,370.8 1592.1,370.1 1592.4,369.3 1592.7,368.6 1593.0,367.9 1593.3,367.1 1593.6,366.4 1593.8,365.7 1594.1,364.9 1594.4,364.2 1594.7,363.5 1595.0,362.7 1595.3,362.0 1595.6,361.3 1595.9,360.6 1596.2,359.9 1596.4,359.1 1596.7,358.4 1597.0,357.7 1597.3,357.0 1597.6,356.3 1597.9,355.6 1598.2,354.9 1598.5,354.2 1598.7,353.5 1599.0,352.8 1599.3,352.1 1599.6,351.4 1599.9,350.7 1600.2,350.1 1600.5,349.4 1600.8,348.7 1601.1,348.0 1601.3,347.3 1601.6,346.7 1601.9,346.0 1602.2,345.3 1602.5,344.7 1602.8,344.0 1603.1,343.3 1603.4,342.7 1603.6,342.0 1603.9,341.3 1604.2,340.7 1604.5,340.0 1604.8,339.4 1605.1,338.7 1605.4,338.1 1605.7,337.4 1606.0,336.6 1606.4,335.7 1606.8,334.9 1607.2,334.0 1607.6,333.2 1608.0,332.3 1608.4,331.5 1608.7,330.6 1609.1,329.8 1609.5,329.0 1609.9,328.2 1610.3,327.3 1610.7,326.5 1611.0,325.7 1611.4,324.9 1611.8,324.1 1612.2,323.3 1612.6,322.5 1613.0,321.7 1613.3,320.9 1613.7,320.1 1614.1,319.3 1614.5,318.5 1614.9,317.7 1615.3,316.9 1615.7,316.2 1616.0,315.4 1616.4,314.6 1616.8,313.8 1617.2,313.1 1617.6,312.3 1618.0,311.5 1618.3,310.8 1618.7,310.0 1619.1,309.3 1619.5,308.5 1619.9,307.8 1620.3,307.0 1620.6,306.3 1621.0,305.6 1621.4,304.8 1621.8,304.1 1622.2,303.4 1622.6,302.6 1623.0,301.9 1623.3,301.2 1623.7,300.5 1624.1,299.8 1624.5,299.0 1624.9,298.3 1625.3,297.6 1625.6,296.9 1626.0,296.2 1626.4,295.5 1626.8,294.8 1627.2,294.1 1627.6,293.4 1627.9,292.8 1628.3,292.1 1628.7,291.4 1629.1,290.7 1629.5,290.0 1629.9,289.3 1630.3,288.7 1630.6,288.0 1631.0,287.3 1631.4,286.7 1631.8,286.0 1632.2,285.3 1632.6,284.7 1632.9,284.0 1633.3,283.4 1633.7,282.7 1634.1,282.1 1634.5,281.4 1634.9,280.8 1635.3,280.1 1635.6,279.5 1636.0,278.9 1636.4,278.2 1636.8,277.6 1637.2,277.0 1637.6,276.3 1637.9,275.7 1638.3,275.1 1638.7,274.5 1639.1,273.8 1639.5,273.2 1639.9,272.6 1640.2,272.0 1640.6,271.4 1641.0,270.8 1641.4,270.2 1641.8,269.6 1642.2,269.0 1642.6,268.4 1642.9,267.8 1643.3,267.2 1643.8,266.4 1644.3,265.7 1644.8,265.0 1645.2,264.2 1645.7,263.5 1646.2,262.8 1646.7,262.1 1647.2,261.4 1647.6,260.6 1648.1,259.9 1648.6,259.2 1649.1,258.5 1649.6,257.8 1650.0,257.1 1650.5,256.4 1651.0,255.8 1651.5,255.1 1652.0,254.4 1652.4,253.7 1652.9,253.0 1653.4,252.4 1653.9,251.7 1654.4,251.0 1654.8,250.4 1655.3,249.7 1655.8,249.0 1656.3,248.4 1656.8,247.7 1657.3,247.1 1657.7,246.4 1658.2,245.8 1658.7,245.2 1659.2,244.5 1659.7,243.9 1660.1,243.3 1660.6,242.6 1661.1,242.0 1661.6,241.4 1662.1,240.8 1662.5,240.2 1663.0,239.6 1663.5,239.0 1664.0,238.4 1664.5,237.8 1664.9,237.2 1665.4,236.6 1665.9,236.0 1666.4,235.4 1666.9,234.8 1667.3,234.3 1667.8,233.7 1668.3,233.1 1668.8,232.6 1669.3,232.0 1669.7,231.4 1670.2,230.9 1670.7,230.3 1671.2,229.8 1671.7,229.3 1672.1,228.7 1672.6,228.2 1673.1,227.7 1673.6,227.1 1674.2,226.5 1674.7,225.9 1675.3,225.3 1675.9,224.7 1676.5,224.1 1677.0,223.5 1677.6,223.0 1678.2,222.4 1678.8,221.9 1679.3,221.3 1679.9,220.8 1680.5,220.3 1681.1,219.8 1681.7,219.3 1682.2,218.7 1682.8,218.2 1683.4,217.7 1684.0,217.1 1684.5,216.6 1685.1,216.0 1685.7,215.5 1686.3,215.0 1686.8,214.4 1687.4,213.9 1688.0,213.3 1688.6,212.8 1689.1,212.3 1689.7,211.7 1690.3,211.2 1690.9,210.6 1691.5,210.1 1692.0,209.5 1692.6,209.0 1693.2,208.4 1693.8,207.9 1694.3,207.3 1694.9,206.8 1695.5,206.2 1696.1,205.7 1696.6,205.1 1697.2,204.6 1697.8,204.0 1698.4,203.4 1698.9,202.9 1699.5,202.3 1700.1,201.8 1700.7,201.2 1701.3,200.6 1701.8,200.1 1702.4,199.5 1703.0,199.0 1703.6,198.4 1704.1,197.8 1704.7,197.3 1705.3,196.7 1705.9,196.1 1706.4,195.6 1707.0,195.0 1707.6,194.4 1708.2,193.8 1708.7,193.3 1709.3,192.7 1709.9,192.1 1710.5,191.5 1711.1,190.9 1711.6,190.4 1712.2,189.8 1712.8,189.2 1713.4,188.6 1713.9,188.0 1714.5,187.4 1715.1,186.8 1715.7,186.2 1716.2,185.6 1716.8,185.0 1717.4,184.4 1718.0,183.8 1718.5,183.2 1719.1,182.6 1719.7,182.0 1720.3,181.4 1720.8,180.8 1721.4,180.2 1722.0,179.6 1722.6,178.9 1723.2,178.3 1723.6,177.8 1724.1,177.3 1724.6,176.8 1725.1,176.2 1725.6,175.7 1726.0,175.2 1726.5,174.7 1727.0,174.1 1727.5,173.6 1728.0,173.1 1728.4,172.5 1728.9,172.0 1729.4,171.4 1729.9,170.9 1730.4,170.3 1730.8,169.8 1731.3,169.2 1731.8,168.7 1732.3,168.1 1732.8,167.6 1733.2,167.0 1733.7,166.5 1734.2,165.9 1734.7,165.3 1735.2,164.8 1735.6,164.2 1736.1,163.6 1736.6,163.0 1737.1,162.5 1737.6,161.9 1738.0,161.3 1738.5,160.7 1739.0,160.1 1739.5,159.5 1740.0,158.9 1740.4,158.3 1740.9,157.7 1741.4,157.1 1741.9,156.5 1742.4,155.9 1742.8,155.3 1743.3,154.6 1743.8,154.0 1744.3,153.4 1744.8,152.8 1745.3,152.1 1745.7,151.5 1746.2,150.8 1746.7,150.2 1747.2,149.5 1747.7,148.9 1748.1,148.2 1748.6,147.6 1749.1,146.9 1749.6,146.2 1750.1,145.5 1750.5,144.9 1751.0,144.2 1751.5,143.5 1752.0,142.8 1752.5,142.1 1752.9,141.4 1753.4,140.7 1753.9,139.9 1754.4,139.2 1754.9,138.5 1755.3,137.8 1755.8,137.0 1756.2,136.4 1756.6,135.8 1757.0,135.2 1757.4,134.6 1757.7,134.0 1758.1,133.4 1758.5,132.8 1758.9,132.1 1759.3,131.5 1759.7,130.9 1760.0,130.2 1760.4,129.6 1760.8,128.9 1761.2,128.3 1761.6,127.6 1762.0,127.0 1762.4,126.3 1762.7,125.6 1763.1,125.0 1763.5,124.3 1763.9,123.6 1764.3,122.9 1764.7,122.2 1765.0,121.5 1765.4,120.8 1765.8,120.1 1766.2,119.4 1766.6,118.7 1767.0,117.9 1767.3,117.2 1767.7,116.4 1768.1,115.7 1768.5,114.9 1768.9,114.2 1769.3,113.4 1769.7,112.7 1770.0,111.9 1770.4,111.1 1770.8,110.3 1771.2,109.5 1771.6,108.7 1772.0,107.9 1772.3,107.1 1772.7,106.2 1773.1,105.4 1773.5,104.6 1773.9,103.7 1774.3,102.9 1774.6,102.2 1774.8,101.6 1775.1,100.9 1775.4,100.2 1775.7,99.6 1776.0,98.9 1776.3,98.2 1776.6,97.6 1776.9,96.9 1777.1,96.2 1777.4,95.5 1777.7,94.8 1778.0,94.1 1778.3,93.4 1778.6,92.7 1778.9,91.9 1779.2,91.2 1779.5,90.5 1779.7,89.8 1780.0,89.0 1780.3,88.3 1780.6,87.5 1780.9,86.8 1781.2,86.0 1781.5,85.2 1781.8,84.4 1782.0,83.7 1782.3,82.9 1782.6,82.1 1782.9,81.3 1783.2,80.5 1783.5,79.7 1783.8,78.9 1784.1,78.0 1784.4,77.2 1784.6,76.4 1784.9,75.5 1785.2,74.7 1785.5,73.8 1785.8,73.0 1786.1,72.1 1786.4,71.2 1786.7,70.3 1786.9,69.4 1787.2,68.5 1787.5,67.6 1787.8,66.7 1788.1,65.8 1788.4,64.9 1788.7,63.9 1789.0,63.0 1789.3,62.0 1789.5,61.1 1789.8,60.1 1790.1,59.1 1790.4,58.1 1790.7,57.1 1791.0,56.1 1791.3,55.1 1791.6,54.1 1791.7,53.4 1791.9,52.7 1792.1,52.1 1792.3,51.4 1792.5,50.7 1792.7,50.0 1792.9,49.2 1793.1,48.5 1793.3,47.8 1793.5,47.1 1793.7,46.4 1793.9,45.6 1794.1,44.9 1794.2,44.2 1794.4,43.4 1794.6,42.7 1794.8,41.9 1795.0,41.2 1795.2,40.4 1795.4,39.7 1795.6,38.9 1795.8,38.1 1796.0,37.4 1796.2,36.6 1796.4,35.8 1796.6,35.0 1796.7,34.2 1796.9,33.4 1797.1,32.6 1797.3,31.8 1797.5,31.0 1797.7,30.2 1797.9,29.3 1798.1,28.5 1798.3,27.7 1798.5,26.8 1798.7,26.0 1798.9,25.1 1799.0,24.3 1799.2,23.4 1799.4,22.6 1799.6,21.7 1799.8,20.8 1800.0,19.9 1800.2,19.0 1800.4,18.1 1800.6,17.3 1800.8,16.3 1801.0,15.4 1801.2,14.5 1801.4,13.6 1801.5,12.7 1801.7,11.8 1801.9,10.8 1802.1,9.9 1802.3,8.9 1802.5,8.0 1802.7,7.0 1802.9,6.0 1803.1,5.1 1803.3,4.1 1803.5,3.1 1803.7,2.1 1803.9,1.1 1804.0,0.1 1804.2,-0.9 1804.4,-1.9 1804.6,-2.9 1804.8,-4.0 1805.0,-5.0 1805.0,-5.0" fill="none" stroke="#1f4ba5" stroke-width="3.2" stroke-linejoin="round"/><polyline points="1604.7,445.5 1604.9,444.2 1605.1,442.9 1605.3,441.7 1605.5,440.4 1605.7,439.2 1605.9,437.9 1606.0,436.7 1606.2,435.5 1606.4,434.3 1606.6,433.1 1606.8,432.0 1607.0,430.8 1607.2,429.6 1607.4,428.5 1607.6,427.4 1607.8,426.2 1608.0,425.1 1608.2,424.0 1608.4,422.9 1608.5,421.8 1608.7,420.8 1608.9,419.7 1609.1,418.6 1609.3,417.6 1609.5,416.6 1609.7,415.5 1609.9,414.5 1610.1,413.5 1610.3,412.5 1610.5,411.5 1610.7,410.5 1610.8,409.5 1611.0,408.5 1611.2,407.6 1611.4,406.6 1611.6,405.7 1611.8,404.7 1612.0,403.8 1612.2,402.8 1612.4,401.9 1612.6,401.0 1612.8,400.1 1613.0,399.2 1613.2,398.3 1613.3,397.4 1613.5,396.5 1613.7,395.7 1613.9,394.8 1614.1,393.9 1614.3,393.1 1614.5,392.2 1614.7,391.4 1614.9,390.5 1615.1,389.7 1615.3,388.9 1615.5,388.1 1615.7,387.3 1615.8,386.4 1616.0,385.6 1616.2,384.8 1616.4,384.1 1616.6,383.3 1616.8,382.5 1617.0,381.7 1617.2,380.9 1617.4,380.2 1617.6,379.4 1617.8,378.6 1618.0,377.9 1618.2,377.1 1618.3,376.4 1618.5,375.7 1618.7,374.9 1618.9,374.2 1619.1,373.5 1619.3,372.8 1619.5,372.0 1619.7,371.3 1619.9,370.6 1620.1,369.9 1620.3,369.2 1620.5,368.5 1620.6,367.8 1620.8,367.1 1621.0,366.5 1621.2,365.8 1621.5,364.8 1621.8,363.7 1622.1,362.8 1622.4,361.8 1622.7,360.8 1623.0,359.8 1623.2,358.8 1623.5,357.9 1623.8,356.9 1624.1,356.0 1624.4,355.0 1624.7,354.1 1625.0,353.2 1625.3,352.3 1625.5,351.3 1625.8,350.4 1626.1,349.5 1626.4,348.6 1626.7,347.7 1627.0,346.9 1627.3,346.0 1627.6,345.1 1627.9,344.2 1628.1,343.4 1628.4,342.5 1628.7,341.7 1629.0,340.8 1629.3,340.0 1629.6,339.1 1629.9,338.3 1630.2,337.5 1630.4,336.6 1630.7,335.8 1631.0,335.0 1631.3,334.2 1631.6,333.4 1631.9,332.6 1632.2,331.8 1632.5,331.0 1632.8,330.2 1633.0,329.4 1633.3,328.6 1633.6,327.8 1633.9,327.1 1634.2,326.3 1634.5,325.5 1634.8,324.7 1635.1,324.0 1635.3,323.2 1635.6,322.5 1635.9,321.7 1636.2,320.9 1636.5,320.2 1636.8,319.4 1637.1,318.7 1637.4,318.0 1637.7,317.2 1637.9,316.5 1638.2,315.7 1638.5,315.0 1638.8,314.3 1639.1,313.6 1639.4,312.8 1639.7,312.1 1640.0,311.4 1640.2,310.7 1640.5,310.0 1640.8,309.2 1641.1,308.5 1641.4,307.8 1641.7,307.1 1642.0,306.4 1642.3,305.7 1642.6,305.0 1642.8,304.3 1643.1,303.6 1643.4,302.9 1643.7,302.2 1644.0,301.5 1644.3,300.8 1644.6,300.1 1644.9,299.4 1645.1,298.7 1645.4,298.1 1645.7,297.4 1646.0,296.7 1646.3,296.0 1646.6,295.3 1646.9,294.7 1647.2,294.0 1647.5,293.3 1647.7,292.6 1648.0,292.0 1648.3,291.3 1648.6,290.6 1648.9,289.9 1649.2,289.3 1649.5,288.6 1649.8,287.9 1650.0,287.3 1650.3,286.6 1650.6,285.9 1650.9,285.3 1651.2,284.6 1651.5,284.0 1651.8,283.3 1652.1,282.6 1652.4,282.0 1652.6,281.3 1652.9,280.7 1653.2,280.0 1653.5,279.4 1653.8,278.7 1654.1,278.1 1654.4,277.4 1654.7,276.8 1654.9,276.1 1655.2,275.5 1655.5,274.8 1655.8,274.2 1656.1,273.5 1656.4,272.9 1656.8,272.0 1657.2,271.1 1657.5,270.3 1657.9,269.4 1658.3,268.6 1658.7,267.7 1659.1,266.9 1659.5,266.0 1659.8,265.2 1660.2,264.3 1660.6,263.5 1661.0,262.6 1661.4,261.8 1661.8,260.9 1662.2,260.1 1662.5,259.2 1662.9,258.4 1663.3,257.5 1663.7,256.7 1664.1,255.9 1664.5,255.0 1664.8,254.2 1665.2,253.3 1665.6,252.5 1666.0,251.7 1666.4,250.8 1666.8,250.0 1667.1,249.1 1667.5,248.3 1667.9,247.5 1668.3,246.6 1668.7,245.8 1669.1,245.0 1669.5,244.1 1669.8,243.3 1670.2,242.5 1670.6,241.6 1671.0,240.8 1671.4,240.0 1671.8,239.1 1672.1,238.3 1672.5,237.5 1672.9,236.7 1673.3,235.8 1673.7,235.0 1674.1,234.2 1674.4,233.3 1674.8,232.5 1675.2,231.7 1675.6,230.9 1676.0,230.0 1676.4,229.2 1676.8,228.4 1677.1,227.6 1677.5,226.7 1677.9,225.9 1678.3,225.1 1678.7,224.3 1679.1,223.4 1679.4,222.6 1679.8,221.8 1680.2,221.0 1680.6,220.2 1681.0,219.5 1681.4,218.9 1681.7,218.3 1682.1,217.6 1682.5,217.0 1682.9,216.3 1683.3,215.7 1683.7,215.0 1684.1,214.4 1684.4,213.7 1684.8,213.1 1685.2,212.5 1685.6,211.8 1686.0,211.2 1686.4,210.5 1686.7,209.9 1687.1,209.2 1687.5,208.6 1687.9,207.9 1688.3,207.3 1688.7,206.6 1689.1,206.0 1689.4,205.3 1689.8,204.7 1690.2,204.0 1690.6,203.4 1691.0,202.7 1691.4,202.1 1691.7,201.4 1692.1,200.8 1692.5,200.1 1692.9,199.5 1693.3,198.8 1693.7,198.2 1694.0,197.5 1694.4,196.9 1694.8,196.2 1695.2,195.6 1695.6,194.9 1696.0,194.3 1696.4,193.6 1696.7,192.9 1697.1,192.3 1697.5,191.6 1697.9,191.0 1698.3,190.3 1698.7,189.7 1699.0,189.0 1699.4,188.3 1699.8,187.7 1700.2,187.0 1700.6,186.4 1701.0,185.7 1701.3,185.0 1701.7,184.4 1702.1,183.7 1702.5,183.0 1702.9,182.4 1703.3,181.7 1703.7,181.0 1704.0,180.4 1704.4,179.7 1704.8,179.0 1705.2,178.4 1705.6,177.7 1706.0,177.0 1706.3,176.3 1706.7,175.7 1707.1,175.0 1707.5,174.3 1707.9,173.6 1708.3,172.9 1708.6,172.3 1709.0,171.6 1709.4,170.9 1709.8,170.2 1710.2,169.5 1710.6,168.9 1711.0,168.2 1711.3,167.5 1711.7,166.8 1712.1,166.1 1712.5,165.4 1712.9,164.7 1713.3,164.0 1713.6,163.3 1714.0,162.6 1714.4,161.9 1714.8,161.2 1715.2,160.5 1715.6,159.8 1715.9,159.1 1716.3,158.4 1716.7,157.7 1717.1,157.0 1717.5,156.3 1717.9,155.6 1718.3,154.8 1718.6,154.1 1719.0,153.4 1719.4,152.7 1719.8,152.0 1720.2,151.2 1720.6,150.5 1720.9,149.8 1721.3,149.1 1721.7,148.3 1722.1,147.6 1722.5,146.9 1722.9,146.1 1723.3,145.4 1723.6,144.6 1724.0,143.9 1724.4,143.1 1724.8,142.4 1725.2,141.6 1725.6,140.9 1725.9,140.1 1726.3,139.3 1726.7,138.6 1727.1,137.8 1727.5,137.0 1727.9,136.3 1728.2,135.5 1728.6,134.7 1729.0,133.9 1729.4,133.1 1729.8,132.4 1730.2,131.6 1730.6,130.8 1730.9,130.0 1731.3,129.2 1731.7,128.4 1732.1,127.6 1732.5,126.7 1732.9,125.9 1733.2,125.1 1733.6,124.3 1734.0,123.5 1734.4,122.6 1734.8,121.8 1735.2,120.9 1735.5,120.1 1735.9,119.3 1736.3,118.4 1736.7,117.5 1737.0,116.9 1737.3,116.2 1737.6,115.6 1737.9,114.9 1738.1,114.3 1738.4,113.6 1738.7,113.0 1739.0,112.3 1739.3,111.6 1739.6,111.0 1739.9,110.3 1740.2,109.6 1740.4,108.9 1740.7,108.3 1741.0,107.6 1741.3,106.9 1741.6,106.2 1741.9,105.5 1742.2,104.8 1742.5,104.1 1742.8,103.4 1743.0,102.7 1743.3,102.0 1743.6,101.3 1743.9,100.5 1744.2,99.8 1744.5,99.1 1744.8,98.4 1745.1,97.6 1745.3,96.9 1745.6,96.1 1745.9,95.4 1746.2,94.7 1746.5,93.9 1746.8,93.1 1747.1,92.4 1747.4,91.6 1747.7,90.9 1747.9,90.1 1748.2,89.3 1748.5,88.5 1748.8,87.7 1749.1,87.0 1749.4,86.2 1749.7,85.4 1750.0,84.6 1750.2,83.8 1750.5,82.9 1750.8,82.1 1751.1,81.3 1751.4,80.5 1751.7,79.6 1752.0,78.8 1752.3,78.0 1752.6,77.1 1752.8,76.3 1753.1,75.4 1753.4,74.5 1753.7,73.7 1754.0,72.8 1754.3,71.9 1754.6,71.0 1754.9,70.1 1755.1,69.3 1755.4,68.3 1755.7,67.4 1756.0,66.5 1756.3,65.6 1756.6,64.7 1756.9,63.8 1757.2,62.8 1757.5,61.9 1757.7,60.9 1758.0,60.0 1758.3,59.0 1758.6,58.0 1758.9,57.0 1759.2,56.1 1759.5,55.1 1759.8,54.1 1760.0,53.1 1760.3,52.1 1760.6,51.0 1760.8,50.4 1761.0,49.7 1761.2,49.0 1761.4,48.3 1761.6,47.6 1761.8,46.9 1762.0,46.2 1762.2,45.5 1762.4,44.8 1762.5,44.1 1762.7,43.3 1762.9,42.6 1763.1,41.9 1763.3,41.2 1763.5,40.4 1763.7,39.7 1763.9,39.0 1764.1,38.2 1764.3,37.5 1764.5,36.7 1764.7,36.0 1764.8,35.2 1765.0,34.4 1765.2,33.7 1765.4,32.9 1765.6,32.1 1765.8,31.4 1766.0,30.6 1766.2,29.8 1766.4,29.0 1766.6,28.2 1766.8,27.4 1767.0,26.6 1767.2,25.8 1767.3,25.0 1767.5,24.2 1767.7,23.4 1767.9,22.5 1768.1,21.7 1768.3,20.9 1768.5,20.0 1768.7,19.2 1768.9,18.3 1769.1,17.5 1769.3,16.6 1769.5,15.8 1769.7,14.9 1769.8,14.1 1770.0,13.2 1770.2,12.3 1770.4,11.4 1770.6,10.5 1770.8,9.6 1771.0,8.7 1771.2,7.8 1771.4,6.9 1771.6,6.0 1771.8,5.1 1772.0,4.2 1772.2,3.2 1772.3,2.3 1772.5,1.4 1772.7,0.4 1772.9,-0.5 1773.1,-1.5 1773.3,-2.4 1773.5,-3.4 1773.7,-4.4 1773.8,-4.9" fill="none" stroke="#e8141c" stroke-width="3.2" stroke-linejoin="round"/><polyline points="1607.7,445.2 1607.9,444.3 1608.1,443.5 1608.3,442.6 1608.4,441.7 1608.6,440.9 1608.8,440.0 1609.0,439.2 1609.2,438.3 1609.4,437.5 1609.6,436.6 1609.8,435.8 1610.0,434.9 1610.2,434.1 1610.4,433.2 1610.6,432.4 1610.8,431.6 1610.9,430.7 1611.1,429.9 1611.3,429.1 1611.5,428.2 1611.7,427.4 1611.9,426.6 1612.1,425.8 1612.3,424.9 1612.5,424.1 1612.7,423.3 1612.9,422.5 1613.1,421.7 1613.3,420.9 1613.4,420.1 1613.6,419.2 1613.8,418.4 1614.0,417.6 1614.2,416.8 1614.4,416.0 1614.6,415.2 1614.8,414.4 1615.0,413.7 1615.2,412.9 1615.4,412.1 1615.6,411.3 1615.7,410.5 1615.9,409.7 1616.1,408.9 1616.3,408.1 1616.5,407.4 1616.7,406.6 1616.9,405.8 1617.1,405.0 1617.3,404.3 1617.5,403.5 1617.7,402.7 1617.9,402.0 1618.1,401.2 1618.2,400.4 1618.4,399.7 1618.6,398.9 1618.8,398.2 1619.0,397.4 1619.2,396.7 1619.4,395.9 1619.6,395.2 1619.8,394.4 1620.0,393.7 1620.2,392.9 1620.4,392.2 1620.6,391.4 1620.7,390.7 1620.9,390.0 1621.1,389.2 1621.3,388.5 1621.5,387.8 1621.7,387.0 1621.9,386.3 1622.1,385.6 1622.3,384.8 1622.5,384.1 1622.7,383.4 1622.9,382.7 1623.1,382.0 1623.2,381.2 1623.4,380.5 1623.6,379.8 1623.8,379.1 1624.0,378.4 1624.2,377.7 1624.4,377.0 1624.6,376.3 1624.8,375.6 1625.0,374.9 1625.2,374.2 1625.4,373.5 1625.5,372.8 1625.7,372.1 1625.9,371.4 1626.1,370.7 1626.3,370.0 1626.5,369.3 1626.7,368.6 1626.9,367.9 1627.1,367.3 1627.3,366.6 1627.6,365.6 1627.9,364.5 1628.1,363.5 1628.4,362.5 1628.7,361.5 1629.0,360.5 1629.3,359.5 1629.6,358.5 1629.9,357.5 1630.2,356.5 1630.4,355.6 1630.7,354.6 1631.0,353.6 1631.3,352.6 1631.6,351.7 1631.9,350.7 1632.2,349.7 1632.5,348.8 1632.8,347.8 1633.0,346.9 1633.3,345.9 1633.6,345.0 1633.9,344.0 1634.2,343.1 1634.5,342.2 1634.8,341.2 1635.1,340.3 1635.3,339.4 1635.6,338.4 1635.9,337.5 1636.2,336.6 1636.5,335.7 1636.8,334.8 1637.1,333.9 1637.4,333.0 1637.7,332.1 1637.9,331.2 1638.2,330.3 1638.5,329.4 1638.8,328.5 1639.1,327.6 1639.4,326.7 1639.7,325.9 1640.0,325.0 1640.2,324.1 1640.5,323.2 1640.8,322.4 1641.1,321.5 1641.4,320.7 1641.7,319.8 1642.0,318.9 1642.3,318.1 1642.6,317.2 1642.8,316.4 1643.1,315.6 1643.4,314.7 1643.7,313.9 1644.0,313.1 1644.3,312.2 1644.6,311.4 1644.9,310.6 1645.1,309.7 1645.4,308.9 1645.7,308.1 1646.0,307.3 1646.3,306.5 1646.6,305.7 1646.9,304.9 1647.2,304.1 1647.5,303.3 1647.7,302.5 1648.0,301.7 1648.3,300.9 1648.6,300.1 1648.9,299.3 1649.2,298.5 1649.5,297.7 1649.8,297.0 1650.0,296.2 1650.3,295.4 1650.6,294.6 1650.9,293.9 1651.2,293.1 1651.5,292.4 1651.8,291.6 1652.1,290.8 1652.4,290.1 1652.6,289.3 1652.9,288.6 1653.2,287.8 1653.5,287.1 1653.8,286.3 1654.1,285.6 1654.4,284.9 1654.7,284.1 1654.9,283.4 1655.2,282.6 1655.5,281.9 1655.8,281.2 1656.1,280.5 1656.4,279.7 1656.7,279.0 1657.0,278.3 1657.3,277.6 1657.5,276.9 1657.8,276.2 1658.1,275.4 1658.4,274.7 1658.7,274.0 1659.0,273.3 1659.3,272.6 1659.6,271.9 1659.8,271.2 1660.1,270.5 1660.4,269.8 1660.7,269.1 1661.0,268.5 1661.3,267.8 1661.6,267.1 1661.9,266.4 1662.2,265.7 1662.4,265.0 1662.7,264.3 1663.0,263.7 1663.3,263.0 1663.6,262.3 1663.9,261.6 1664.2,261.0 1664.5,260.3 1664.7,259.6 1665.0,259.0 1665.3,258.3 1665.6,257.6 1665.9,257.0 1666.2,256.3 1666.5,255.6 1666.8,255.0 1667.1,254.3 1667.3,253.7 1667.6,253.0 1667.9,252.4 1668.2,251.7 1668.5,251.0 1668.8,250.4 1669.1,249.7 1669.4,249.1 1669.6,248.4 1669.9,247.8 1670.2,247.1 1670.5,246.5 1670.8,245.8 1671.1,245.2 1671.4,244.5 1671.7,243.9 1671.9,243.2 1672.2,242.6 1672.5,241.9 1672.8,241.3 1673.1,240.6 1673.4,239.9 1673.7,239.3 1674.0,238.6 1674.3,238.0 1674.5,237.3 1674.8,236.6 1675.1,236.0 1675.4,235.3 1675.7,234.6 1676.0,233.9 1676.3,233.3 1676.6,232.6 1676.8,231.9 1677.1,231.2 1677.4,230.4 1677.7,229.7 1678.0,229.0 1678.3,228.2 1678.6,227.4 1678.9,226.6 1679.2,225.8 1679.4,224.9 1679.7,224.0 1680.0,223.0 1680.2,222.2 1680.4,221.2 1680.5,220.3 1680.9,219.6 1681.3,218.9 1681.7,218.2 1682.0,217.4 1682.4,216.7 1682.8,216.0 1683.2,215.2 1683.6,214.5 1684.0,213.8 1684.3,213.0 1684.7,212.3 1685.1,211.5 1685.5,210.8 1685.9,210.0 1686.3,209.3 1686.6,208.5 1687.0,207.8 1687.4,207.0 1687.8,206.3 1688.2,205.5 1688.6,204.8 1689.0,204.0 1689.3,203.3 1689.7,202.5 1690.1,201.7 1690.5,201.0 1690.9,200.2 1691.3,199.5 1691.6,198.7 1692.0,197.9 1692.4,197.2 1692.8,196.4 1693.2,195.6 1693.6,194.8 1693.9,194.1 1694.3,193.3 1694.7,192.5 1695.1,191.7 1695.5,190.9 1695.9,190.2 1696.3,189.4 1696.6,188.6 1697.0,187.8 1697.4,187.0 1697.8,186.2 1698.2,185.4 1698.6,184.6 1698.9,183.8 1699.3,183.0 1699.7,182.2 1700.1,181.4 1700.5,180.6 1700.9,179.8 1701.3,179.0 1701.6,178.2 1702.0,177.4 1702.4,176.5 1702.8,175.7 1703.2,174.9 1703.6,174.1 1703.9,173.2 1704.3,172.4 1704.7,171.6 1705.1,170.7 1705.5,169.9 1705.9,169.0 1706.2,168.2 1706.6,167.3 1707.0,166.5 1707.4,165.6 1707.8,164.8 1708.1,164.1 1708.4,163.5 1708.6,162.8 1708.9,162.2 1709.2,161.5 1709.5,160.9 1709.8,160.2 1710.1,159.5 1710.4,158.9 1710.7,158.2 1711.0,157.5 1711.2,156.9 1711.5,156.2 1711.8,155.5 1712.1,154.8 1712.4,154.1 1712.7,153.5 1713.0,152.8 1713.3,152.1 1713.5,151.4 1713.8,150.7 1714.1,150.0 1714.4,149.3 1714.7,148.6 1715.0,147.9 1715.3,147.2 1715.6,146.5 1715.9,145.7 1716.1,145.0 1716.4,144.3 1716.7,143.6 1717.0,142.8 1717.3,142.1 1717.6,141.4 1717.9,140.6 1718.2,139.9 1718.4,139.1 1718.7,138.4 1719.0,137.6 1719.3,136.9 1719.6,136.1 1719.9,135.3 1720.2,134.6 1720.5,133.8 1720.8,133.0 1721.0,132.2 1721.3,131.4 1721.6,130.7 1721.9,129.9 1722.2,129.0 1722.5,128.2 1722.8,127.4 1723.1,126.6 1723.3,125.8 1723.6,125.0 1723.9,124.1 1724.2,123.3 1724.5,122.4 1724.8,121.6 1725.1,120.7 1725.4,119.9 1725.7,119.0 1725.9,118.1 1726.2,117.2 1726.5,116.4 1726.8,115.5 1727.1,114.6 1727.4,113.7 1727.7,112.8 1728.0,111.8 1728.2,110.9 1728.5,110.0 1728.8,109.0 1729.1,108.1 1729.4,107.1 1729.7,106.2 1730.0,105.2 1730.3,104.2 1730.6,103.2 1730.8,102.2 1731.1,101.2 1731.4,100.2 1731.6,99.5 1731.8,98.8 1732.0,98.1 1732.2,97.5 1732.4,96.8 1732.6,96.1 1732.8,95.3 1733.0,94.6 1733.1,93.9 1733.3,93.2 1733.5,92.5 1733.7,91.8 1733.9,91.0 1734.1,90.3 1734.3,89.5 1734.5,88.8 1734.7,88.0 1734.9,87.3 1735.1,86.5 1735.3,85.8 1735.5,85.0 1735.6,84.2 1735.8,83.4 1736.0,82.6 1736.2,81.9 1736.4,81.1 1736.6,80.3 1736.8,79.4 1737.0,78.6 1737.2,77.8 1737.4,77.0 1737.6,76.2 1737.8,75.3 1737.9,74.5 1738.1,73.6 1738.3,72.8 1738.5,71.9 1738.7,71.0 1738.9,70.2 1739.1,69.3 1739.3,68.4 1739.5,67.5 1739.7,66.6 1739.9,65.7 1740.1,64.8 1740.3,63.9 1740.4,62.9 1740.6,62.0 1740.8,61.0 1741.0,60.1 1741.2,59.1 1741.4,58.2 1741.6,57.2 1741.8,56.2 1742.0,55.2 1742.2,54.2 1742.4,53.2 1742.6,52.2 1742.8,51.2 1742.9,50.2 1743.1,49.1 1743.3,48.1 1743.5,47.0 1743.7,45.9 1743.9,44.9 1744.1,43.8 1744.3,42.7 1744.5,41.6 1744.7,40.5 1744.9,39.4 1745.1,38.2 1745.3,37.1 1745.4,35.9 1745.6,34.8 1745.8,33.6 1746.0,32.4 1746.2,31.2 1746.4,30.0 1746.6,28.8 1746.8,27.6 1747.0,26.3 1747.2,25.1 1747.4,23.8 1747.6,22.6 1747.7,21.3 1747.9,20.0 1748.1,18.7 1748.3,17.4 1748.5,16.0 1748.7,14.7 1748.9,13.3 1749.1,12.0 1749.3,10.6 1749.5,9.2 1749.6,8.5 1749.7,7.8 1749.8,7.1 1749.9,6.4 1750.0,5.6 1750.1,4.9 1750.2,4.2 1750.2,3.5 1750.3,2.7 1750.4,2.0 1750.5,1.3 1750.6,0.5 1750.7,-0.2 1750.8,-1.0 1750.9,-1.7 1751.0,-2.5 1751.1,-3.2 1751.2,-4.0 1751.3,-4.8 1751.3,-4.8" fill="none" stroke="#000000" stroke-width="3.2" stroke-linejoin="round"/></g>
<rect x="1411.6" y="19.6" width="499.4" height="401.5" fill="none" stroke="#000" stroke-width="3.0"/>
<line x1="1450.01" y1="421.10" x2="1450.01" y2="410.90" stroke="#000" stroke-width="2.8" />
<line x1="1488.42" y1="421.10" x2="1488.42" y2="414.90" stroke="#000" stroke-width="2.8" />
<line x1="1526.84" y1="421.10" x2="1526.84" y2="410.90" stroke="#000" stroke-width="2.8" />
<line x1="1565.26" y1="421.10" x2="1565.26" y2="414.90" stroke="#000" stroke-width="2.8" />
<line x1="1603.67" y1="421.10" x2="1603.67" y2="410.90" stroke="#000" stroke-width="2.8" />
<line x1="1642.09" y1="421.10" x2="1642.09" y2="414.90" stroke="#000" stroke-width="2.8" />
<line x1="1680.50" y1="421.10" x2="1680.50" y2="410.90" stroke="#000" stroke-width="2.8" />
<line x1="1718.91" y1="421.10" x2="1718.91" y2="414.90" stroke="#000" stroke-width="2.8" />
<line x1="1757.33" y1="421.10" x2="1757.33" y2="410.90" stroke="#000" stroke-width="2.8" />
<line x1="1795.74" y1="421.10" x2="1795.74" y2="414.90" stroke="#000" stroke-width="2.8" />
<line x1="1834.16" y1="421.10" x2="1834.16" y2="410.90" stroke="#000" stroke-width="2.8" />
<line x1="1872.58" y1="421.10" x2="1872.58" y2="414.90" stroke="#000" stroke-width="2.8" />
<line x1="1411.60" y1="370.91" x2="1417.80" y2="370.91" stroke="#000" stroke-width="2.8" />
<line x1="1411.60" y1="320.73" x2="1421.80" y2="320.73" stroke="#000" stroke-width="2.8" />
<line x1="1411.60" y1="270.54" x2="1417.80" y2="270.54" stroke="#000" stroke-width="2.8" />
<line x1="1411.60" y1="220.35" x2="1421.80" y2="220.35" stroke="#000" stroke-width="2.8" />
<line x1="1411.60" y1="170.16" x2="1417.80" y2="170.16" stroke="#000" stroke-width="2.8" />
<line x1="1411.60" y1="119.97" x2="1421.80" y2="119.97" stroke="#000" stroke-width="2.8" />
<line x1="1411.60" y1="69.79" x2="1417.80" y2="69.79" stroke="#000" stroke-width="2.8" />
<text x="1342.11" y="30.90" font-size="34.5" textLength="49.18" lengthAdjust="spacingAndGlyphs" fill="#000" >5.0</text>
<text x="1342.90" y="131.27" font-size="34.5" textLength="48.42" lengthAdjust="spacingAndGlyphs" fill="#000" >2.5</text>
<text x="1372.04" y="231.65" font-size="34.5" textLength="19.23" lengthAdjust="spacingAndGlyphs" fill="#000" >0</text>
<text x="1314.11" y="334.42" font-size="34.5" textLength="27.03" lengthAdjust="spacingAndGlyphs" fill="#000" >−</text>
<text x="1343.11" y="332.02" font-size="34.5" textLength="48.20" lengthAdjust="spacingAndGlyphs" fill="#000" >2.5</text>
<text x="1314.11" y="434.80" font-size="34.5" textLength="27.03" lengthAdjust="spacingAndGlyphs" fill="#000" >−</text>
<text x="1342.53" y="432.40" font-size="34.5" textLength="48.75" lengthAdjust="spacingAndGlyphs" fill="#000" >5.0</text>
<text x="1420.72" y="458.00" font-size="34.5" textLength="26.91" lengthAdjust="spacingAndGlyphs" fill="#000" >−</text>
<text x="1448.52" y="455.60" font-size="34.5" textLength="48.43" lengthAdjust="spacingAndGlyphs" fill="#000" >0.6</text>
<text x="1574.51" y="458.00" font-size="34.5" textLength="27.03" lengthAdjust="spacingAndGlyphs" fill="#000" >−</text>
<text x="1603.11" y="455.60" font-size="34.5" textLength="49.06" lengthAdjust="spacingAndGlyphs" fill="#000" >0.2</text>
<text x="1730.00" y="455.60" font-size="34.5" textLength="49.38" lengthAdjust="spacingAndGlyphs" fill="#000" >0.2</text>
<text x="1884.22" y="455.60" font-size="34.5" textLength="48.43" lengthAdjust="spacingAndGlyphs" fill="#000" >0.6</text>
<text x="1621.15" y="497.60" font-size="34.5" textLength="71.10" lengthAdjust="spacingAndGlyphs" fill="#000" >Bias</text>
<text x="1695.40" y="505.99" font-size="52.32" textLength="13.10" lengthAdjust="spacingAndGlyphs" fill="#000" >/</text>
<text x="1711.88" y="497.60" font-size="34.5" textLength="27.04" lengthAdjust="spacingAndGlyphs" fill="#000" >V</text>
<text transform="translate(1297.00,315.80) rotate(-90)" x="-1.71" y="0" font-size="36" textLength="127.66" lengthAdjust="spacingAndGlyphs" fill="#000">Current</text>
<text transform="translate(1303.05,186.30) rotate(-90)" x="0.00" y="0" font-size="46.04" textLength="13.50" lengthAdjust="spacingAndGlyphs" fill="#000">/</text>
<text transform="translate(1297.00,167.00) rotate(-90)" x="-0.87" y="0" font-size="36" textLength="46.35" lengthAdjust="spacingAndGlyphs" fill="#000">nA</text>
<text x="1439.11" y="63.90" font-size="37.4" textLength="42.57" lengthAdjust="spacingAndGlyphs" fill="#000" >(c)</text>
<line x1="1708.30" y1="251.00" x2="1753.80" y2="251.00" stroke="#000000" stroke-width="3.2" />
<text x="1758.22" y="258.30" font-size="29" textLength="59.00" lengthAdjust="spacingAndGlyphs" fill="#000" >8.33</text>
<text x="1829.09" y="258.30" font-size="29" textLength="63.31" lengthAdjust="spacingAndGlyphs" fill="#000" >GPa</text>
<line x1="1708.30" y1="274.75" x2="1753.80" y2="274.75" stroke="#e8141c" stroke-width="3.2" />
<text x="1757.25" y="282.05" font-size="29" textLength="59.66" lengthAdjust="spacingAndGlyphs" fill="#000" >7.66</text>
<text x="1829.09" y="282.05" font-size="29" textLength="63.31" lengthAdjust="spacingAndGlyphs" fill="#000" >GPa</text>
<line x1="1708.30" y1="298.50" x2="1753.80" y2="298.50" stroke="#1f4ba5" stroke-width="3.2" />
<text x="1758.06" y="305.80" font-size="29" textLength="58.85" lengthAdjust="spacingAndGlyphs" fill="#000" >6.36</text>
<text x="1829.09" y="305.80" font-size="29" textLength="63.31" lengthAdjust="spacingAndGlyphs" fill="#000" >GPa</text>
<line x1="1708.30" y1="322.25" x2="1753.80" y2="322.25" stroke="#ad58ae" stroke-width="3.2" />
<text x="1757.52" y="329.55" font-size="29" textLength="59.72" lengthAdjust="spacingAndGlyphs" fill="#000" >5.05</text>
<text x="1829.09" y="329.55" font-size="29" textLength="63.31" lengthAdjust="spacingAndGlyphs" fill="#000" >GPa</text>
<line x1="1708.30" y1="346.00" x2="1753.80" y2="346.00" stroke="#17803f" stroke-width="3.2" />
<text x="1758.84" y="353.30" font-size="29" textLength="59.09" lengthAdjust="spacingAndGlyphs" fill="#000" >4.01</text>
<text x="1829.09" y="353.30" font-size="29" textLength="63.31" lengthAdjust="spacingAndGlyphs" fill="#000" >GPa</text>
<line x1="1708.30" y1="369.75" x2="1753.80" y2="369.75" stroke="#1b2a5c" stroke-width="3.2" />
<text x="1758.01" y="377.05" font-size="29" textLength="59.21" lengthAdjust="spacingAndGlyphs" fill="#000" >2.95</text>
<text x="1829.09" y="377.05" font-size="29" textLength="63.31" lengthAdjust="spacingAndGlyphs" fill="#000" >GPa</text>
<line x1="1708.30" y1="393.50" x2="1753.80" y2="393.50" stroke="#5a47a3" stroke-width="3.2" />
<text x="1756.46" y="400.80" font-size="29" textLength="60.47" lengthAdjust="spacingAndGlyphs" fill="#000" >1.86</text>
<text x="1829.09" y="400.80" font-size="29" textLength="63.31" lengthAdjust="spacingAndGlyphs" fill="#000" >GPa</text>
</svg>
</body></html>
